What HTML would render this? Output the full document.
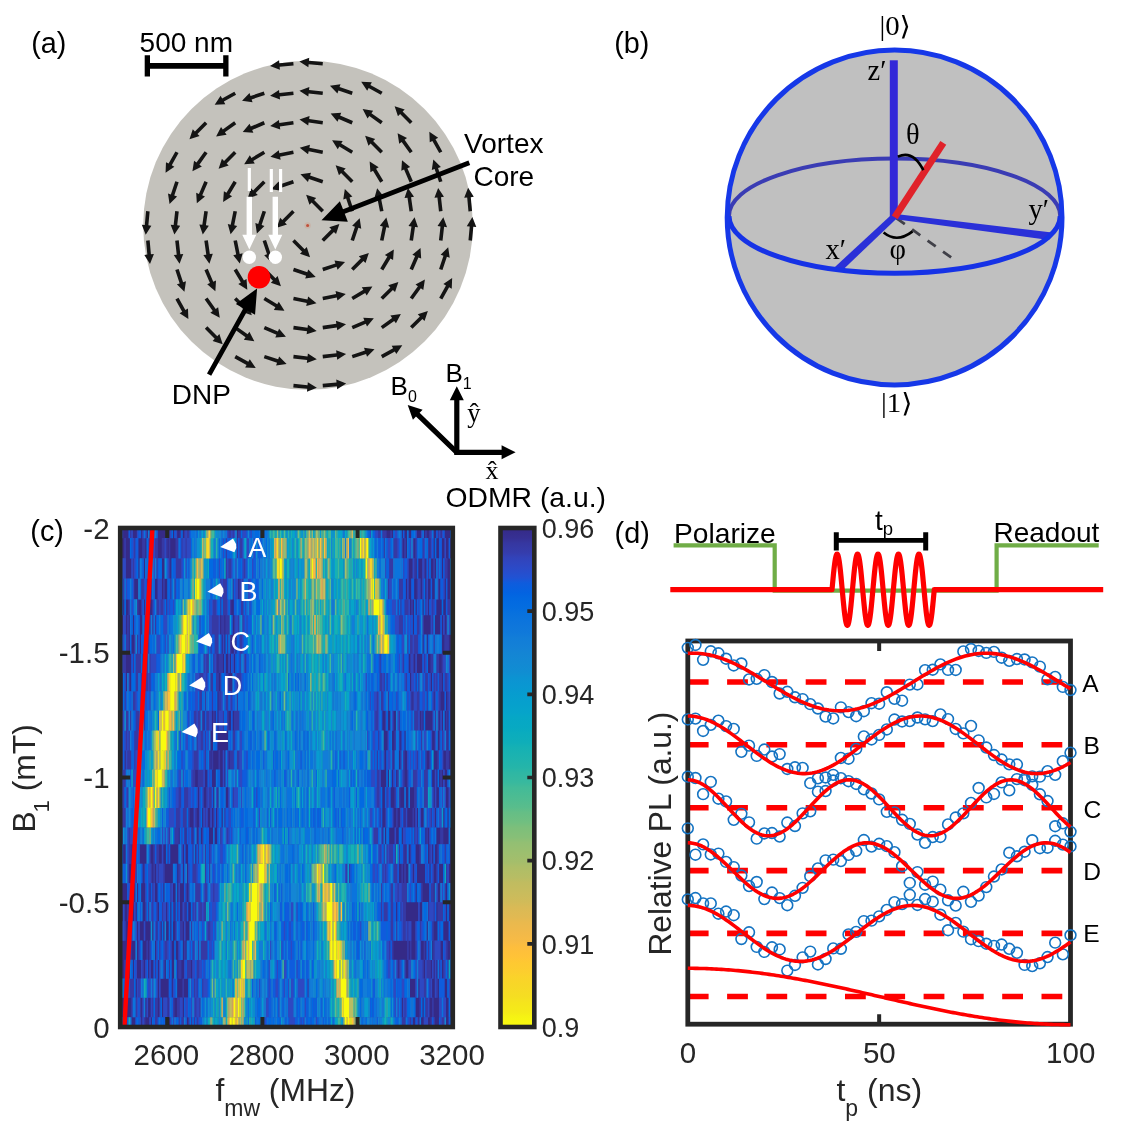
<!DOCTYPE html>
<html lang="en"><head><meta charset="utf-8"><title>Figure</title>
<style>html,body{margin:0;padding:0;background:#fff}svg{display:block}</style></head><body>
<svg width="1126" height="1125" viewBox="0 0 1126 1125">
<rect width="1126" height="1125" fill="#fff"/>
<g id="panel-a">
<ellipse cx="308.0" cy="225.3" rx="164.8" ry="164.5" fill="#c4c2bc"/>
<path fill="#141414" d="M293.28,61.96L279.34,63.22L279.06,60.24L270.04,65.88L279.93,69.8L279.66,66.81L293.6,65.54ZM322.91,61.96L308.97,60.69L309.24,57.7L299.35,61.62L308.37,67.26L308.64,64.28L322.59,65.54ZM234.33,91.68L222.1,98.48L220.64,95.85L214.67,104.66L225.3,104.24L223.84,101.62L236.08,94.82ZM263.76,91.54L250.47,95.97L249.53,93.12L242.03,100.68L252.56,102.23L251.61,99.38L264.89,94.96ZM293.24,91.46L279.33,93.01L279,90.03L270.09,95.85L280.06,99.57L279.73,96.59L293.64,95.04ZM322.95,91.46L309.03,89.91L309.37,86.93L299.39,90.65L308.31,96.47L308.64,93.49L322.55,95.04ZM352.82,91.54L339.54,87.12L340.49,84.27L329.96,85.82L337.45,93.38L338.4,90.53L351.68,94.96ZM382.62,91.68L370.39,84.88L371.84,82.26L361.21,81.84L367.18,90.65L368.64,88.02L380.88,94.82ZM204.82,121.48L194.92,131.38L192.8,129.26L189.48,139.37L199.59,136.04L197.47,133.92L207.37,124.02ZM234.16,121.29L222.77,129.42L221.03,126.98L216.09,136.41L226.61,134.79L224.86,132.35L236.25,124.21ZM263.62,121.1L250.75,126.61L249.57,123.85L242.73,132.01L253.35,132.68L252.17,129.92L265.03,124.4ZM293.19,120.97L279.33,122.95L278.9,119.98L270.18,126.07L280.26,129.48L279.84,126.51L293.7,124.53ZM323,120.97L309.15,118.99L309.57,116.02L299.49,119.43L308.21,125.52L308.64,122.55L322.5,124.53ZM352.96,121.1L340.09,115.58L341.27,112.82L330.65,113.49L337.49,121.65L338.67,118.89L351.54,124.4ZM382.8,121.29L371.4,113.15L373.15,110.71L362.63,109.09L367.57,118.52L369.31,116.08L380.7,124.21ZM412.52,121.48L402.62,111.58L404.74,109.46L394.63,106.13L397.96,116.24L400.08,114.12L409.98,124.02ZM175.4,151.38L168.6,163.61L165.98,162.16L165.56,172.79L174.37,166.82L171.75,165.36L178.55,153.12ZM204.63,151.2L196.49,162.6L194.05,160.85L192.43,171.37L201.86,166.43L199.42,164.69L207.56,153.3ZM233.94,150.98L224.04,160.88L221.92,158.76L218.59,168.87L228.7,165.54L226.58,163.42L236.48,153.52ZM263.4,150.71L251.39,157.91L249.85,155.34L244.17,164.34L254.79,163.57L253.25,161L265.25,153.79ZM293.09,150.48L279.36,153.23L278.77,150.29L270.4,156.86L280.65,159.7L280.07,156.76L293.79,154.02ZM323.1,150.48L309.37,147.74L309.96,144.8L299.71,147.64L308.08,154.21L308.67,151.27L322.4,154.02ZM353.18,150.71L341.17,143.5L342.71,140.93L332.1,140.16L337.78,149.16L339.32,146.59L351.32,153.79ZM383.02,150.98L373.12,141.08L375.24,138.96L365.13,135.63L368.46,145.74L370.58,143.62L380.48,153.52ZM412.71,151.2L404.58,139.81L407.02,138.07L397.59,133.13L399.21,143.65L401.65,141.9L409.79,153.3ZM442.32,151.38L435.52,139.14L438.15,137.68L429.34,131.71L429.76,142.34L432.38,140.89L439.18,153.12ZM175.27,181.18L170.84,194.46L167.99,193.51L169.54,204.04L177.1,196.55L174.26,195.6L178.68,182.32ZM204.44,181.04L198.92,193.91L196.17,192.73L196.84,203.35L204.99,196.51L202.23,195.33L207.75,182.46ZM233.67,180.82L226.46,192.83L223.89,191.29L223.12,201.9L232.12,196.22L229.55,194.68L236.75,182.68ZM263.05,180.48L253.15,190.38L251.03,188.26L247.71,198.37L257.82,195.04L255.7,192.92L265.6,183.02ZM292.87,180.04L279.59,184.47L278.64,181.62L271.15,189.18L281.68,190.73L280.73,187.88L294.01,183.46ZM323.32,180.04L310.04,175.62L310.99,172.77L300.46,174.32L307.95,181.88L308.9,179.03L322.18,183.46ZM353.52,180.48L343.62,170.58L345.74,168.46L335.63,165.13L338.96,175.24L341.08,173.12L350.98,183.02ZM383.29,180.82L376.09,168.82L378.66,167.28L369.66,161.6L370.43,172.21L373,170.67L380.21,182.68ZM412.9,181.04L407.39,168.17L410.15,166.99L401.99,160.15L401.32,170.77L404.08,169.59L409.6,182.46ZM442.46,181.18L438.03,167.9L440.88,166.95L433.32,159.46L431.77,169.99L434.62,169.04L439.04,182.32ZM146.07,211.09L144.8,225.03L141.81,224.76L145.73,234.65L151.37,225.63L148.38,225.36L149.65,211.41ZM175.19,211.05L173.64,224.97L170.66,224.63L174.38,234.61L180.2,225.69L177.22,225.36L178.76,211.45ZM204.31,211L202.33,224.85L199.36,224.43L202.77,234.51L208.86,225.79L205.89,225.36L207.87,211.5ZM233.44,210.9L230.7,224.63L227.76,224.04L230.6,234.29L237.17,225.92L234.23,225.33L236.97,211.6ZM262.62,210.68L258.19,223.96L255.34,223.01L256.89,233.54L264.45,226.05L261.61,225.1L266.03,211.82ZM292.17,209.98L282.27,219.88L280.15,217.76L276.82,227.87L286.94,224.54L284.82,222.42L294.71,212.52ZM324.02,209.98L314.12,200.08L316.24,197.96L306.13,194.63L309.46,204.74L311.58,202.62L321.48,212.52ZM353.96,210.68L349.53,197.4L352.38,196.45L344.82,188.96L343.27,199.49L346.12,198.54L350.54,211.82ZM383.52,210.9L380.77,197.17L383.71,196.58L377.14,188.21L374.3,198.46L377.24,197.87L379.98,211.6ZM413.03,211L411.05,197.14L414.02,196.71L407.93,187.99L404.52,198.07L407.49,197.65L409.47,211.5ZM442.54,211.05L440.99,197.14L443.97,196.81L438.15,187.89L434.43,197.87L437.41,197.53L438.96,211.45ZM472.04,211.09L470.78,197.14L473.76,196.87L468.12,187.85L464.2,197.74L467.19,197.47L468.46,211.41ZM146.07,240.68L147.33,254.62L144.35,254.89L149.99,263.92L153.91,254.02L150.92,254.29L149.65,240.35ZM175.19,240.71L176.73,254.63L173.75,254.96L179.57,263.87L183.29,253.9L180.31,254.23L178.76,240.32ZM204.31,240.77L206.29,254.63L203.32,255.05L209.42,263.78L212.82,253.69L209.85,254.12L207.87,240.26ZM233.44,240.87L236.19,254.6L233.25,255.18L239.82,263.56L242.66,253.3L239.72,253.89L236.97,240.16ZM262.62,241.08L267.04,254.36L264.2,255.31L271.76,262.81L273.31,252.28L270.46,253.23L266.03,239.94ZM292.17,241.79L302.07,251.69L299.95,253.81L310.06,257.13L306.74,247.02L304.61,249.14L294.71,239.24ZM324.02,241.79L333.92,231.89L336.04,234.01L339.37,223.9L329.26,227.22L331.38,229.34L321.48,239.24ZM353.96,241.08L358.38,227.8L361.23,228.75L359.68,218.22L352.12,225.71L354.97,226.66L350.54,239.94ZM383.52,240.87L386.26,227.14L389.2,227.73L386.36,217.47L379.79,225.84L382.73,226.43L379.98,240.16ZM413.03,240.77L415.01,226.91L417.98,227.33L414.57,217.25L408.48,225.98L411.45,226.4L409.47,240.26ZM442.54,240.71L444.09,226.8L447.07,227.13L443.35,217.16L437.53,226.07L440.51,226.4L438.96,240.32ZM472.04,240.68L473.31,226.73L476.3,227.01L472.38,217.11L466.74,226.14L469.72,226.41L468.46,240.35ZM175.27,270.11L179.7,283.39L176.85,284.34L184.41,291.84L185.96,281.31L183.11,282.25L178.68,268.97ZM204.44,270.25L209.95,283.12L207.2,284.3L215.35,291.14L216.02,280.52L213.26,281.7L207.75,268.83ZM233.67,270.47L240.87,282.47L238.3,284.02L247.3,289.69L246.53,279.08L243.96,280.62L236.75,268.62ZM263.05,270.81L272.95,280.71L270.83,282.84L280.94,286.16L277.62,276.05L275.5,278.17L265.6,268.27ZM292.87,271.25L306.15,275.68L305.21,278.52L315.74,276.97L308.24,269.42L307.29,272.26L294.01,267.83ZM323.32,271.25L336.6,266.82L337.55,269.67L345.04,262.11L334.51,260.56L335.46,263.41L322.18,267.83ZM353.52,270.81L363.42,260.92L365.54,263.04L368.87,252.92L358.76,256.25L360.88,258.37L350.98,268.27ZM383.29,270.47L390.5,258.46L393.07,260.01L393.84,249.39L384.84,255.07L387.41,256.61L380.21,268.62ZM412.9,270.25L418.42,257.38L421.18,258.56L420.51,247.94L412.35,254.78L415.11,255.96L409.6,268.83ZM442.46,270.11L446.88,256.83L449.73,257.78L448.18,247.25L440.62,254.74L443.47,255.69L439.04,268.97ZM175.4,299.44L182.2,311.68L179.58,313.14L188.39,319.11L187.97,308.48L185.35,309.93L178.55,297.7ZM204.63,299.62L212.76,311.01L210.32,312.75L219.75,317.69L218.14,307.17L215.69,308.92L207.56,297.52ZM233.94,299.84L243.84,309.74L241.71,311.86L251.83,315.19L248.5,305.08L246.38,307.2L236.48,297.3ZM263.4,300.11L275.4,307.32L273.86,309.89L284.48,310.66L278.8,301.66L277.26,304.23L265.25,297.03ZM293.09,300.34L306.82,303.08L306.23,306.02L316.49,303.18L308.11,296.61L307.52,299.55L293.79,296.8ZM323.1,300.34L336.83,297.59L337.42,300.53L345.79,293.96L335.54,291.12L336.13,294.06L322.4,296.8ZM353.18,300.11L365.18,292.91L366.72,295.48L372.4,286.48L361.79,287.25L363.33,289.82L351.32,297.03ZM383.02,299.84L392.92,289.94L395.04,292.06L398.37,281.95L388.26,285.28L390.38,287.4L380.48,297.3ZM412.71,299.62L420.85,288.22L423.29,289.97L424.91,279.45L415.48,284.39L417.92,286.13L409.79,297.52ZM442.32,299.44L449.12,287.21L451.74,288.66L452.16,278.03L443.35,284L445.98,285.46L439.18,297.7ZM204.82,328.87L214.72,338.77L212.6,340.89L222.71,344.22L219.39,334.1L217.26,336.22L207.37,326.33ZM234.16,329.06L245.55,337.2L243.81,339.64L254.33,341.26L249.39,331.83L247.65,334.27L236.25,326.13ZM263.62,329.25L276.48,334.77L275.3,337.52L285.93,336.86L279.08,328.7L277.9,331.46L265.03,325.94ZM293.19,329.38L307.05,331.36L306.62,334.33L316.71,330.92L307.98,324.83L307.56,327.8L293.7,325.82ZM323,329.38L336.86,327.4L337.29,330.37L346.01,324.27L335.93,320.87L336.35,323.84L322.5,325.82ZM352.96,329.25L365.83,323.74L367.01,326.5L373.85,318.34L363.23,317.67L364.41,320.43L351.54,325.94ZM382.8,329.06L394.19,320.93L395.93,323.37L400.87,313.94L390.35,315.55L392.1,318L380.7,326.13ZM412.52,328.87L422.42,318.97L424.54,321.09L427.87,310.98L417.76,314.3L419.88,316.43L409.98,326.33ZM234.33,358.2L246.57,365L245.12,367.62L255.75,368.04L249.78,359.23L248.32,361.85L236.08,355.05ZM263.76,358.33L277.04,362.76L276.09,365.61L286.62,364.06L279.12,356.5L278.18,359.35L264.89,354.92ZM293.24,358.41L307.16,359.96L306.83,362.94L316.8,359.22L307.89,353.4L307.55,356.38L293.64,354.84ZM322.95,358.41L336.86,356.87L337.19,359.85L346.11,354.03L336.13,350.31L336.47,353.29L322.55,354.84ZM352.82,358.33L366.1,353.91L367.05,356.75L374.54,349.19L364.01,347.65L364.96,350.49L351.68,354.92ZM382.62,358.2L394.86,351.4L396.32,354.02L402.29,345.21L391.66,345.63L393.11,348.25L380.88,355.05ZM293.28,387.45L307.22,388.71L306.95,391.7L316.85,387.78L307.82,382.14L307.55,385.13L293.6,383.86ZM322.91,387.45L336.86,386.18L337.13,389.17L346.15,383.53L336.26,379.61L336.53,382.59L322.59,383.86Z"/>
<circle cx="307.6" cy="225.4" r="3.2" fill="#c8b4a8"/><circle cx="307.6" cy="225.4" r="1.5" fill="#c0503a"/>
<path fill="#fff" d="M246.6,196.7H252V234.7H256.3L249.3,249.5L242.3,234.7H246.6Z"/>
<circle cx="249.3" cy="257.2" r="6.7" fill="#fff"/>
<path fill="#fff" d="M272.6,196.7H278V234.7H282.3L275.3,249.5L268.3,234.7H272.6Z"/>
<circle cx="275.3" cy="257.2" r="6.7" fill="#fff"/>
<text x="249.3" y="190.8" font-family="'Liberation Sans', Arial, Helvetica, sans-serif" font-size="33" fill="#fff" text-anchor="middle">I</text>
<text x="276" y="191.6" font-family="'Liberation Sans', Arial, Helvetica, sans-serif" font-size="33" fill="#fff" text-anchor="middle">II</text>
<circle cx="259" cy="277.3" r="11.3" fill="#ff0000"/>
<path fill="#000" d="M468.43,160.56L343,209.36L339.88,201.35L321.5,220.3L347.86,221.85L344.74,213.84L470.17,165.04Z"/>
<path fill="#000" d="M211.2,375.87L247.53,310.54L255.05,314.72L257.1,288.4L235.82,304.03L243.34,308.21L207,373.53Z"/>
<path fill="#000" d="M459.4,452.3L459.4,400.2L463.8,400.2L456.8,386.2L449.8,400.2L454.2,400.2L454.2,452.3Z"/>
<path fill="#000" d="M454.2,454.9L501.6,454.9L501.6,459.3L515.6,452.3L501.6,445.3L501.6,449.7L454.2,449.7Z"/>
<path fill="#000" d="M458.6,450.43L419.59,412.84L422.64,409.67L407.7,405L412.93,419.75L415.98,416.59L455,454.17Z"/>
<path fill="#000" d="M144.7,55.2h5.3v7.7h73.2v-7.7h5.3v21.3h-5.3v-7.7h-73.2v7.7h-5.3z"/>
<text x="31.2" y="52.5" font-family="'Liberation Sans', Arial, Helvetica, sans-serif" font-size="28.8" fill="#000" >(a)</text>
<text x="139.6" y="52.4" font-family="'Liberation Sans', Arial, Helvetica, sans-serif" font-size="28" fill="#000" >500 nm</text>
<text x="503.8" y="152.6" font-family="'Liberation Sans', Arial, Helvetica, sans-serif" font-size="28" fill="#000" text-anchor="middle">Vortex</text>
<text x="503.8" y="185.5" font-family="'Liberation Sans', Arial, Helvetica, sans-serif" font-size="28" fill="#000" text-anchor="middle">Core</text>
<text x="171.8" y="404.3" font-family="'Liberation Sans', Arial, Helvetica, sans-serif" font-size="28" fill="#000" >DNP</text>
<text x="390.6" y="394.8" font-family="'Liberation Sans', Arial, Helvetica, sans-serif" font-size="26" fill="#000">B<tspan font-size="16" dy="7">0</tspan></text>
<text x="445.4" y="382.4" font-family="'Liberation Sans', Arial, Helvetica, sans-serif" font-size="26" fill="#000">B<tspan font-size="16" dy="7">1</tspan></text>
<text x="467.2" y="421.8" font-family="'Liberation Serif', 'DejaVu Serif', 'Times New Roman', serif" font-size="26.5" fill="#000">&#375;</text>
<text x="485.6" y="478.8" font-family="'Liberation Serif', 'DejaVu Serif', 'Times New Roman', serif" font-size="26" fill="#000">x&#770;</text>
</g>
<g id="panel-b">
<circle cx="894.6" cy="217.5" r="167.4" fill="#c0c0c0"/>
<path d="M729,215.9A165.6,57.4 0 0 1 1060.2,215.9" fill="none" stroke="#3a3cb4" stroke-width="4"/>
<line x1="896.7" y1="218.4" x2="955.8" y2="260.8" stroke="#404048" stroke-width="2.8" stroke-dasharray="10,9"/>
<path fill="#2a30d8" d="M893.7,213.8L1052,232.4L1049,240L893.7,219.0Z"/>
<path fill="#2a30d8" d="M892.2,213.9L896.7,218.4L840.6,272L833.6,268.2Z"/>
<rect x="889.8" y="60.3" width="8" height="158.1" fill="#3328d8"/>
<path d="M729,215.9A165.6,57.4 0 0 0 1060.2,215.9" fill="none" stroke="#1632e6" stroke-width="5"/>
<line x1="894.7" y1="217.4" x2="943.3" y2="142.8" stroke="#e0222a" stroke-width="7"/>
<circle cx="894.6" cy="217.5" r="167.4" fill="none" stroke="#1638e8" stroke-width="5"/>
<path d="M897.8,156.6Q913,149.5 923.4,170.2" fill="none" stroke="#000" stroke-width="2.6"/>
<path d="M883.6,232.6Q897,243.5 912.6,231.4" fill="none" stroke="#000" stroke-width="2.6"/>
<text x="879.4" y="35" font-family="'Liberation Serif', 'DejaVu Serif', 'Times New Roman', serif" font-size="26.5" fill="#000" textLength="31.5" lengthAdjust="spacingAndGlyphs">|0&#10217;</text>
<text x="881" y="412" font-family="'Liberation Serif', 'DejaVu Serif', 'Times New Roman', serif" font-size="26.5" fill="#000" textLength="31.5" lengthAdjust="spacingAndGlyphs">|1&#10217;</text>
<text x="867.5" y="79.6" font-family="'Liberation Serif', 'DejaVu Serif', 'Times New Roman', serif" font-size="28.5" fill="#000" >z&#8242;</text>
<text x="825.5" y="259.3" font-family="'Liberation Serif', 'DejaVu Serif', 'Times New Roman', serif" font-size="28.5" fill="#000" >x&#8242;</text>
<text x="1028.5" y="219" font-family="'Liberation Serif', 'DejaVu Serif', 'Times New Roman', serif" font-size="28.5" fill="#000" >y&#8242;</text>
<text x="906" y="143.9" font-family="'Liberation Serif', 'DejaVu Serif', 'Times New Roman', serif" font-size="28.5" fill="#000" >&#952;</text>
<text x="889.5" y="258.5" font-family="'Liberation Serif', 'DejaVu Serif', 'Times New Roman', serif" font-size="28.5" fill="#000" >&#966;</text>
<text x="614.2" y="52.5" font-family="'Liberation Sans', Arial, Helvetica, sans-serif" font-size="28.8" fill="#000">(b)</text>
</g>
<g id="panel-c">
<rect x="120.2" y="528.0" width="332.6" height="499" fill="#353eaf"/>
<path fill="#352a87" d="M122.97,528H128.67V538.15H122.97ZM132.67,528H136.98V538.15H132.67ZM140.99,528H142.52V538.15H140.99ZM146.53,528H148.07V538.15H146.53ZM157.62,528H166.08V538.15H157.62ZM172.86,528H174.4V538.15H172.86ZM177.02,528H179.94V538.15H177.02ZM182.56,528H184.1V538.15H182.56ZM236.61,528H238.15V538.15H236.61ZM386.28,528H390.59V538.15H386.28ZM391.82,528H393.36V538.15H391.82ZM401.52,528H403.06V538.15H401.52ZM404.3,528H407.22V538.15H404.3ZM408.45,528H411.38V538.15H408.45ZM416.77,528H421.08V538.15H416.77ZM423.7,528H425.23V538.15H423.7ZM426.47,528H429.39V538.15H426.47ZM433.4,528H436.32V538.15H433.4ZM440.33,528H441.86V538.15H440.33ZM444.49,528H450.18V538.15H444.49ZM120.2,538H124.51V558.45H120.2ZM125.74,538H130.05V558.45H125.74ZM138.22,538H142.52V558.45H138.22ZM145.15,538H146.68V558.45H145.15ZM149.3,538H150.84V558.45H149.3ZM157.62,538H161.93V558.45H157.62ZM167.32,538H168.85V558.45H167.32ZM170.09,538H175.78V558.45H170.09ZM402.91,538H404.45V558.45H402.91ZM405.68,538H407.22V558.45H405.68ZM414,538H415.53V558.45H414ZM429.24,538H430.78V558.45H429.24ZM433.4,538H434.93V558.45H433.4ZM436.17,538H439.09V558.45H436.17ZM441.71,538H444.63V558.45H441.71ZM445.87,538H448.79V558.45H445.87ZM451.41,538H452.95V558.45H451.41ZM125.74,558.3H131.44V578.75H125.74ZM138.22,558.3H139.75V578.75H138.22ZM143.76,558.3H145.3V578.75H143.76ZM161.78,558.3H164.7V578.75H161.78ZM170.09,558.3H171.63V578.75H170.09ZM408.45,558.3H412.76V578.75H408.45ZM415.38,558.3H416.92V578.75H415.38ZM418.15,558.3H422.46V578.75H418.15ZM425.08,558.3H426.62V578.75H425.08ZM430.63,558.3H433.55V578.75H430.63ZM434.78,558.3H436.32V578.75H434.78ZM441.71,558.3H443.25V578.75H441.71ZM447.26,558.3H450.18V578.75H447.26ZM134.06,578.6H138.37V599.45H134.06ZM146.53,578.6H148.07V599.45H146.53ZM154.85,578.6H157.77V599.45H154.85ZM161.78,578.6H163.31V599.45H161.78ZM164.55,578.6H167.47V599.45H164.55ZM238,578.6H239.53V599.45H238ZM405.68,578.6H407.22V599.45H405.68ZM408.45,578.6H411.38V599.45H408.45ZM414,578.6H416.92V599.45H414ZM420.93,578.6H422.46V599.45H420.93ZM425.08,578.6H426.62V599.45H425.08ZM427.86,578.6H430.78V599.45H427.86ZM432.01,578.6H434.93V599.45H432.01ZM438.94,578.6H440.48V599.45H438.94ZM444.49,578.6H446.02V599.45H444.49ZM447.26,578.6H450.18V599.45H447.26ZM122.97,599.3H124.51V615.15H122.97ZM125.74,599.3H128.67V615.15H125.74ZM138.22,599.3H141.14V615.15H138.22ZM143.76,599.3H145.3V615.15H143.76ZM146.53,599.3H152.22V615.15H146.53ZM231.07,599.3H233.99V615.15H231.07ZM409.84,599.3H411.38V615.15H409.84ZM412.61,599.3H414.15V615.15H412.61ZM415.38,599.3H416.92V615.15H415.38ZM422.31,599.3H423.85V615.15H422.31ZM427.86,599.3H429.39V615.15H427.86ZM436.17,599.3H441.86V615.15H436.17ZM443.1,599.3H446.02V615.15H443.1ZM120.2,615H123.12V634.65H120.2ZM125.74,615H127.28V634.65H125.74ZM128.52,615H130.05V634.65H128.52ZM132.67,615H134.21V634.65H132.67ZM139.6,615H142.52V634.65H139.6ZM145.15,615H148.07V634.65H145.15ZM219.98,615H221.52V634.65H219.98ZM224.14,615H225.67V634.65H224.14ZM232.45,615H233.99V634.65H232.45ZM412.61,615H414.15V634.65H412.61ZM423.7,615H430.78V634.65H423.7ZM434.78,615H440.48V634.65H434.78ZM441.71,615H443.25V634.65H441.71ZM444.49,615H446.02V634.65H444.49ZM120.2,634.5H121.74V653.85H120.2ZM128.52,634.5H130.05V653.85H128.52ZM131.29,634.5H134.21V653.85H131.29ZM139.6,634.5H141.14V653.85H139.6ZM221.37,634.5H222.9V653.85H221.37ZM224.14,634.5H225.67V653.85H224.14ZM231.07,634.5H233.99V653.85H231.07ZM235.22,634.5H236.76V653.85H235.22ZM422.31,634.5H423.85V653.85H422.31ZM426.47,634.5H428V653.85H426.47ZM441.71,634.5H444.63V653.85H441.71ZM448.64,634.5H451.56V653.85H448.64ZM120.2,653.7H121.74V673.05H120.2ZM125.74,653.7H131.44V673.05H125.74ZM142.37,653.7H143.91V673.05H142.37ZM217.21,653.7H218.74V673.05H217.21ZM222.75,653.7H224.29V673.05H222.75ZM225.52,653.7H228.45V673.05H225.52ZM229.68,653.7H231.22V673.05H229.68ZM233.84,653.7H235.37V673.05H233.84ZM408.45,653.7H409.99V673.05H408.45ZM414,653.7H415.53V673.05H414ZM416.77,653.7H422.46V673.05H416.77ZM427.86,653.7H430.78V673.05H427.86ZM438.94,653.7H441.86V673.05H438.94ZM450.03,653.7H452.95V673.05H450.03ZM121.59,672.9H123.12V691.45H121.59ZM125.74,672.9H127.28V691.45H125.74ZM129.9,672.9H131.44V691.45H129.9ZM218.59,672.9H220.13V691.45H218.59ZM228.3,672.9H232.6V691.45H228.3ZM409.84,672.9H411.38V691.45H409.84ZM430.63,672.9H432.16V691.45H430.63ZM441.71,672.9H443.25V691.45H441.71ZM121.59,691.3H123.12V710.65H121.59ZM217.21,691.3H218.74V710.65H217.21ZM411.23,691.3H412.76V710.65H411.23ZM433.4,691.3H434.93V710.65H433.4ZM440.33,691.3H444.63V710.65H440.33ZM445.87,691.3H447.41V710.65H445.87ZM450.03,691.3H452.95V710.65H450.03ZM120.2,710.5H121.74V730.65H120.2ZM203.35,710.5H204.89V730.65H203.35ZM211.67,710.5H213.2V730.65H211.67ZM214.44,710.5H215.97V730.65H214.44ZM217.21,710.5H218.74V730.65H217.21ZM228.3,710.5H231.22V730.65H228.3ZM232.45,710.5H233.99V730.65H232.45ZM382.12,710.5H385.04V730.65H382.12ZM387.67,710.5H390.59V730.65H387.67ZM393.21,710.5H396.13V730.65H393.21ZM419.54,710.5H421.08V730.65H419.54ZM422.31,710.5H423.85V730.65H422.31ZM425.08,710.5H432.16V730.65H425.08ZM438.94,710.5H440.48V730.65H438.94ZM441.71,710.5H443.25V730.65H441.71ZM444.49,710.5H446.02V730.65H444.49ZM447.26,710.5H448.79V730.65H447.26ZM450.03,710.5H452.95V730.65H450.03ZM120.2,730.5H121.74V750.45H120.2ZM210.28,730.5H213.2V750.45H210.28ZM217.21,730.5H228.45V750.45H217.21ZM383.51,730.5H387.82V750.45H383.51ZM391.82,730.5H394.75V750.45H391.82ZM400.14,730.5H401.67V750.45H400.14ZM404.3,730.5H405.83V750.45H404.3ZM432.01,730.5H434.93V750.45H432.01ZM437.56,730.5H439.09V750.45H437.56ZM447.26,730.5H448.79V750.45H447.26ZM451.41,730.5H452.95V750.45H451.41ZM124.36,750.3H125.89V769.65H124.36ZM210.28,750.3H211.82V769.65H210.28ZM213.05,750.3H218.74V769.65H213.05ZM219.98,750.3H222.9V769.65H219.98ZM224.14,750.3H225.67V769.65H224.14ZM228.3,750.3H229.83V769.65H228.3ZM384.89,750.3H386.43V769.65H384.89ZM393.21,750.3H394.75V769.65H393.21ZM398.75,750.3H400.29V769.65H398.75ZM404.3,750.3H407.22V769.65H404.3ZM426.47,750.3H429.39V769.65H426.47ZM433.4,750.3H437.71V769.65H433.4ZM443.1,750.3H446.02V769.65H443.1ZM448.64,750.3H450.18V769.65H448.64ZM195.04,769.5H197.96V787.15H195.04ZM204.74,769.5H207.66V787.15H204.74ZM211.67,769.5H215.97V787.15H211.67ZM219.98,769.5H222.9V787.15H219.98ZM224.14,769.5H225.67V787.15H224.14ZM380.74,769.5H386.43V787.15H380.74ZM387.67,769.5H389.2V787.15H387.67ZM391.82,769.5H393.36V787.15H391.82ZM395.98,769.5H397.52V787.15H395.98ZM404.3,769.5H407.22V787.15H404.3ZM432.01,769.5H434.93V787.15H432.01ZM436.17,769.5H437.71V787.15H436.17ZM438.94,769.5H440.48V787.15H438.94ZM441.71,769.5H443.25V787.15H441.71ZM444.49,769.5H447.41V787.15H444.49ZM197.81,787H199.34V807.95H197.81ZM203.35,787H206.27V807.95H203.35ZM213.05,787H214.59V807.95H213.05ZM217.21,787H218.74V807.95H217.21ZM225.52,787H228.45V807.95H225.52ZM382.12,787H385.04V807.95H382.12ZM390.44,787H394.75V807.95H390.44ZM400.14,787H404.45V807.95H400.14ZM405.68,787H408.6V807.95H405.68ZM409.84,787H414.15V807.95H409.84ZM433.4,787H434.93V807.95H433.4ZM436.17,787H439.09V807.95H436.17ZM445.87,787H448.79V807.95H445.87ZM451.41,787H452.95V807.95H451.41ZM189.49,807.8H193.8V827.55H189.49ZM196.42,807.8H199.34V827.55H196.42ZM201.96,807.8H203.5V827.55H201.96ZM207.51,807.8H210.43V827.55H207.51ZM211.67,807.8H213.2V827.55H211.67ZM215.82,807.8H217.36V827.55H215.82ZM221.37,807.8H222.9V827.55H221.37ZM382.12,807.8H385.04V827.55H382.12ZM393.21,807.8H396.13V827.55H393.21ZM397.37,807.8H400.29V827.55H397.37ZM404.3,807.8H405.83V827.55H404.3ZM407.07,807.8H412.76V827.55H407.07ZM414,807.8H415.53V827.55H414ZM416.77,807.8H418.3V827.55H416.77ZM420.93,807.8H423.85V827.55H420.93ZM434.78,807.8H436.32V827.55H434.78ZM443.1,807.8H444.63V827.55H443.1ZM447.26,807.8H448.79V827.55H447.26ZM178.41,827.4H179.94V844.35H178.41ZM185.33,827.4H186.87V844.35H185.33ZM192.26,827.4H193.8V844.35H192.26ZM196.42,827.4H197.96V844.35H196.42ZM200.58,827.4H202.11V844.35H200.58ZM208.89,827.4H213.2V844.35H208.89ZM214.44,827.4H217.36V844.35H214.44ZM382.12,827.4H383.66V844.35H382.12ZM384.89,827.4H386.43V844.35H384.89ZM389.05,827.4H394.75V844.35H389.05ZM395.98,827.4H398.9V844.35H395.98ZM401.52,827.4H403.06V844.35H401.52ZM425.08,827.4H426.62V844.35H425.08ZM427.86,827.4H429.39V844.35H427.86ZM436.17,827.4H440.48V844.35H436.17ZM443.1,827.4H448.79V844.35H443.1ZM450.03,827.4H451.56V844.35H450.03ZM122.97,844.2H125.89V863.85H122.97ZM131.29,844.2H132.82V863.85H131.29ZM134.06,844.2H135.59V863.85H134.06ZM139.6,844.2H146.68V863.85H139.6ZM150.69,844.2H153.61V863.85H150.69ZM159,844.2H161.93V863.85H159ZM163.16,844.2H166.08V863.85H163.16ZM170.09,844.2H178.56V863.85H170.09ZM182.56,844.2H184.1V863.85H182.56ZM185.33,844.2H188.26V863.85H185.33ZM195.04,844.2H196.57V863.85H195.04ZM404.3,844.2H405.83V863.85H404.3ZM408.45,844.2H409.99V863.85H408.45ZM415.38,844.2H419.69V863.85H415.38ZM427.86,844.2H429.39V863.85H427.86ZM432.01,844.2H433.55V863.85H432.01ZM434.78,844.2H437.71V863.85H434.78ZM450.03,844.2H452.95V863.85H450.03ZM128.52,863.7H134.21V883.15H128.52ZM142.37,863.7H143.91V883.15H142.37ZM152.07,863.7H153.61V883.15H152.07ZM154.85,863.7H156.38V883.15H154.85ZM164.55,863.7H173.01V883.15H164.55ZM177.02,863.7H178.56V883.15H177.02ZM182.56,863.7H184.1V883.15H182.56ZM186.72,863.7H188.26V883.15H186.72ZM398.75,863.7H401.67V883.15H398.75ZM402.91,863.7H404.45V883.15H402.91ZM405.68,863.7H408.6V883.15H405.68ZM412.61,863.7H414.15V883.15H412.61ZM416.77,863.7H425.23V883.15H416.77ZM429.24,863.7H430.78V883.15H429.24ZM433.4,863.7H436.32V883.15H433.4ZM438.94,863.7H443.25V883.15H438.94ZM448.64,863.7H452.95V883.15H448.64ZM120.2,883H127.28V902.15H120.2ZM131.29,883H132.82V902.15H131.29ZM134.06,883H135.59V902.15H134.06ZM136.83,883H138.37V902.15H136.83ZM140.99,883H145.3V902.15H140.99ZM149.3,883H150.84V902.15H149.3ZM154.85,883H157.77V902.15H154.85ZM163.16,883H164.7V902.15H163.16ZM172.86,883H175.78V902.15H172.86ZM177.02,883H178.56V902.15H177.02ZM179.79,883H184.1V902.15H179.79ZM186.72,883H188.26V902.15H186.72ZM415.38,883H416.92V902.15H415.38ZM422.31,883H429.39V902.15H422.31ZM433.4,883H434.93V902.15H433.4ZM437.56,883H440.48V902.15H437.56ZM445.87,883H447.41V902.15H445.87ZM120.2,902H123.12V921.35H120.2ZM124.36,902H127.28V921.35H124.36ZM128.52,902H131.44V921.35H128.52ZM132.67,902H134.21V921.35H132.67ZM135.44,902H136.98V921.35H135.44ZM142.37,902H145.3V921.35H142.37ZM157.62,902H159.15V921.35H157.62ZM165.93,902H167.47V921.35H165.93ZM170.09,902H171.63V921.35H170.09ZM174.25,902H175.78V921.35H174.25ZM179.79,902H182.71V921.35H179.79ZM185.33,902H186.87V921.35H185.33ZM188.11,902H191.03V921.35H188.11ZM395.98,902H397.52V921.35H395.98ZM405.68,902H418.3V921.35H405.68ZM419.54,902H422.46V921.35H419.54ZM436.17,902H437.71V921.35H436.17ZM445.87,902H447.41V921.35H445.87ZM448.64,902H452.95V921.35H448.64ZM125.74,921.2H131.44V940.65H125.74ZM136.83,921.2H138.37V940.65H136.83ZM139.6,921.2H143.91V940.65H139.6ZM145.15,921.2H150.84V940.65H145.15ZM152.07,921.2H153.61V940.65H152.07ZM156.23,921.2H157.77V940.65H156.23ZM160.39,921.2H161.93V940.65H160.39ZM163.16,921.2H164.7V940.65H163.16ZM165.93,921.2H168.85V940.65H165.93ZM170.09,921.2H171.63V940.65H170.09ZM172.86,921.2H175.78V940.65H172.86ZM182.56,921.2H184.1V940.65H182.56ZM185.33,921.2H189.64V940.65H185.33ZM411.23,921.2H415.53V940.65H411.23ZM426.47,921.2H428V940.65H426.47ZM433.4,921.2H437.71V940.65H433.4ZM443.1,921.2H448.79V940.65H443.1ZM450.03,921.2H451.56V940.65H450.03ZM121.59,940.5H128.67V959.95H121.59ZM131.29,940.5H135.59V959.95H131.29ZM136.83,940.5H138.37V959.95H136.83ZM142.37,940.5H146.68V959.95H142.37ZM147.92,940.5H149.45V959.95H147.92ZM154.85,940.5H156.38V959.95H154.85ZM171.48,940.5H174.4V959.95H171.48ZM175.63,940.5H178.56V959.95H175.63ZM182.56,940.5H184.1V959.95H182.56ZM185.33,940.5H186.87V959.95H185.33ZM393.21,940.5H407.22V959.95H393.21ZM408.45,940.5H409.99V959.95H408.45ZM411.23,940.5H415.53V959.95H411.23ZM420.93,940.5H423.85V959.95H420.93ZM425.08,940.5H426.62V959.95H425.08ZM432.01,940.5H433.55V959.95H432.01ZM440.33,940.5H443.25V959.95H440.33ZM447.26,940.5H450.18V959.95H447.26ZM121.59,959.8H124.51V978.75H121.59ZM125.74,959.8H127.28V978.75H125.74ZM128.52,959.8H130.05V978.75H128.52ZM132.67,959.8H134.21V978.75H132.67ZM136.83,959.8H141.14V978.75H136.83ZM143.76,959.8H145.3V978.75H143.76ZM147.92,959.8H149.45V978.75H147.92ZM150.69,959.8H153.61V978.75H150.69ZM157.62,959.8H159.15V978.75H157.62ZM164.55,959.8H166.08V978.75H164.55ZM171.48,959.8H174.4V978.75H171.48ZM177.02,959.8H178.56V978.75H177.02ZM181.18,959.8H184.1V978.75H181.18ZM190.88,959.8H192.41V978.75H190.88ZM397.37,959.8H398.9V978.75H397.37ZM405.68,959.8H408.6V978.75H405.68ZM423.7,959.8H425.23V978.75H423.7ZM430.63,959.8H432.16V978.75H430.63ZM433.4,959.8H434.93V978.75H433.4ZM436.17,959.8H437.71V978.75H436.17ZM441.71,959.8H443.25V978.75H441.71ZM125.74,978.6H127.28V997.75H125.74ZM135.44,978.6H136.98V997.75H135.44ZM157.62,978.6H159.15V997.75H157.62ZM160.39,978.6H168.85V997.75H160.39ZM171.48,978.6H173.01V997.75H171.48ZM177.02,978.6H182.71V997.75H177.02ZM183.95,978.6H188.26V997.75H183.95ZM409.84,978.6H415.53V997.75H409.84ZM418.15,978.6H419.69V997.75H418.15ZM432.01,978.6H434.93V997.75H432.01ZM437.56,978.6H439.09V997.75H437.56ZM444.49,978.6H447.41V997.75H444.49ZM120.2,997.6H131.44V1017.35H120.2ZM140.99,997.6H142.52V1017.35H140.99ZM145.15,997.6H146.68V1017.35H145.15ZM147.92,997.6H150.84V1017.35H147.92ZM157.62,997.6H159.15V1017.35H157.62ZM161.78,997.6H163.31V1017.35H161.78ZM167.32,997.6H168.85V1017.35H167.32ZM174.25,997.6H177.17V1017.35H174.25ZM182.56,997.6H184.1V1017.35H182.56ZM401.52,997.6H403.06V1017.35H401.52ZM415.38,997.6H419.69V1017.35H415.38ZM422.31,997.6H423.85V1017.35H422.31ZM429.24,997.6H432.16V1017.35H429.24ZM433.4,997.6H439.09V1017.35H433.4ZM445.87,997.6H448.79V1017.35H445.87ZM451.41,997.6H452.95V1017.35H451.41ZM124.36,1017.2H127.28V1027.15H124.36ZM131.29,1017.2H135.59V1027.15H131.29ZM140.99,1017.2H142.52V1027.15H140.99ZM145.15,1017.2H149.45V1027.15H145.15ZM150.69,1017.2H152.22V1027.15H150.69ZM167.32,1017.2H170.24V1027.15H167.32ZM186.72,1017.2H188.26V1027.15H186.72ZM412.61,1017.2H415.53V1027.15H412.61ZM418.15,1017.2H419.69V1027.15H418.15ZM420.93,1017.2H423.85V1027.15H420.93ZM427.86,1017.2H430.78V1027.15H427.86ZM434.78,1017.2H439.09V1027.15H434.78ZM445.87,1017.2H448.79V1027.15H445.87ZM451.41,1017.2H452.95V1027.15H451.41Z"/>
<path fill="#3639a4" d="M129.9,528H131.44V538.15H129.9ZM149.3,528H150.84V538.15H149.3ZM167.32,528H170.24V538.15H167.32ZM179.79,528H181.33V538.15H179.79ZM183.95,528H185.48V538.15H183.95ZM186.72,528H189.64V538.15H186.72ZM228.3,528H231.22V538.15H228.3ZM232.45,528H233.99V538.15H232.45ZM238,528H240.92V538.15H238ZM377.97,528H380.89V538.15H377.97ZM382.12,528H386.43V538.15H382.12ZM390.44,528H391.97V538.15H390.44ZM425.08,528H426.62V538.15H425.08ZM429.24,528H430.78V538.15H429.24ZM437.56,528H439.09V538.15H437.56ZM124.36,538H125.89V558.45H124.36ZM134.06,538H135.59V558.45H134.06ZM142.37,538H145.3V558.45H142.37ZM154.85,538H157.77V558.45H154.85ZM161.78,538H164.7V558.45H161.78ZM165.93,538H167.47V558.45H165.93ZM168.7,538H170.24V558.45H168.7ZM175.63,538H178.56V558.45H175.63ZM181.18,538H182.71V558.45H181.18ZM185.33,538H186.87V558.45H185.33ZM225.52,538H227.06V558.45H225.52ZM236.61,538H238.15V558.45H236.61ZM239.38,538H242.3V558.45H239.38ZM383.51,538H385.04V558.45H383.51ZM393.21,538H397.52V558.45H393.21ZM401.52,538H403.06V558.45H401.52ZM404.3,538H405.83V558.45H404.3ZM412.61,538H414.15V558.45H412.61ZM415.38,538H416.92V558.45H415.38ZM422.31,538H423.85V558.45H422.31ZM427.86,538H429.39V558.45H427.86ZM450.03,538H451.56V558.45H450.03ZM132.67,558.3H134.21V578.75H132.67ZM156.23,558.3H157.77V578.75H156.23ZM168.7,558.3H170.24V578.75H168.7ZM175.63,558.3H181.33V578.75H175.63ZM225.52,558.3H227.06V578.75H225.52ZM228.3,558.3H231.22V578.75H228.3ZM243.54,558.3H245.08V578.75H243.54ZM389.05,558.3H393.36V578.75H389.05ZM414,558.3H415.53V578.75H414ZM423.7,558.3H425.23V578.75H423.7ZM427.86,558.3H429.39V578.75H427.86ZM433.4,558.3H434.93V578.75H433.4ZM444.49,558.3H447.41V578.75H444.49ZM122.97,578.6H124.51V599.45H122.97ZM140.99,578.6H143.91V599.45H140.99ZM150.69,578.6H152.22V599.45H150.69ZM163.16,578.6H164.7V599.45H163.16ZM170.09,578.6H171.63V599.45H170.09ZM174.25,578.6H175.78V599.45H174.25ZM219.98,578.6H221.52V599.45H219.98ZM222.75,578.6H227.06V599.45H222.75ZM232.45,578.6H233.99V599.45H232.45ZM239.38,578.6H240.92V599.45H239.38ZM242.15,578.6H243.69V599.45H242.15ZM387.67,578.6H389.2V599.45H387.67ZM398.75,578.6H403.06V599.45H398.75ZM416.77,578.6H418.3V599.45H416.77ZM419.54,578.6H421.08V599.45H419.54ZM437.56,578.6H439.09V599.45H437.56ZM128.52,599.3H130.05V615.15H128.52ZM136.83,599.3H138.37V615.15H136.83ZM140.99,599.3H142.52V615.15H140.99ZM152.07,599.3H153.61V615.15H152.07ZM156.23,599.3H159.15V615.15H156.23ZM160.39,599.3H163.31V615.15H160.39ZM165.93,599.3H167.47V615.15H165.93ZM213.05,599.3H215.97V615.15H213.05ZM219.98,599.3H221.52V615.15H219.98ZM222.75,599.3H227.06V615.15H222.75ZM229.68,599.3H231.22V615.15H229.68ZM240.77,599.3H243.69V615.15H240.77ZM397.37,599.3H398.9V615.15H397.37ZM400.14,599.3H401.67V615.15H400.14ZM404.3,599.3H408.6V615.15H404.3ZM411.23,599.3H412.76V615.15H411.23ZM425.08,599.3H426.62V615.15H425.08ZM432.01,599.3H433.55V615.15H432.01ZM447.26,599.3H450.18V615.15H447.26ZM127.13,615H128.67V634.65H127.13ZM147.92,615H150.84V634.65H147.92ZM152.07,615H153.61V634.65H152.07ZM154.85,615H156.38V634.65H154.85ZM211.67,615H218.74V634.65H211.67ZM221.37,615H224.29V634.65H221.37ZM225.52,615H229.83V634.65H225.52ZM233.84,615H235.37V634.65H233.84ZM238,615H239.53V634.65H238ZM242.15,615H243.69V634.65H242.15ZM398.75,615H403.06V634.65H398.75ZM416.77,615H419.69V634.65H416.77ZM422.31,615H423.85V634.65H422.31ZM432.01,615H433.55V634.65H432.01ZM445.87,615H447.41V634.65H445.87ZM125.74,634.5H128.67V653.85H125.74ZM134.06,634.5H135.59V653.85H134.06ZM136.83,634.5H138.37V653.85H136.83ZM147.92,634.5H149.45V653.85H147.92ZM210.28,634.5H211.82V653.85H210.28ZM214.44,634.5H218.74V653.85H214.44ZM226.91,634.5H228.45V653.85H226.91ZM229.68,634.5H231.22V653.85H229.68ZM239.38,634.5H242.3V653.85H239.38ZM407.07,634.5H408.6V653.85H407.07ZM409.84,634.5H412.76V653.85H409.84ZM414,634.5H418.3V653.85H414ZM433.4,634.5H434.93V653.85H433.4ZM444.49,634.5H448.79V653.85H444.49ZM122.97,653.7H125.89V673.05H122.97ZM132.67,653.7H134.21V673.05H132.67ZM135.44,653.7H141.14V673.05H135.44ZM146.53,653.7H148.07V673.05H146.53ZM149.3,653.7H150.84V673.05H149.3ZM203.35,653.7H204.89V673.05H203.35ZM206.12,653.7H209.04V673.05H206.12ZM213.05,653.7H214.59V673.05H213.05ZM215.82,653.7H217.36V673.05H215.82ZM218.59,653.7H222.9V673.05H218.59ZM239.38,653.7H240.92V673.05H239.38ZM244.93,653.7H246.46V673.05H244.93ZM379.35,653.7H380.89V673.05H379.35ZM402.91,653.7H404.45V673.05H402.91ZM409.84,653.7H411.38V673.05H409.84ZM412.61,653.7H414.15V673.05H412.61ZM423.7,653.7H425.23V673.05H423.7ZM430.63,653.7H433.55V673.05H430.63ZM436.17,653.7H439.09V673.05H436.17ZM441.71,653.7H443.25V673.05H441.71ZM120.2,672.9H121.74V691.45H120.2ZM128.52,672.9H130.05V691.45H128.52ZM135.44,672.9H138.37V691.45H135.44ZM140.99,672.9H148.07V691.45H140.99ZM149.3,672.9H150.84V691.45H149.3ZM199.19,672.9H203.5V691.45H199.19ZM206.12,672.9H207.66V691.45H206.12ZM210.28,672.9H213.2V691.45H210.28ZM215.82,672.9H218.74V691.45H215.82ZM219.98,672.9H221.52V691.45H219.98ZM225.52,672.9H228.45V691.45H225.52ZM236.61,672.9H240.92V691.45H236.61ZM379.35,672.9H382.27V691.45H379.35ZM383.51,672.9H385.04V691.45H383.51ZM386.28,672.9H387.82V691.45H386.28ZM405.68,672.9H407.22V691.45H405.68ZM415.38,672.9H416.92V691.45H415.38ZM418.15,672.9H419.69V691.45H418.15ZM425.08,672.9H428V691.45H425.08ZM433.4,672.9H434.93V691.45H433.4ZM436.17,672.9H437.71V691.45H436.17ZM438.94,672.9H441.86V691.45H438.94ZM444.49,672.9H447.41V691.45H444.49ZM450.03,672.9H451.56V691.45H450.03ZM124.36,691.3H125.89V710.65H124.36ZM132.67,691.3H135.59V710.65H132.67ZM199.19,691.3H202.11V710.65H199.19ZM204.74,691.3H206.27V710.65H204.74ZM211.67,691.3H213.2V710.65H211.67ZM218.59,691.3H221.52V710.65H218.59ZM225.52,691.3H228.45V710.65H225.52ZM231.07,691.3H232.6V710.65H231.07ZM236.61,691.3H238.15V710.65H236.61ZM376.58,691.3H378.12V710.65H376.58ZM380.74,691.3H383.66V710.65H380.74ZM387.67,691.3H389.2V710.65H387.67ZM412.61,691.3H414.15V710.65H412.61ZM416.77,691.3H419.69V710.65H416.77ZM426.47,691.3H428V710.65H426.47ZM438.94,691.3H440.48V710.65H438.94ZM447.26,691.3H448.79V710.65H447.26ZM121.59,710.5H123.12V730.65H121.59ZM125.74,710.5H128.67V730.65H125.74ZM129.9,710.5H131.44V730.65H129.9ZM135.44,710.5H139.75V730.65H135.44ZM143.76,710.5H145.3V730.65H143.76ZM193.65,710.5H196.57V730.65H193.65ZM197.81,710.5H200.73V730.65H197.81ZM201.96,710.5H203.5V730.65H201.96ZM206.12,710.5H209.04V730.65H206.12ZM213.05,710.5H214.59V730.65H213.05ZM222.75,710.5H224.29V730.65H222.75ZM226.91,710.5H228.45V730.65H226.91ZM233.84,710.5H239.53V730.65H233.84ZM375.19,710.5H378.12V730.65H375.19ZM384.89,710.5H386.43V730.65H384.89ZM398.75,710.5H400.29V730.65H398.75ZM414,710.5H418.3V730.65H414ZM420.93,710.5H422.46V730.65H420.93ZM432.01,710.5H433.55V730.65H432.01ZM434.78,710.5H436.32V730.65H434.78ZM437.56,710.5H439.09V730.65H437.56ZM445.87,710.5H447.41V730.65H445.87ZM121.59,730.5H123.12V750.45H121.59ZM125.74,730.5H127.28V750.45H125.74ZM128.52,730.5H130.05V750.45H128.52ZM134.06,730.5H138.37V750.45H134.06ZM196.42,730.5H197.96V750.45H196.42ZM200.58,730.5H203.5V750.45H200.58ZM204.74,730.5H206.27V750.45H204.74ZM232.45,730.5H235.37V750.45H232.45ZM377.97,730.5H379.5V750.45H377.97ZM394.6,730.5H396.13V750.45H394.6ZM398.75,730.5H400.29V750.45H398.75ZM420.93,730.5H422.46V750.45H420.93ZM438.94,730.5H440.48V750.45H438.94ZM441.71,730.5H443.25V750.45H441.71ZM445.87,730.5H447.41V750.45H445.87ZM121.59,750.3H123.12V769.65H121.59ZM127.13,750.3H131.44V769.65H127.13ZM134.06,750.3H135.59V769.65H134.06ZM193.65,750.3H197.96V769.65H193.65ZM204.74,750.3H206.27V769.65H204.74ZM208.89,750.3H210.43V769.65H208.89ZM211.67,750.3H213.2V769.65H211.67ZM218.59,750.3H220.13V769.65H218.59ZM229.68,750.3H233.99V769.65H229.68ZM236.61,750.3H239.53V769.65H236.61ZM376.58,750.3H378.12V769.65H376.58ZM383.51,750.3H385.04V769.65H383.51ZM391.82,750.3H393.36V769.65H391.82ZM400.14,750.3H401.67V769.65H400.14ZM402.91,750.3H404.45V769.65H402.91ZM416.77,750.3H418.3V769.65H416.77ZM425.08,750.3H426.62V769.65H425.08ZM429.24,750.3H430.78V769.65H429.24ZM437.56,750.3H439.09V769.65H437.56ZM445.87,750.3H448.79V769.65H445.87ZM450.03,750.3H451.56V769.65H450.03ZM122.97,769.5H125.89V787.15H122.97ZM192.26,769.5H195.19V787.15H192.26ZM197.81,769.5H203.5V787.15H197.81ZM376.58,769.5H379.5V787.15H376.58ZM397.37,769.5H398.9V787.15H397.37ZM402.91,769.5H404.45V787.15H402.91ZM407.07,769.5H408.6V787.15H407.07ZM412.61,769.5H416.92V787.15H412.61ZM423.7,769.5H428V787.15H423.7ZM440.33,769.5H441.86V787.15H440.33ZM122.97,787H124.51V807.95H122.97ZM127.13,787H128.67V807.95H127.13ZM178.41,787H181.33V807.95H178.41ZM183.95,787H188.26V807.95H183.95ZM206.12,787H207.66V807.95H206.12ZM208.89,787H211.82V807.95H208.89ZM232.45,787H233.99V807.95H232.45ZM376.58,787H379.5V807.95H376.58ZM386.28,787H387.82V807.95H386.28ZM394.6,787H396.13V807.95H394.6ZM398.75,787H400.29V807.95H398.75ZM414,787H416.92V807.95H414ZM423.7,787H428V807.95H423.7ZM121.59,807.8H125.89V827.55H121.59ZM175.63,807.8H179.94V827.55H175.63ZM182.56,807.8H186.87V827.55H182.56ZM188.11,807.8H189.64V827.55H188.11ZM195.04,807.8H196.57V827.55H195.04ZM204.74,807.8H206.27V827.55H204.74ZM213.05,807.8H214.59V827.55H213.05ZM224.14,807.8H225.67V827.55H224.14ZM379.35,807.8H380.89V827.55H379.35ZM384.89,807.8H386.43V827.55H384.89ZM395.98,807.8H397.52V827.55H395.98ZM402.91,807.8H404.45V827.55H402.91ZM412.61,807.8H414.15V827.55H412.61ZM430.63,807.8H432.16V827.55H430.63ZM121.59,827.4H123.12V844.35H121.59ZM128.52,827.4H130.05V844.35H128.52ZM168.7,827.4H170.24V844.35H168.7ZM174.25,827.4H178.56V844.35H174.25ZM183.95,827.4H185.48V844.35H183.95ZM190.88,827.4H192.41V844.35H190.88ZM197.81,827.4H199.34V844.35H197.81ZM201.96,827.4H203.5V844.35H201.96ZM219.98,827.4H221.52V844.35H219.98ZM226.91,827.4H228.45V844.35H226.91ZM373.81,827.4H378.12V844.35H373.81ZM414,827.4H415.53V844.35H414ZM416.77,827.4H418.3V844.35H416.77ZM426.47,827.4H428V844.35H426.47ZM440.33,827.4H443.25V844.35H440.33ZM120.2,844.2H121.74V863.85H120.2ZM128.52,844.2H131.44V863.85H128.52ZM132.67,844.2H134.21V863.85H132.67ZM149.3,844.2H150.84V863.85H149.3ZM153.46,844.2H155V863.85H153.46ZM156.23,844.2H159.15V863.85H156.23ZM167.32,844.2H168.85V863.85H167.32ZM192.26,844.2H193.8V863.85H192.26ZM197.81,844.2H199.34V863.85H197.81ZM204.74,844.2H206.27V863.85H204.74ZM208.89,844.2H210.43V863.85H208.89ZM379.35,844.2H380.89V863.85H379.35ZM383.51,844.2H385.04V863.85H383.51ZM386.28,844.2H387.82V863.85H386.28ZM389.05,844.2H393.36V863.85H389.05ZM394.6,844.2H396.13V863.85H394.6ZM398.75,844.2H400.29V863.85H398.75ZM402.91,844.2H404.45V863.85H402.91ZM405.68,844.2H407.22V863.85H405.68ZM409.84,844.2H411.38V863.85H409.84ZM419.54,844.2H421.08V863.85H419.54ZM429.24,844.2H430.78V863.85H429.24ZM437.56,844.2H439.09V863.85H437.56ZM444.49,844.2H446.02V863.85H444.49ZM135.44,863.7H136.98V883.15H135.44ZM143.76,863.7H145.3V883.15H143.76ZM150.69,863.7H152.22V883.15H150.69ZM153.46,863.7H155V883.15H153.46ZM157.62,863.7H159.15V883.15H157.62ZM163.16,863.7H164.7V883.15H163.16ZM178.41,863.7H179.94V883.15H178.41ZM192.26,863.7H196.57V883.15H192.26ZM204.74,863.7H206.27V883.15H204.74ZM208.89,863.7H210.43V883.15H208.89ZM346.09,863.7H347.63V883.15H346.09ZM348.86,863.7H350.4V883.15H348.86ZM382.12,863.7H383.66V883.15H382.12ZM384.89,863.7H386.43V883.15H384.89ZM393.21,863.7H397.52V883.15H393.21ZM401.52,863.7H403.06V883.15H401.52ZM404.3,863.7H405.83V883.15H404.3ZM436.17,863.7H437.71V883.15H436.17ZM445.87,863.7H447.41V883.15H445.87ZM132.67,883H134.21V902.15H132.67ZM152.07,883H153.61V902.15H152.07ZM170.09,883H171.63V902.15H170.09ZM185.33,883H186.87V902.15H185.33ZM188.11,883H189.64V902.15H188.11ZM195.04,883H200.73V902.15H195.04ZM204.74,883H207.66V902.15H204.74ZM213.05,883H214.59V902.15H213.05ZM380.74,883H382.27V902.15H380.74ZM390.44,883H393.36V902.15H390.44ZM397.37,883H398.9V902.15H397.37ZM401.52,883H407.22V902.15H401.52ZM420.93,883H422.46V902.15H420.93ZM430.63,883H433.55V902.15H430.63ZM444.49,883H446.02V902.15H444.49ZM127.13,902H128.67V921.35H127.13ZM131.29,902H132.82V921.35H131.29ZM145.15,902H146.68V921.35H145.15ZM147.92,902H149.45V921.35H147.92ZM152.07,902H153.61V921.35H152.07ZM156.23,902H157.77V921.35H156.23ZM161.78,902H163.31V921.35H161.78ZM172.86,902H174.4V921.35H172.86ZM177.02,902H178.56V921.35H177.02ZM183.95,902H185.48V921.35H183.95ZM192.26,902H193.8V921.35H192.26ZM195.04,902H196.57V921.35H195.04ZM199.19,902H202.11V921.35H199.19ZM203.35,902H206.27V921.35H203.35ZM380.74,902H382.27V921.35H380.74ZM383.51,902H387.82V921.35H383.51ZM390.44,902H393.36V921.35H390.44ZM400.14,902H401.67V921.35H400.14ZM402.91,902H405.83V921.35H402.91ZM427.86,902H429.39V921.35H427.86ZM433.4,902H434.93V921.35H433.4ZM437.56,902H443.25V921.35H437.56ZM124.36,921.2H125.89V940.65H124.36ZM179.79,921.2H182.71V940.65H179.79ZM190.88,921.2H192.41V940.65H190.88ZM207.51,921.2H210.43V940.65H207.51ZM390.44,921.2H393.36V940.65H390.44ZM395.98,921.2H397.52V940.65H395.98ZM402.91,921.2H405.83V940.65H402.91ZM407.07,921.2H408.6V940.65H407.07ZM419.54,921.2H421.08V940.65H419.54ZM432.01,921.2H433.55V940.65H432.01ZM128.52,940.5H131.44V959.95H128.52ZM138.22,940.5H139.75V959.95H138.22ZM146.53,940.5H148.07V959.95H146.53ZM149.3,940.5H150.84V959.95H149.3ZM159,940.5H160.54V959.95H159ZM164.55,940.5H167.47V959.95H164.55ZM183.95,940.5H185.48V959.95H183.95ZM192.26,940.5H193.8V959.95H192.26ZM197.81,940.5H199.34V959.95H197.81ZM200.58,940.5H207.66V959.95H200.58ZM389.05,940.5H390.59V959.95H389.05ZM391.82,940.5H393.36V959.95H391.82ZM407.07,940.5H408.6V959.95H407.07ZM409.84,940.5H411.38V959.95H409.84ZM415.38,940.5H416.92V959.95H415.38ZM423.7,940.5H425.23V959.95H423.7ZM427.86,940.5H429.39V959.95H427.86ZM433.4,940.5H434.93V959.95H433.4ZM445.87,940.5H447.41V959.95H445.87ZM124.36,959.8H125.89V978.75H124.36ZM127.13,959.8H128.67V978.75H127.13ZM142.37,959.8H143.91V978.75H142.37ZM154.85,959.8H156.38V978.75H154.85ZM163.16,959.8H164.7V978.75H163.16ZM168.7,959.8H170.24V978.75H168.7ZM178.41,959.8H181.33V978.75H178.41ZM186.72,959.8H191.03V978.75H186.72ZM196.42,959.8H199.34V978.75H196.42ZM398.75,959.8H400.29V978.75H398.75ZM404.3,959.8H405.83V978.75H404.3ZM422.31,959.8H423.85V978.75H422.31ZM426.47,959.8H430.78V978.75H426.47ZM438.94,959.8H440.48V978.75H438.94ZM443.1,959.8H444.63V978.75H443.1ZM447.26,959.8H448.79V978.75H447.26ZM120.2,978.6H121.74V997.75H120.2ZM129.9,978.6H134.21V997.75H129.9ZM138.22,978.6H139.75V997.75H138.22ZM182.56,978.6H184.1V997.75H182.56ZM193.65,978.6H195.19V997.75H193.65ZM196.42,978.6H197.96V997.75H196.42ZM201.96,978.6H203.5V997.75H201.96ZM307.29,978.6H308.82V997.75H307.29ZM423.7,978.6H426.62V997.75H423.7ZM429.24,978.6H430.78V997.75H429.24ZM436.17,978.6H437.71V997.75H436.17ZM450.03,978.6H451.56V997.75H450.03ZM131.29,997.6H132.82V1017.35H131.29ZM135.44,997.6H136.98V1017.35H135.44ZM139.6,997.6H141.14V1017.35H139.6ZM152.07,997.6H153.61V1017.35H152.07ZM154.85,997.6H157.77V1017.35H154.85ZM159,997.6H160.54V1017.35H159ZM172.86,997.6H174.4V1017.35H172.86ZM177.02,997.6H179.94V1017.35H177.02ZM195.04,997.6H196.57V1017.35H195.04ZM199.19,997.6H200.73V1017.35H199.19ZM404.3,997.6H405.83V1017.35H404.3ZM419.54,997.6H421.08V1017.35H419.54ZM425.08,997.6H428V1017.35H425.08ZM432.01,997.6H433.55V1017.35H432.01ZM450.03,997.6H451.56V1017.35H450.03ZM122.97,1017.2H124.51V1027.15H122.97ZM143.76,1017.2H145.3V1027.15H143.76ZM154.85,1017.2H157.77V1027.15H154.85ZM165.93,1017.2H167.47V1027.15H165.93ZM178.41,1017.2H179.94V1027.15H178.41ZM181.18,1017.2H184.1V1027.15H181.18ZM188.11,1017.2H189.64V1027.15H188.11ZM190.88,1017.2H192.41V1027.15H190.88ZM193.65,1017.2H195.19V1027.15H193.65ZM196.42,1017.2H197.96V1027.15H196.42ZM401.52,1017.2H405.83V1027.15H401.52ZM409.84,1017.2H411.38V1027.15H409.84ZM430.63,1017.2H432.16V1027.15H430.63ZM433.4,1017.2H434.93V1027.15H433.4ZM441.71,1017.2H444.63V1027.15H441.71Z"/>
<path fill="#2e48c2" d="M121.59,528H123.12V538.15H121.59ZM131.29,528H132.82V538.15H131.29ZM136.83,528H138.37V538.15H136.83ZM142.37,528H143.91V538.15H142.37ZM145.15,528H146.68V538.15H145.15ZM150.69,528H152.22V538.15H150.69ZM170.09,528H171.63V538.15H170.09ZM175.63,528H177.17V538.15H175.63ZM185.33,528H186.87V538.15H185.33ZM226.91,528H228.45V538.15H226.91ZM231.07,528H232.6V538.15H231.07ZM233.84,528H235.37V538.15H233.84ZM242.15,528H246.46V538.15H242.15ZM250.47,528H252V538.15H250.47ZM261.56,528H263.09V538.15H261.56ZM369.65,528H371.19V538.15H369.65ZM375.19,528H378.12V538.15H375.19ZM394.6,528H397.52V538.15H394.6ZM415.38,528H416.92V538.15H415.38ZM420.93,528H422.46V538.15H420.93ZM430.63,528H432.16V538.15H430.63ZM438.94,528H440.48V538.15H438.94ZM441.71,528H443.25V538.15H441.71ZM451.41,528H452.95V538.15H451.41ZM132.67,538H134.21V558.45H132.67ZM147.92,538H149.45V558.45H147.92ZM150.69,538H155V558.45H150.69ZM164.55,538H166.08V558.45H164.55ZM182.56,538H185.48V558.45H182.56ZM186.72,538H191.03V558.45H186.72ZM222.75,538H224.29V558.45H222.75ZM242.15,538H243.69V558.45H242.15ZM246.31,538H249.23V558.45H246.31ZM253.24,538H254.78V558.45H253.24ZM387.67,538H390.59V558.45H387.67ZM397.37,538H398.9V558.45H397.37ZM409.84,538H411.38V558.45H409.84ZM423.7,538H425.23V558.45H423.7ZM430.63,538H432.16V558.45H430.63ZM444.49,538H446.02V558.45H444.49ZM121.59,558.3H125.89V578.75H121.59ZM131.29,558.3H132.82V578.75H131.29ZM134.06,558.3H135.59V578.75H134.06ZM149.3,558.3H150.84V578.75H149.3ZM153.46,558.3H155V578.75H153.46ZM167.32,558.3H168.85V578.75H167.32ZM181.18,558.3H182.71V578.75H181.18ZM185.33,558.3H186.87V578.75H185.33ZM218.59,558.3H220.13V578.75H218.59ZM226.91,558.3H228.45V578.75H226.91ZM231.07,558.3H232.6V578.75H231.07ZM235.22,558.3H236.76V578.75H235.22ZM242.15,558.3H243.69V578.75H242.15ZM244.93,558.3H246.46V578.75H244.93ZM251.85,558.3H253.39V578.75H251.85ZM384.89,558.3H386.43V578.75H384.89ZM402.91,558.3H404.45V578.75H402.91ZM407.07,558.3H408.6V578.75H407.07ZM412.61,558.3H414.15V578.75H412.61ZM422.31,558.3H423.85V578.75H422.31ZM437.56,558.3H439.09V578.75H437.56ZM120.2,578.6H121.74V599.45H120.2ZM125.74,578.6H127.28V599.45H125.74ZM132.67,578.6H134.21V599.45H132.67ZM143.76,578.6H145.3V599.45H143.76ZM149.3,578.6H150.84V599.45H149.3ZM157.62,578.6H161.93V599.45H157.62ZM221.37,578.6H222.9V599.45H221.37ZM235.22,578.6H238.15V599.45H235.22ZM240.77,578.6H242.3V599.45H240.77ZM247.7,578.6H250.62V599.45H247.7ZM389.05,578.6H391.97V599.45H389.05ZM407.07,578.6H408.6V599.45H407.07ZM418.15,578.6H419.69V599.45H418.15ZM422.31,578.6H423.85V599.45H422.31ZM426.47,578.6H428V599.45H426.47ZM443.1,578.6H444.63V599.45H443.1ZM131.29,599.3H132.82V615.15H131.29ZM159,599.3H160.54V615.15H159ZM163.16,599.3H164.7V615.15H163.16ZM168.7,599.3H170.24V615.15H168.7ZM172.86,599.3H174.4V615.15H172.86ZM208.89,599.3H210.43V615.15H208.89ZM211.67,599.3H213.2V615.15H211.67ZM215.82,599.3H217.36V615.15H215.82ZM226.91,599.3H228.45V615.15H226.91ZM244.93,599.3H246.46V615.15H244.93ZM249.08,599.3H250.62V615.15H249.08ZM391.82,599.3H396.13V615.15H391.82ZM408.45,599.3H409.99V615.15H408.45ZM418.15,599.3H419.69V615.15H418.15ZM426.47,599.3H428V615.15H426.47ZM430.63,599.3H432.16V615.15H430.63ZM433.4,599.3H434.93V615.15H433.4ZM122.97,615H125.89V634.65H122.97ZM143.76,615H145.3V634.65H143.76ZM163.16,615H167.47V634.65H163.16ZM199.19,615H200.73V634.65H199.19ZM208.89,615H211.82V634.65H208.89ZM218.59,615H220.13V634.65H218.59ZM235.22,615H238.15V634.65H235.22ZM243.54,615H245.08V634.65H243.54ZM246.31,615H247.85V634.65H246.31ZM394.6,615H398.9V634.65H394.6ZM404.3,615H405.83V634.65H404.3ZM407.07,615H408.6V634.65H407.07ZM409.84,615H411.38V634.65H409.84ZM430.63,615H432.16V634.65H430.63ZM443.1,615H444.63V634.65H443.1ZM448.64,615H450.18V634.65H448.64ZM122.97,634.5H124.51V653.85H122.97ZM146.53,634.5H148.07V653.85H146.53ZM156.23,634.5H160.54V653.85H156.23ZM164.55,634.5H166.08V653.85H164.55ZM167.32,634.5H168.85V653.85H167.32ZM207.51,634.5H209.04V653.85H207.51ZM222.75,634.5H224.29V653.85H222.75ZM233.84,634.5H235.37V653.85H233.84ZM242.15,634.5H243.69V653.85H242.15ZM401.52,634.5H404.45V653.85H401.52ZM412.61,634.5H414.15V653.85H412.61ZM121.59,653.7H123.12V673.05H121.59ZM145.15,653.7H146.68V673.05H145.15ZM150.69,653.7H156.38V673.05H150.69ZM204.74,653.7H206.27V673.05H204.74ZM214.44,653.7H215.97V673.05H214.44ZM228.3,653.7H229.83V673.05H228.3ZM232.45,653.7H233.99V673.05H232.45ZM243.54,653.7H245.08V673.05H243.54ZM398.75,653.7H400.29V673.05H398.75ZM401.52,653.7H403.06V673.05H401.52ZM411.23,653.7H412.76V673.05H411.23ZM415.38,653.7H416.92V673.05H415.38ZM425.08,653.7H426.62V673.05H425.08ZM443.1,653.7H446.02V673.05H443.1ZM448.64,653.7H450.18V673.05H448.64ZM124.36,672.9H125.89V691.45H124.36ZM147.92,672.9H149.45V691.45H147.92ZM195.04,672.9H199.34V691.45H195.04ZM203.35,672.9H206.27V691.45H203.35ZM235.22,672.9H236.76V691.45H235.22ZM240.77,672.9H242.3V691.45H240.77ZM365.49,672.9H367.03V691.45H365.49ZM382.12,672.9H383.66V691.45H382.12ZM404.3,672.9H405.83V691.45H404.3ZM411.23,672.9H414.15V691.45H411.23ZM422.31,672.9H423.85V691.45H422.31ZM429.24,672.9H430.78V691.45H429.24ZM434.78,672.9H436.32V691.45H434.78ZM447.26,672.9H448.79V691.45H447.26ZM120.2,691.3H121.74V710.65H120.2ZM135.44,691.3H136.98V710.65H135.44ZM139.6,691.3H142.52V710.65H139.6ZM145.15,691.3H146.68V710.65H145.15ZM149.3,691.3H150.84V710.65H149.3ZM195.04,691.3H197.96V710.65H195.04ZM221.37,691.3H222.9V710.65H221.37ZM229.68,691.3H231.22V710.65H229.68ZM369.65,691.3H371.19V710.65H369.65ZM373.81,691.3H376.73V710.65H373.81ZM377.97,691.3H379.5V710.65H377.97ZM395.98,691.3H397.52V710.65H395.98ZM407.07,691.3H408.6V710.65H407.07ZM409.84,691.3H411.38V710.65H409.84ZM414,691.3H416.92V710.65H414ZM422.31,691.3H425.23V710.65H422.31ZM432.01,691.3H433.55V710.65H432.01ZM434.78,691.3H436.32V710.65H434.78ZM437.56,691.3H439.09V710.65H437.56ZM448.64,691.3H450.18V710.65H448.64ZM122.97,710.5H124.51V730.65H122.97ZM188.11,710.5H189.64V730.65H188.11ZM196.42,710.5H197.96V730.65H196.42ZM208.89,710.5H211.82V730.65H208.89ZM218.59,710.5H222.9V730.65H218.59ZM373.81,710.5H375.34V730.65H373.81ZM377.97,710.5H379.5V730.65H377.97ZM391.82,710.5H393.36V730.65H391.82ZM397.37,710.5H398.9V730.65H397.37ZM411.23,710.5H412.76V730.65H411.23ZM418.15,710.5H419.69V730.65H418.15ZM440.33,710.5H441.86V730.65H440.33ZM124.36,730.5H125.89V750.45H124.36ZM127.13,730.5H128.67V750.45H127.13ZM138.22,730.5H141.14V750.45H138.22ZM179.79,730.5H181.33V750.45H179.79ZM185.33,730.5H188.26V750.45H185.33ZM192.26,730.5H193.8V750.45H192.26ZM197.81,730.5H200.73V750.45H197.81ZM207.51,730.5H209.04V750.45H207.51ZM239.38,730.5H242.3V750.45H239.38ZM366.88,730.5H368.41V750.45H366.88ZM372.42,730.5H375.34V750.45H372.42ZM387.67,730.5H389.2V750.45H387.67ZM415.38,730.5H416.92V750.45H415.38ZM423.7,730.5H426.62V750.45H423.7ZM430.63,730.5H432.16V750.45H430.63ZM434.78,730.5H436.32V750.45H434.78ZM443.1,730.5H444.63V750.45H443.1ZM450.03,730.5H451.56V750.45H450.03ZM125.74,750.3H127.28V769.65H125.74ZM135.44,750.3H138.37V769.65H135.44ZM181.18,750.3H182.71V769.65H181.18ZM192.26,750.3H193.8V769.65H192.26ZM197.81,750.3H199.34V769.65H197.81ZM203.35,750.3H204.89V769.65H203.35ZM222.75,750.3H224.29V769.65H222.75ZM226.91,750.3H228.45V769.65H226.91ZM239.38,750.3H242.3V769.65H239.38ZM246.31,750.3H247.85V769.65H246.31ZM371.04,750.3H372.57V769.65H371.04ZM373.81,750.3H375.34V769.65H373.81ZM379.35,750.3H380.89V769.65H379.35ZM387.67,750.3H390.59V769.65H387.67ZM407.07,750.3H408.6V769.65H407.07ZM409.84,750.3H411.38V769.65H409.84ZM412.61,750.3H414.15V769.65H412.61ZM415.38,750.3H416.92V769.65H415.38ZM420.93,750.3H422.46V769.65H420.93ZM441.71,750.3H443.25V769.65H441.71ZM120.2,769.5H123.12V787.15H120.2ZM132.67,769.5H138.37V787.15H132.67ZM178.41,769.5H181.33V787.15H178.41ZM182.56,769.5H184.1V787.15H182.56ZM190.88,769.5H192.41V787.15H190.88ZM203.35,769.5H204.89V787.15H203.35ZM208.89,769.5H210.43V787.15H208.89ZM222.75,769.5H224.29V787.15H222.75ZM226.91,769.5H228.45V787.15H226.91ZM235.22,769.5H236.76V787.15H235.22ZM239.38,769.5H242.3V787.15H239.38ZM371.04,769.5H375.34V787.15H371.04ZM379.35,769.5H380.89V787.15H379.35ZM393.21,769.5H394.75V787.15H393.21ZM401.52,769.5H403.06V787.15H401.52ZM416.77,769.5H418.3V787.15H416.77ZM419.54,769.5H421.08V787.15H419.54ZM434.78,769.5H436.32V787.15H434.78ZM443.1,769.5H444.63V787.15H443.1ZM450.03,769.5H452.95V787.15H450.03ZM121.59,787H123.12V807.95H121.59ZM125.74,787H127.28V807.95H125.74ZM175.63,787H178.56V807.95H175.63ZM188.11,787H191.03V807.95H188.11ZM192.26,787H193.8V807.95H192.26ZM196.42,787H197.96V807.95H196.42ZM199.19,787H200.73V807.95H199.19ZM201.96,787H203.5V807.95H201.96ZM207.51,787H209.04V807.95H207.51ZM215.82,787H217.36V807.95H215.82ZM228.3,787H229.83V807.95H228.3ZM233.84,787H238.15V807.95H233.84ZM240.77,787H242.3V807.95H240.77ZM256.01,787H257.55V807.95H256.01ZM375.19,787H376.73V807.95H375.19ZM379.35,787H380.89V807.95H379.35ZM387.67,787H389.2V807.95H387.67ZM432.01,787H433.55V807.95H432.01ZM434.78,787H436.32V807.95H434.78ZM441.71,787H443.25V807.95H441.71ZM444.49,787H446.02V807.95H444.49ZM448.64,787H450.18V807.95H448.64ZM120.2,807.8H121.74V827.55H120.2ZM168.7,807.8H174.4V827.55H168.7ZM179.79,807.8H181.33V827.55H179.79ZM193.65,807.8H195.19V827.55H193.65ZM199.19,807.8H200.73V827.55H199.19ZM203.35,807.8H204.89V827.55H203.35ZM206.12,807.8H207.66V827.55H206.12ZM210.28,807.8H211.82V827.55H210.28ZM217.21,807.8H218.74V827.55H217.21ZM228.3,807.8H231.22V827.55H228.3ZM258.78,807.8H260.32V827.55H258.78ZM369.65,807.8H372.57V827.55H369.65ZM375.19,807.8H376.73V827.55H375.19ZM391.82,807.8H393.36V827.55H391.82ZM400.14,807.8H401.67V827.55H400.14ZM405.68,807.8H407.22V827.55H405.68ZM415.38,807.8H416.92V827.55H415.38ZM419.54,807.8H421.08V827.55H419.54ZM426.47,807.8H428V827.55H426.47ZM429.24,807.8H430.78V827.55H429.24ZM433.4,807.8H434.93V827.55H433.4ZM438.94,807.8H441.86V827.55H438.94ZM127.13,827.4H128.67V844.35H127.13ZM129.9,827.4H132.82V844.35H129.9ZM161.78,827.4H163.31V844.35H161.78ZM164.55,827.4H166.08V844.35H164.55ZM167.32,827.4H168.85V844.35H167.32ZM181.18,827.4H182.71V844.35H181.18ZM188.11,827.4H189.64V844.35H188.11ZM221.37,827.4H222.9V844.35H221.37ZM225.52,827.4H227.06V844.35H225.52ZM228.3,827.4H229.83V844.35H228.3ZM231.07,827.4H232.6V844.35H231.07ZM372.42,827.4H373.96V844.35H372.42ZM380.74,827.4H382.27V844.35H380.74ZM394.6,827.4H396.13V844.35H394.6ZM402.91,827.4H405.83V844.35H402.91ZM411.23,827.4H412.76V844.35H411.23ZM415.38,827.4H416.92V844.35H415.38ZM429.24,827.4H430.78V844.35H429.24ZM127.13,844.2H128.67V863.85H127.13ZM135.44,844.2H136.98V863.85H135.44ZM161.78,844.2H163.31V863.85H161.78ZM181.18,844.2H182.71V863.85H181.18ZM201.96,844.2H203.5V863.85H201.96ZM210.28,844.2H211.82V863.85H210.28ZM219.98,844.2H222.9V863.85H219.98ZM377.97,844.2H379.5V863.85H377.97ZM380.74,844.2H382.27V863.85H380.74ZM387.67,844.2H389.2V863.85H387.67ZM425.08,844.2H426.62V863.85H425.08ZM430.63,844.2H432.16V863.85H430.63ZM127.13,863.7H128.67V883.15H127.13ZM134.06,863.7H135.59V883.15H134.06ZM147.92,863.7H150.84V883.15H147.92ZM156.23,863.7H157.77V883.15H156.23ZM159,863.7H163.31V883.15H159ZM179.79,863.7H181.33V883.15H179.79ZM188.11,863.7H189.64V883.15H188.11ZM196.42,863.7H197.96V883.15H196.42ZM213.05,863.7H214.59V883.15H213.05ZM344.71,863.7H346.24V883.15H344.71ZM372.42,863.7H375.34V883.15H372.42ZM376.58,863.7H378.12V883.15H376.58ZM383.51,863.7H385.04V883.15H383.51ZM386.28,863.7H387.82V883.15H386.28ZM411.23,863.7H412.76V883.15H411.23ZM414,863.7H415.53V883.15H414ZM426.47,863.7H428V883.15H426.47ZM432.01,863.7H433.55V883.15H432.01ZM447.26,863.7H448.79V883.15H447.26ZM128.52,883H131.44V902.15H128.52ZM145.15,883H146.68V902.15H145.15ZM147.92,883H149.45V902.15H147.92ZM153.46,883H155V902.15H153.46ZM160.39,883H161.93V902.15H160.39ZM171.48,883H173.01V902.15H171.48ZM178.41,883H179.94V902.15H178.41ZM203.35,883H204.89V902.15H203.35ZM210.28,883H213.2V902.15H210.28ZM214.44,883H218.74V902.15H214.44ZM394.6,883H397.52V902.15H394.6ZM398.75,883H401.67V902.15H398.75ZM409.84,883H411.38V902.15H409.84ZM436.17,883H437.71V902.15H436.17ZM441.71,883H443.25V902.15H441.71ZM450.03,883H451.56V902.15H450.03ZM122.97,902H124.51V921.35H122.97ZM134.06,902H135.59V921.35H134.06ZM150.69,902H152.22V921.35H150.69ZM163.16,902H166.08V921.35H163.16ZM167.32,902H168.85V921.35H167.32ZM182.56,902H184.1V921.35H182.56ZM193.65,902H195.19V921.35H193.65ZM197.81,902H199.34V921.35H197.81ZM201.96,902H203.5V921.35H201.96ZM208.89,902H210.43V921.35H208.89ZM211.67,902H215.97V921.35H211.67ZM290.66,902H293.58V921.35H290.66ZM296.2,902H297.74V921.35H296.2ZM401.52,902H403.06V921.35H401.52ZM418.15,902H419.69V921.35H418.15ZM429.24,902H433.55V921.35H429.24ZM444.49,902H446.02V921.35H444.49ZM121.59,921.2H124.51V940.65H121.59ZM131.29,921.2H132.82V940.65H131.29ZM135.44,921.2H136.98V940.65H135.44ZM138.22,921.2H139.75V940.65H138.22ZM143.76,921.2H145.3V940.65H143.76ZM154.85,921.2H156.38V940.65H154.85ZM159,921.2H160.54V940.65H159ZM175.63,921.2H177.17V940.65H175.63ZM183.95,921.2H185.48V940.65H183.95ZM197.81,921.2H199.34V940.65H197.81ZM201.96,921.2H203.5V940.65H201.96ZM206.12,921.2H207.66V940.65H206.12ZM210.28,921.2H213.2V940.65H210.28ZM214.44,921.2H215.97V940.65H214.44ZM283.73,921.2H285.26V940.65H283.73ZM289.27,921.2H290.81V940.65H289.27ZM359.95,921.2H361.49V940.65H359.95ZM401.52,921.2H403.06V940.65H401.52ZM405.68,921.2H407.22V940.65H405.68ZM408.45,921.2H411.38V940.65H408.45ZM415.38,921.2H416.92V940.65H415.38ZM420.93,921.2H422.46V940.65H420.93ZM438.94,921.2H440.48V940.65H438.94ZM451.41,921.2H452.95V940.65H451.41ZM120.2,940.5H121.74V959.95H120.2ZM156.23,940.5H157.77V959.95H156.23ZM163.16,940.5H164.7V959.95H163.16ZM167.32,940.5H168.85V959.95H167.32ZM170.09,940.5H171.63V959.95H170.09ZM178.41,940.5H179.94V959.95H178.41ZM189.49,940.5H191.03V959.95H189.49ZM193.65,940.5H195.19V959.95H193.65ZM208.89,940.5H211.82V959.95H208.89ZM213.05,940.5H214.59V959.95H213.05ZM269.87,940.5H271.41V959.95H269.87ZM280.96,940.5H282.49V959.95H280.96ZM290.66,940.5H292.19V959.95H290.66ZM386.28,940.5H389.2V959.95H386.28ZM419.54,940.5H421.08V959.95H419.54ZM434.78,940.5H440.48V959.95H434.78ZM444.49,940.5H446.02V959.95H444.49ZM135.44,959.8H136.98V978.75H135.44ZM140.99,959.8H142.52V978.75H140.99ZM145.15,959.8H146.68V978.75H145.15ZM149.3,959.8H150.84V978.75H149.3ZM159,959.8H160.54V978.75H159ZM183.95,959.8H185.48V978.75H183.95ZM192.26,959.8H195.19V978.75H192.26ZM199.19,959.8H202.11V978.75H199.19ZM203.35,959.8H204.89V978.75H203.35ZM268.48,959.8H270.02V978.75H268.48ZM276.8,959.8H278.33V978.75H276.8ZM283.73,959.8H286.65V978.75H283.73ZM296.2,959.8H297.74V978.75H296.2ZM387.67,959.8H390.59V978.75H387.67ZM393.21,959.8H394.75V978.75H393.21ZM395.98,959.8H397.52V978.75H395.98ZM400.14,959.8H401.67V978.75H400.14ZM408.45,959.8H411.38V978.75H408.45ZM415.38,959.8H416.92V978.75H415.38ZM418.15,959.8H422.46V978.75H418.15ZM425.08,959.8H426.62V978.75H425.08ZM432.01,959.8H433.55V978.75H432.01ZM434.78,959.8H436.32V978.75H434.78ZM444.49,959.8H446.02V978.75H444.49ZM128.52,978.6H130.05V997.75H128.52ZM136.83,978.6H138.37V997.75H136.83ZM139.6,978.6H141.14V997.75H139.6ZM147.92,978.6H150.84V997.75H147.92ZM152.07,978.6H153.61V997.75H152.07ZM156.23,978.6H157.77V997.75H156.23ZM159,978.6H160.54V997.75H159ZM172.86,978.6H174.4V997.75H172.86ZM190.88,978.6H192.41V997.75H190.88ZM195.04,978.6H196.57V997.75H195.04ZM203.35,978.6H207.66V997.75H203.35ZM258.78,978.6H260.32V997.75H258.78ZM268.48,978.6H270.02V997.75H268.48ZM275.41,978.6H278.33V997.75H275.41ZM283.73,978.6H285.26V997.75H283.73ZM287.89,978.6H289.42V997.75H287.89ZM290.66,978.6H293.58V997.75H290.66ZM297.59,978.6H304.67V997.75H297.59ZM393.21,978.6H396.13V997.75H393.21ZM401.52,978.6H404.45V997.75H401.52ZM415.38,978.6H416.92V997.75H415.38ZM419.54,978.6H423.85V997.75H419.54ZM430.63,978.6H432.16V997.75H430.63ZM434.78,978.6H436.32V997.75H434.78ZM448.64,978.6H450.18V997.75H448.64ZM136.83,997.6H138.37V1017.35H136.83ZM142.37,997.6H143.91V1017.35H142.37ZM146.53,997.6H148.07V1017.35H146.53ZM150.69,997.6H152.22V1017.35H150.69ZM163.16,997.6H167.47V1017.35H163.16ZM168.7,997.6H170.24V1017.35H168.7ZM179.79,997.6H182.71V1017.35H179.79ZM185.33,997.6H188.26V1017.35H185.33ZM190.88,997.6H192.41V1017.35H190.88ZM193.65,997.6H195.19V1017.35H193.65ZM196.42,997.6H199.34V1017.35H196.42ZM265.71,997.6H268.63V1017.35H265.71ZM278.19,997.6H279.72V1017.35H278.19ZM287.89,997.6H293.58V1017.35H287.89ZM304.52,997.6H306.05V1017.35H304.52ZM394.6,997.6H396.13V1017.35H394.6ZM397.37,997.6H398.9V1017.35H397.37ZM402.91,997.6H404.45V1017.35H402.91ZM405.68,997.6H407.22V1017.35H405.68ZM427.86,997.6H429.39V1017.35H427.86ZM438.94,997.6H441.86V1017.35H438.94ZM443.1,997.6H446.02V1017.35H443.1ZM120.2,1017.2H121.74V1027.15H120.2ZM139.6,1017.2H141.14V1027.15H139.6ZM142.37,1017.2H143.91V1027.15H142.37ZM149.3,1017.2H150.84V1027.15H149.3ZM170.09,1017.2H171.63V1027.15H170.09ZM172.86,1017.2H174.4V1027.15H172.86ZM197.81,1017.2H199.34V1027.15H197.81ZM264.33,1017.2H265.86V1027.15H264.33ZM289.27,1017.2H294.96V1027.15H289.27ZM300.36,1017.2H301.89V1027.15H300.36ZM303.13,1017.2H304.67V1027.15H303.13ZM315.6,1017.2H317.14V1027.15H315.6ZM408.45,1017.2H409.99V1027.15H408.45ZM416.77,1017.2H418.3V1027.15H416.77ZM423.7,1017.2H428V1027.15H423.7ZM440.33,1017.2H441.86V1027.15H440.33Z"/>
<path fill="#0f5cdd" d="M128.52,528H130.05V538.15H128.52ZM138.22,528H141.14V538.15H138.22ZM156.23,528H157.77V538.15H156.23ZM174.25,528H175.78V538.15H174.25ZM189.49,528H191.03V538.15H189.49ZM246.31,528H247.85V538.15H246.31ZM249.08,528H250.62V538.15H249.08ZM262.94,528H264.48V538.15H262.94ZM373.81,528H375.34V538.15H373.81ZM402.91,528H404.45V538.15H402.91ZM436.17,528H437.71V538.15H436.17ZM443.1,528H444.63V538.15H443.1ZM450.03,528H451.56V538.15H450.03ZM131.29,538H132.82V558.45H131.29ZM135.44,538H138.37V558.45H135.44ZM179.79,538H181.33V558.45H179.79ZM226.91,538H229.83V558.45H226.91ZM238,538H239.53V558.45H238ZM254.63,538H256.16V558.45H254.63ZM257.4,538H261.7V558.45H257.4ZM377.97,538H380.89V558.45H377.97ZM386.28,538H387.82V558.45H386.28ZM398.75,538H400.29V558.45H398.75ZM408.45,538H409.99V558.45H408.45ZM416.77,538H418.3V558.45H416.77ZM432.01,538H433.55V558.45H432.01ZM438.94,538H441.86V558.45H438.94ZM448.64,538H450.18V558.45H448.64ZM120.2,558.3H121.74V578.75H120.2ZM135.44,558.3H136.98V578.75H135.44ZM142.37,558.3H143.91V578.75H142.37ZM157.62,558.3H159.15V578.75H157.62ZM172.86,558.3H175.78V578.75H172.86ZM182.56,558.3H184.1V578.75H182.56ZM188.11,558.3H189.64V578.75H188.11ZM213.05,558.3H215.97V578.75H213.05ZM238,558.3H240.92V578.75H238ZM246.31,558.3H247.85V578.75H246.31ZM253.24,558.3H256.16V578.75H253.24ZM258.78,558.3H260.32V578.75H258.78ZM387.67,558.3H389.2V578.75H387.67ZM404.3,558.3H407.22V578.75H404.3ZM416.77,558.3H418.3V578.75H416.77ZM426.47,558.3H428V578.75H426.47ZM440.33,558.3H441.86V578.75H440.33ZM443.1,558.3H444.63V578.75H443.1ZM121.59,578.6H123.12V599.45H121.59ZM127.13,578.6H130.05V599.45H127.13ZM145.15,578.6H146.68V599.45H145.15ZM153.46,578.6H155V599.45H153.46ZM168.7,578.6H170.24V599.45H168.7ZM175.63,578.6H177.17V599.45H175.63ZM178.41,578.6H179.94V599.45H178.41ZM210.28,578.6H211.82V599.45H210.28ZM226.91,578.6H228.45V599.45H226.91ZM233.84,578.6H235.37V599.45H233.84ZM250.47,578.6H252V599.45H250.47ZM256.01,578.6H258.93V599.45H256.01ZM402.91,578.6H405.83V599.45H402.91ZM411.23,578.6H414.15V599.45H411.23ZM430.63,578.6H432.16V599.45H430.63ZM440.33,578.6H443.25V599.45H440.33ZM445.87,578.6H447.41V599.45H445.87ZM121.59,599.3H123.12V615.15H121.59ZM132.67,599.3H134.21V615.15H132.67ZM142.37,599.3H143.91V615.15H142.37ZM145.15,599.3H146.68V615.15H145.15ZM153.46,599.3H155V615.15H153.46ZM167.32,599.3H168.85V615.15H167.32ZM170.09,599.3H173.01V615.15H170.09ZM210.28,599.3H211.82V615.15H210.28ZM233.84,599.3H236.76V615.15H233.84ZM239.38,599.3H240.92V615.15H239.38ZM250.47,599.3H252V615.15H250.47ZM386.28,599.3H389.2V615.15H386.28ZM390.44,599.3H391.97V615.15H390.44ZM401.52,599.3H404.45V615.15H401.52ZM416.77,599.3H418.3V615.15H416.77ZM429.24,599.3H430.78V615.15H429.24ZM434.78,599.3H436.32V615.15H434.78ZM445.87,599.3H447.41V615.15H445.87ZM450.03,599.3H451.56V615.15H450.03ZM134.06,615H135.59V634.65H134.06ZM138.22,615H139.75V634.65H138.22ZM231.07,615H232.6V634.65H231.07ZM244.93,615H246.46V634.65H244.93ZM247.7,615H252V634.65H247.7ZM391.82,615H393.36V634.65H391.82ZM402.91,615H404.45V634.65H402.91ZM408.45,615H409.99V634.65H408.45ZM411.23,615H412.76V634.65H411.23ZM414,615H416.92V634.65H414ZM419.54,615H421.08V634.65H419.54ZM440.33,615H441.86V634.65H440.33ZM451.41,615H452.95V634.65H451.41ZM121.59,634.5H123.12V653.85H121.59ZM138.22,634.5H139.75V653.85H138.22ZM140.99,634.5H143.91V653.85H140.99ZM199.19,634.5H203.5V653.85H199.19ZM211.67,634.5H214.59V653.85H211.67ZM219.98,634.5H221.52V653.85H219.98ZM236.61,634.5H239.53V653.85H236.61ZM251.85,634.5H253.39V653.85H251.85ZM397.37,634.5H398.9V653.85H397.37ZM418.15,634.5H419.69V653.85H418.15ZM423.7,634.5H425.23V653.85H423.7ZM427.86,634.5H429.39V653.85H427.86ZM451.41,634.5H452.95V653.85H451.41ZM131.29,653.7H132.82V673.05H131.29ZM143.76,653.7H145.3V673.05H143.76ZM156.23,653.7H160.54V673.05H156.23ZM193.65,653.7H195.19V673.05H193.65ZM197.81,653.7H199.34V673.05H197.81ZM224.14,653.7H225.67V673.05H224.14ZM231.07,653.7H232.6V673.05H231.07ZM235.22,653.7H236.76V673.05H235.22ZM238,653.7H239.53V673.05H238ZM246.31,653.7H249.23V673.05H246.31ZM258.78,653.7H260.32V673.05H258.78ZM373.81,653.7H375.34V673.05H373.81ZM377.97,653.7H379.5V673.05H377.97ZM380.74,653.7H382.27V673.05H380.74ZM397.37,653.7H398.9V673.05H397.37ZM405.68,653.7H408.6V673.05H405.68ZM422.31,653.7H423.85V673.05H422.31ZM139.6,672.9H141.14V691.45H139.6ZM150.69,672.9H152.22V691.45H150.69ZM153.46,672.9H155V691.45H153.46ZM207.51,672.9H209.04V691.45H207.51ZM224.14,672.9H225.67V691.45H224.14ZM233.84,672.9H235.37V691.45H233.84ZM242.15,672.9H243.69V691.45H242.15ZM244.93,672.9H246.46V691.45H244.93ZM371.04,672.9H372.57V691.45H371.04ZM376.58,672.9H378.12V691.45H376.58ZM387.67,672.9H390.59V691.45H387.67ZM397.37,672.9H398.9V691.45H397.37ZM407.07,672.9H409.99V691.45H407.07ZM414,672.9H415.53V691.45H414ZM423.7,672.9H425.23V691.45H423.7ZM427.86,672.9H429.39V691.45H427.86ZM432.01,672.9H433.55V691.45H432.01ZM437.56,672.9H439.09V691.45H437.56ZM443.1,672.9H444.63V691.45H443.1ZM448.64,672.9H450.18V691.45H448.64ZM451.41,672.9H452.95V691.45H451.41ZM125.74,691.3H127.28V710.65H125.74ZM129.9,691.3H131.44V710.65H129.9ZM136.83,691.3H138.37V710.65H136.83ZM143.76,691.3H145.3V710.65H143.76ZM146.53,691.3H149.45V710.65H146.53ZM188.11,691.3H191.03V710.65H188.11ZM192.26,691.3H195.19V710.65H192.26ZM208.89,691.3H211.82V710.65H208.89ZM213.05,691.3H215.97V710.65H213.05ZM224.14,691.3H225.67V710.65H224.14ZM232.45,691.3H235.37V710.65H232.45ZM247.7,691.3H249.23V710.65H247.7ZM372.42,691.3H373.96V710.65H372.42ZM383.51,691.3H385.04V710.65H383.51ZM391.82,691.3H393.36V710.65H391.82ZM397.37,691.3H398.9V710.65H397.37ZM408.45,691.3H409.99V710.65H408.45ZM419.54,691.3H422.46V710.65H419.54ZM444.49,691.3H446.02V710.65H444.49ZM134.06,710.5H135.59V730.65H134.06ZM140.99,710.5H142.52V730.65H140.99ZM186.72,710.5H188.26V730.65H186.72ZM190.88,710.5H193.8V730.65H190.88ZM204.74,710.5H206.27V730.65H204.74ZM215.82,710.5H217.36V730.65H215.82ZM225.52,710.5H227.06V730.65H225.52ZM231.07,710.5H232.6V730.65H231.07ZM253.24,710.5H254.78V730.65H253.24ZM366.88,710.5H368.41V730.65H366.88ZM371.04,710.5H372.57V730.65H371.04ZM380.74,710.5H382.27V730.65H380.74ZM407.07,710.5H408.6V730.65H407.07ZM448.64,710.5H450.18V730.65H448.64ZM122.97,730.5H124.51V750.45H122.97ZM132.67,730.5H134.21V750.45H132.67ZM203.35,730.5H204.89V750.45H203.35ZM206.12,730.5H207.66V750.45H206.12ZM215.82,730.5H217.36V750.45H215.82ZM229.68,730.5H231.22V750.45H229.68ZM235.22,730.5H236.76V750.45H235.22ZM250.47,730.5H252V750.45H250.47ZM375.19,730.5H378.12V750.45H375.19ZM379.35,730.5H380.89V750.45H379.35ZM401.52,730.5H404.45V750.45H401.52ZM419.54,730.5H421.08V750.45H419.54ZM122.97,750.3H124.51V769.65H122.97ZM132.67,750.3H134.21V769.65H132.67ZM138.22,750.3H141.14V769.65H138.22ZM182.56,750.3H185.48V769.65H182.56ZM188.11,750.3H192.41V769.65H188.11ZM200.58,750.3H202.11V769.65H200.58ZM233.84,750.3H235.37V769.65H233.84ZM243.54,750.3H246.46V769.65H243.54ZM262.94,750.3H264.48V769.65H262.94ZM272.64,750.3H274.18V769.65H272.64ZM300.36,750.3H301.89V769.65H300.36ZM335,750.3H336.54V769.65H335ZM339.16,750.3H340.7V769.65H339.16ZM343.32,750.3H344.86V769.65H343.32ZM365.49,750.3H367.03V769.65H365.49ZM380.74,750.3H382.27V769.65H380.74ZM386.28,750.3H387.82V769.65H386.28ZM408.45,750.3H409.99V769.65H408.45ZM414,750.3H415.53V769.65H414ZM418.15,750.3H419.69V769.65H418.15ZM422.31,750.3H423.85V769.65H422.31ZM440.33,750.3H441.86V769.65H440.33ZM451.41,750.3H452.95V769.65H451.41ZM129.9,769.5H131.44V787.15H129.9ZM177.02,769.5H178.56V787.15H177.02ZM207.51,769.5H209.04V787.15H207.51ZM210.28,769.5H211.82V787.15H210.28ZM218.59,769.5H220.13V787.15H218.59ZM238,769.5H239.53V787.15H238ZM242.15,769.5H246.46V787.15H242.15ZM274.03,769.5H275.56V787.15H274.03ZM283.73,769.5H286.65V787.15H283.73ZM297.59,769.5H299.12V787.15H297.59ZM350.25,769.5H351.78V787.15H350.25ZM357.18,769.5H358.71V787.15H357.18ZM366.88,769.5H368.41V787.15H366.88ZM369.65,769.5H371.19V787.15H369.65ZM375.19,769.5H376.73V787.15H375.19ZM390.44,769.5H391.97V787.15H390.44ZM394.6,769.5H396.13V787.15H394.6ZM408.45,769.5H411.38V787.15H408.45ZM418.15,769.5H419.69V787.15H418.15ZM430.63,769.5H432.16V787.15H430.63ZM447.26,769.5H448.79V787.15H447.26ZM120.2,787H121.74V807.95H120.2ZM132.67,787H134.21V807.95H132.67ZM168.7,787H170.24V807.95H168.7ZM172.86,787H175.78V807.95H172.86ZM181.18,787H184.1V807.95H181.18ZM190.88,787H192.41V807.95H190.88ZM193.65,787H195.19V807.95H193.65ZM211.67,787H213.2V807.95H211.67ZM221.37,787H222.9V807.95H221.37ZM253.24,787H254.78V807.95H253.24ZM333.62,787H335.15V807.95H333.62ZM348.86,787H350.4V807.95H348.86ZM355.79,787H357.33V807.95H355.79ZM373.81,787H375.34V807.95H373.81ZM384.89,787H386.43V807.95H384.89ZM389.05,787H390.59V807.95H389.05ZM395.98,787H397.52V807.95H395.98ZM419.54,787H422.46V807.95H419.54ZM438.94,787H440.48V807.95H438.94ZM450.03,787H451.56V807.95H450.03ZM131.29,807.8H132.82V827.55H131.29ZM161.78,807.8H163.31V827.55H161.78ZM165.93,807.8H168.85V827.55H165.93ZM174.25,807.8H175.78V827.55H174.25ZM181.18,807.8H182.71V827.55H181.18ZM214.44,807.8H215.97V827.55H214.44ZM225.52,807.8H228.45V827.55H225.52ZM240.77,807.8H243.69V827.55H240.77ZM253.24,807.8H254.78V827.55H253.24ZM267.1,807.8H268.63V827.55H267.1ZM269.87,807.8H271.41V827.55H269.87ZM312.83,807.8H314.37V827.55H312.83ZM316.99,807.8H318.52V827.55H316.99ZM319.76,807.8H321.3V827.55H319.76ZM335,807.8H336.54V827.55H335ZM337.78,807.8H339.31V827.55H337.78ZM340.55,807.8H342.08V827.55H340.55ZM377.97,807.8H379.5V827.55H377.97ZM380.74,807.8H382.27V827.55H380.74ZM386.28,807.8H387.82V827.55H386.28ZM390.44,807.8H391.97V827.55H390.44ZM401.52,807.8H403.06V827.55H401.52ZM427.86,807.8H429.39V827.55H427.86ZM432.01,807.8H433.55V827.55H432.01ZM436.17,807.8H437.71V827.55H436.17ZM444.49,807.8H446.02V827.55H444.49ZM451.41,807.8H452.95V827.55H451.41ZM186.72,827.4H188.26V844.35H186.72ZM189.49,827.4H191.03V844.35H189.49ZM193.65,827.4H195.19V844.35H193.65ZM206.12,827.4H209.04V844.35H206.12ZM217.21,827.4H218.74V844.35H217.21ZM229.68,827.4H231.22V844.35H229.68ZM239.38,827.4H240.92V844.35H239.38ZM246.31,827.4H247.85V844.35H246.31ZM287.89,827.4H289.42V844.35H287.89ZM341.93,827.4H343.47V844.35H341.93ZM354.41,827.4H355.94V844.35H354.41ZM362.72,827.4H364.26V844.35H362.72ZM377.97,827.4H379.5V844.35H377.97ZM405.68,827.4H409.99V844.35H405.68ZM418.15,827.4H419.69V844.35H418.15ZM420.93,827.4H422.46V844.35H420.93ZM423.7,827.4H425.23V844.35H423.7ZM433.4,827.4H434.93V844.35H433.4ZM121.59,844.2H123.12V863.85H121.59ZM138.22,844.2H139.75V863.85H138.22ZM154.85,844.2H156.38V863.85H154.85ZM168.7,844.2H170.24V863.85H168.7ZM183.95,844.2H185.48V863.85H183.95ZM188.11,844.2H192.41V863.85H188.11ZM196.42,844.2H197.96V863.85H196.42ZM200.58,844.2H202.11V863.85H200.58ZM207.51,844.2H209.04V863.85H207.51ZM213.05,844.2H214.59V863.85H213.05ZM218.59,844.2H220.13V863.85H218.59ZM222.75,844.2H225.67V863.85H222.75ZM242.15,844.2H243.69V863.85H242.15ZM372.42,844.2H375.34V863.85H372.42ZM393.21,844.2H394.75V863.85H393.21ZM401.52,844.2H403.06V863.85H401.52ZM411.23,844.2H415.53V863.85H411.23ZM433.4,844.2H434.93V863.85H433.4ZM441.71,844.2H444.63V863.85H441.71ZM445.87,844.2H447.41V863.85H445.87ZM448.64,844.2H450.18V863.85H448.64ZM120.2,863.7H121.74V883.15H120.2ZM122.97,863.7H125.89V883.15H122.97ZM140.99,863.7H142.52V883.15H140.99ZM145.15,863.7H146.68V883.15H145.15ZM175.63,863.7H177.17V883.15H175.63ZM183.95,863.7H185.48V883.15H183.95ZM189.49,863.7H192.41V883.15H189.49ZM197.81,863.7H200.73V883.15H197.81ZM206.12,863.7H207.66V883.15H206.12ZM211.67,863.7H213.2V883.15H211.67ZM214.44,863.7H215.97V883.15H214.44ZM217.21,863.7H220.13V883.15H217.21ZM221.37,863.7H222.9V883.15H221.37ZM350.25,863.7H351.78V883.15H350.25ZM375.19,863.7H376.73V883.15H375.19ZM377.97,863.7H379.5V883.15H377.97ZM387.67,863.7H389.2V883.15H387.67ZM397.37,863.7H398.9V883.15H397.37ZM409.84,863.7H411.38V883.15H409.84ZM415.38,863.7H416.92V883.15H415.38ZM425.08,863.7H426.62V883.15H425.08ZM427.86,863.7H429.39V883.15H427.86ZM430.63,863.7H432.16V883.15H430.63ZM437.56,863.7H439.09V883.15H437.56ZM127.13,883H128.67V902.15H127.13ZM150.69,883H152.22V902.15H150.69ZM157.62,883H159.15V902.15H157.62ZM161.78,883H163.31V902.15H161.78ZM165.93,883H167.47V902.15H165.93ZM168.7,883H170.24V902.15H168.7ZM183.95,883H185.48V902.15H183.95ZM274.03,883H275.56V902.15H274.03ZM280.96,883H282.49V902.15H280.96ZM382.12,883H383.66V902.15H382.12ZM389.05,883H390.59V902.15H389.05ZM408.45,883H409.99V902.15H408.45ZM414,883H415.53V902.15H414ZM419.54,883H421.08V902.15H419.54ZM429.24,883H430.78V902.15H429.24ZM139.6,902H141.14V921.35H139.6ZM153.46,902H156.38V921.35H153.46ZM159,902H161.93V921.35H159ZM178.41,902H179.94V921.35H178.41ZM186.72,902H188.26V921.35H186.72ZM210.28,902H211.82V921.35H210.28ZM215.82,902H217.36V921.35H215.82ZM279.57,902H282.49V921.35H279.57ZM285.11,902H289.42V921.35H285.11ZM300.36,902H301.89V921.35H300.36ZM312.83,902H314.37V921.35H312.83ZM351.63,902H353.17V921.35H351.63ZM358.56,902H360.1V921.35H358.56ZM377.97,902H380.89V921.35H377.97ZM382.12,902H383.66V921.35H382.12ZM387.67,902H389.2V921.35H387.67ZM393.21,902H396.13V921.35H393.21ZM397.37,902H398.9V921.35H397.37ZM434.78,902H436.32V921.35H434.78ZM157.62,921.2H159.15V940.65H157.62ZM178.41,921.2H179.94V940.65H178.41ZM193.65,921.2H195.19V940.65H193.65ZM203.35,921.2H204.89V940.65H203.35ZM274.03,921.2H275.56V940.65H274.03ZM280.96,921.2H283.88V940.65H280.96ZM285.11,921.2H286.65V940.65H285.11ZM287.89,921.2H289.42V940.65H287.89ZM290.66,921.2H293.58V940.65H290.66ZM296.2,921.2H297.74V940.65H296.2ZM301.74,921.2H304.67V940.65H301.74ZM305.9,921.2H307.44V940.65H305.9ZM312.83,921.2H314.37V940.65H312.83ZM353.02,921.2H355.94V940.65H353.02ZM358.56,921.2H360.1V940.65H358.56ZM380.74,921.2H386.43V940.65H380.74ZM387.67,921.2H390.59V940.65H387.67ZM393.21,921.2H394.75V940.65H393.21ZM398.75,921.2H401.67V940.65H398.75ZM416.77,921.2H418.3V940.65H416.77ZM422.31,921.2H423.85V940.65H422.31ZM430.63,921.2H432.16V940.65H430.63ZM448.64,921.2H450.18V940.65H448.64ZM139.6,940.5H141.14V959.95H139.6ZM150.69,940.5H152.22V959.95H150.69ZM160.39,940.5H161.93V959.95H160.39ZM168.7,940.5H170.24V959.95H168.7ZM179.79,940.5H181.33V959.95H179.79ZM211.67,940.5H213.2V959.95H211.67ZM282.34,940.5H283.88V959.95H282.34ZM285.11,940.5H286.65V959.95H285.11ZM287.89,940.5H290.81V959.95H287.89ZM292.04,940.5H293.58V959.95H292.04ZM297.59,940.5H299.12V959.95H297.59ZM300.36,940.5H301.89V959.95H300.36ZM357.18,940.5H358.71V959.95H357.18ZM364.11,940.5H365.64V959.95H364.11ZM382.12,940.5H383.66V959.95H382.12ZM390.44,940.5H391.97V959.95H390.44ZM416.77,940.5H418.3V959.95H416.77ZM426.47,940.5H428V959.95H426.47ZM429.24,940.5H430.78V959.95H429.24ZM443.1,940.5H444.63V959.95H443.1ZM450.03,940.5H451.56V959.95H450.03ZM134.06,959.8H135.59V978.75H134.06ZM146.53,959.8H148.07V978.75H146.53ZM153.46,959.8H155V978.75H153.46ZM156.23,959.8H157.77V978.75H156.23ZM175.63,959.8H177.17V978.75H175.63ZM185.33,959.8H186.87V978.75H185.33ZM195.04,959.8H196.57V978.75H195.04ZM201.96,959.8H203.5V978.75H201.96ZM204.74,959.8H206.27V978.75H204.74ZM208.89,959.8H210.43V978.75H208.89ZM275.41,959.8H276.95V978.75H275.41ZM279.57,959.8H281.11V978.75H279.57ZM289.27,959.8H294.96V978.75H289.27ZM297.59,959.8H300.51V978.75H297.59ZM301.74,959.8H303.28V978.75H301.74ZM305.9,959.8H308.82V978.75H305.9ZM311.45,959.8H312.98V978.75H311.45ZM386.28,959.8H387.82V978.75H386.28ZM440.33,959.8H441.86V978.75H440.33ZM450.03,959.8H452.95V978.75H450.03ZM122.97,978.6H124.51V997.75H122.97ZM146.53,978.6H148.07V997.75H146.53ZM168.7,978.6H171.63V997.75H168.7ZM174.25,978.6H175.78V997.75H174.25ZM192.26,978.6H193.8V997.75H192.26ZM197.81,978.6H199.34V997.75H197.81ZM207.51,978.6H209.04V997.75H207.51ZM251.85,978.6H253.39V997.75H251.85ZM267.1,978.6H268.63V997.75H267.1ZM269.87,978.6H271.41V997.75H269.87ZM272.64,978.6H275.56V997.75H272.64ZM278.19,978.6H279.72V997.75H278.19ZM282.34,978.6H283.88V997.75H282.34ZM293.43,978.6H294.96V997.75H293.43ZM372.42,978.6H375.34V997.75H372.42ZM397.37,978.6H400.29V997.75H397.37ZM427.86,978.6H429.39V997.75H427.86ZM438.94,978.6H444.63V997.75H438.94ZM138.22,997.6H139.75V1017.35H138.22ZM171.48,997.6H173.01V1017.35H171.48ZM183.95,997.6H185.48V1017.35H183.95ZM189.49,997.6H191.03V1017.35H189.49ZM268.48,997.6H271.41V1017.35H268.48ZM282.34,997.6H283.88V1017.35H282.34ZM296.2,997.6H297.74V1017.35H296.2ZM298.97,997.6H300.51V1017.35H298.97ZM305.9,997.6H307.44V1017.35H305.9ZM312.83,997.6H314.37V1017.35H312.83ZM315.6,997.6H317.14V1017.35H315.6ZM321.15,997.6H322.68V1017.35H321.15ZM369.65,997.6H371.19V1017.35H369.65ZM372.42,997.6H373.96V1017.35H372.42ZM393.21,997.6H394.75V1017.35H393.21ZM400.14,997.6H401.67V1017.35H400.14ZM121.59,1017.2H123.12V1027.15H121.59ZM127.13,1017.2H128.67V1027.15H127.13ZM135.44,1017.2H136.98V1027.15H135.44ZM138.22,1017.2H139.75V1027.15H138.22ZM153.46,1017.2H155V1027.15H153.46ZM157.62,1017.2H159.15V1027.15H157.62ZM160.39,1017.2H161.93V1027.15H160.39ZM163.16,1017.2H166.08V1027.15H163.16ZM175.63,1017.2H177.17V1027.15H175.63ZM179.79,1017.2H181.33V1027.15H179.79ZM185.33,1017.2H186.87V1027.15H185.33ZM195.04,1017.2H196.57V1027.15H195.04ZM199.19,1017.2H202.11V1027.15H199.19ZM254.63,1017.2H256.16V1027.15H254.63ZM261.56,1017.2H263.09V1027.15H261.56ZM265.71,1017.2H267.25V1027.15H265.71ZM279.57,1017.2H281.11V1027.15H279.57ZM285.11,1017.2H286.65V1027.15H285.11ZM287.89,1017.2H289.42V1027.15H287.89ZM294.81,1017.2H297.74V1027.15H294.81ZM298.97,1017.2H300.51V1027.15H298.97ZM301.74,1017.2H303.28V1027.15H301.74ZM305.9,1017.2H307.44V1027.15H305.9ZM310.06,1017.2H311.6V1027.15H310.06ZM316.99,1017.2H318.52V1027.15H316.99ZM322.53,1017.2H324.07V1027.15H322.53ZM376.58,1017.2H378.12V1027.15H376.58ZM395.98,1017.2H397.52V1027.15H395.98ZM407.07,1017.2H408.6V1027.15H407.07ZM411.23,1017.2H412.76V1027.15H411.23ZM415.38,1017.2H416.92V1027.15H415.38ZM432.01,1017.2H433.55V1027.15H432.01ZM438.94,1017.2H440.48V1027.15H438.94ZM448.64,1017.2H451.56V1027.15H448.64Z"/>
<path fill="#026ae1" d="M165.93,528H167.47V538.15H165.93ZM171.48,528H173.01V538.15H171.48ZM181.18,528H182.71V538.15H181.18ZM196.42,528H197.96V538.15H196.42ZM240.77,528H242.3V538.15H240.77ZM251.85,528H253.39V538.15H251.85ZM254.63,528H258.93V538.15H254.63ZM260.17,528H261.7V538.15H260.17ZM368.26,528H369.8V538.15H368.26ZM372.42,528H373.96V538.15H372.42ZM393.21,528H394.75V538.15H393.21ZM411.23,528H414.15V538.15H411.23ZM129.9,538H131.44V558.45H129.9ZM146.53,538H148.07V558.45H146.53ZM190.88,538H192.41V558.45H190.88ZM218.59,538H220.13V558.45H218.59ZM221.37,538H222.9V558.45H221.37ZM224.14,538H225.67V558.45H224.14ZM229.68,538H232.6V558.45H229.68ZM250.47,538H252V558.45H250.47ZM265.71,538H267.25V558.45H265.71ZM375.19,538H376.73V558.45H375.19ZM382.12,538H383.66V558.45H382.12ZM390.44,538H391.97V558.45H390.44ZM419.54,538H422.46V558.45H419.54ZM426.47,538H428V558.45H426.47ZM434.78,538H436.32V558.45H434.78ZM136.83,558.3H138.37V578.75H136.83ZM146.53,558.3H149.45V578.75H146.53ZM159,558.3H161.93V578.75H159ZM171.48,558.3H173.01V578.75H171.48ZM208.89,558.3H213.2V578.75H208.89ZM217.21,558.3H218.74V578.75H217.21ZM219.98,558.3H221.52V578.75H219.98ZM222.75,558.3H224.29V578.75H222.75ZM240.77,558.3H242.3V578.75H240.77ZM379.35,558.3H380.89V578.75H379.35ZM386.28,558.3H387.82V578.75H386.28ZM429.24,558.3H430.78V578.75H429.24ZM451.41,558.3H452.95V578.75H451.41ZM131.29,578.6H132.82V599.45H131.29ZM139.6,578.6H141.14V599.45H139.6ZM167.32,578.6H168.85V599.45H167.32ZM171.48,578.6H173.01V599.45H171.48ZM177.02,578.6H178.56V599.45H177.02ZM182.56,578.6H184.1V599.45H182.56ZM211.67,578.6H213.2V599.45H211.67ZM251.85,578.6H253.39V599.45H251.85ZM254.63,578.6H256.16V599.45H254.63ZM261.56,578.6H263.09V599.45H261.56ZM393.21,578.6H394.75V599.45H393.21ZM397.37,578.6H398.9V599.45H397.37ZM423.7,578.6H425.23V599.45H423.7ZM124.36,599.3H125.89V615.15H124.36ZM164.55,599.3H166.08V615.15H164.55ZM174.25,599.3H175.78V615.15H174.25ZM217.21,599.3H220.13V615.15H217.21ZM221.37,599.3H222.9V615.15H221.37ZM228.3,599.3H229.83V615.15H228.3ZM238,599.3H239.53V615.15H238ZM243.54,599.3H245.08V615.15H243.54ZM256.01,599.3H260.32V615.15H256.01ZM389.05,599.3H390.59V615.15H389.05ZM398.75,599.3H400.29V615.15H398.75ZM414,599.3H415.53V615.15H414ZM419.54,599.3H421.08V615.15H419.54ZM423.7,599.3H425.23V615.15H423.7ZM441.71,599.3H443.25V615.15H441.71ZM131.29,615H132.82V634.65H131.29ZM156.23,615H159.15V634.65H156.23ZM160.39,615H163.31V634.65H160.39ZM168.7,615H170.24V634.65H168.7ZM201.96,615H204.89V634.65H201.96ZM390.44,615H391.97V634.65H390.44ZM393.21,615H394.75V634.65H393.21ZM450.03,615H451.56V634.65H450.03ZM129.9,634.5H131.44V653.85H129.9ZM143.76,634.5H146.68V653.85H143.76ZM149.3,634.5H152.22V653.85H149.3ZM153.46,634.5H155V653.85H153.46ZM160.39,634.5H161.93V653.85H160.39ZM163.16,634.5H164.7V653.85H163.16ZM208.89,634.5H210.43V653.85H208.89ZM225.52,634.5H227.06V653.85H225.52ZM243.54,634.5H247.85V653.85H243.54ZM395.98,634.5H397.52V653.85H395.98ZM398.75,634.5H401.67V653.85H398.75ZM408.45,634.5H409.99V653.85H408.45ZM419.54,634.5H421.08V653.85H419.54ZM134.06,653.7H135.59V673.05H134.06ZM140.99,653.7H142.52V673.05H140.99ZM192.26,653.7H193.8V673.05H192.26ZM199.19,653.7H200.73V673.05H199.19ZM210.28,653.7H211.82V673.05H210.28ZM236.61,653.7H238.15V673.05H236.61ZM250.47,653.7H252V673.05H250.47ZM253.24,653.7H254.78V673.05H253.24ZM375.19,653.7H378.12V673.05H375.19ZM383.51,653.7H386.43V673.05H383.51ZM389.05,653.7H390.59V673.05H389.05ZM394.6,653.7H397.52V673.05H394.6ZM404.3,653.7H405.83V673.05H404.3ZM426.47,653.7H428V673.05H426.47ZM122.97,672.9H124.51V691.45H122.97ZM131.29,672.9H135.59V691.45H131.29ZM152.07,672.9H153.61V691.45H152.07ZM192.26,672.9H193.8V691.45H192.26ZM213.05,672.9H215.97V691.45H213.05ZM221.37,672.9H224.29V691.45H221.37ZM243.54,672.9H245.08V691.45H243.54ZM246.31,672.9H247.85V691.45H246.31ZM249.08,672.9H250.62V691.45H249.08ZM251.85,672.9H253.39V691.45H251.85ZM287.89,672.9H289.42V691.45H287.89ZM294.81,672.9H296.35V691.45H294.81ZM297.59,672.9H299.12V691.45H297.59ZM304.52,672.9H306.05V691.45H304.52ZM368.26,672.9H369.8V691.45H368.26ZM372.42,672.9H373.96V691.45H372.42ZM377.97,672.9H379.5V691.45H377.97ZM384.89,672.9H386.43V691.45H384.89ZM393.21,672.9H394.75V691.45H393.21ZM416.77,672.9H418.3V691.45H416.77ZM122.97,691.3H124.51V710.65H122.97ZM128.52,691.3H130.05V710.65H128.52ZM153.46,691.3H155V710.65H153.46ZM183.95,691.3H185.48V710.65H183.95ZM190.88,691.3H192.41V710.65H190.88ZM197.81,691.3H199.34V710.65H197.81ZM201.96,691.3H203.5V710.65H201.96ZM215.82,691.3H217.36V710.65H215.82ZM228.3,691.3H229.83V710.65H228.3ZM243.54,691.3H245.08V710.65H243.54ZM249.08,691.3H250.62V710.65H249.08ZM279.57,691.3H281.11V710.65H279.57ZM354.41,691.3H355.94V710.65H354.41ZM365.49,691.3H367.03V710.65H365.49ZM368.26,691.3H369.8V710.65H368.26ZM371.04,691.3H372.57V710.65H371.04ZM384.89,691.3H386.43V710.65H384.89ZM389.05,691.3H391.97V710.65H389.05ZM394.6,691.3H396.13V710.65H394.6ZM405.68,691.3H407.22V710.65H405.68ZM425.08,691.3H426.62V710.65H425.08ZM427.86,691.3H429.39V710.65H427.86ZM430.63,691.3H432.16V710.65H430.63ZM436.17,691.3H437.71V710.65H436.17ZM132.67,710.5H134.21V730.65H132.67ZM145.15,710.5H148.07V730.65H145.15ZM157.62,710.5H159.15V730.65H157.62ZM224.14,710.5H225.67V730.65H224.14ZM239.38,710.5H240.92V730.65H239.38ZM242.15,710.5H245.08V730.65H242.15ZM251.85,710.5H253.39V730.65H251.85ZM272.64,710.5H274.18V730.65H272.64ZM351.63,710.5H353.17V730.65H351.63ZM365.49,710.5H367.03V730.65H365.49ZM386.28,710.5H387.82V730.65H386.28ZM400.14,710.5H401.67V730.65H400.14ZM402.91,710.5H405.83V730.65H402.91ZM409.84,710.5H411.38V730.65H409.84ZM423.7,710.5H425.23V730.65H423.7ZM131.29,730.5H132.82V750.45H131.29ZM145.15,730.5H146.68V750.45H145.15ZM178.41,730.5H179.94V750.45H178.41ZM182.56,730.5H184.1V750.45H182.56ZM188.11,730.5H189.64V750.45H188.11ZM190.88,730.5H192.41V750.45H190.88ZM214.44,730.5H215.97V750.45H214.44ZM242.15,730.5H243.69V750.45H242.15ZM247.7,730.5H250.62V750.45H247.7ZM254.63,730.5H256.16V750.45H254.63ZM260.17,730.5H261.7V750.45H260.17ZM267.1,730.5H268.63V750.45H267.1ZM274.03,730.5H275.56V750.45H274.03ZM285.11,730.5H286.65V750.45H285.11ZM294.81,730.5H296.35V750.45H294.81ZM298.97,730.5H300.51V750.45H298.97ZM303.13,730.5H304.67V750.45H303.13ZM307.29,730.5H308.82V750.45H307.29ZM368.26,730.5H369.8V750.45H368.26ZM371.04,730.5H372.57V750.45H371.04ZM389.05,730.5H390.59V750.45H389.05ZM407.07,730.5H408.6V750.45H407.07ZM418.15,730.5H419.69V750.45H418.15ZM427.86,730.5H430.78V750.45H427.86ZM440.33,730.5H441.86V750.45H440.33ZM448.64,730.5H450.18V750.45H448.64ZM131.29,750.3H132.82V769.65H131.29ZM142.37,750.3H145.3V769.65H142.37ZM177.02,750.3H181.33V769.65H177.02ZM201.96,750.3H203.5V769.65H201.96ZM206.12,750.3H207.66V769.65H206.12ZM247.7,750.3H250.62V769.65H247.7ZM251.85,750.3H253.39V769.65H251.85ZM256.01,750.3H260.32V769.65H256.01ZM275.41,750.3H278.33V769.65H275.41ZM279.57,750.3H281.11V769.65H279.57ZM287.89,750.3H289.42V769.65H287.89ZM304.52,750.3H306.05V769.65H304.52ZM307.29,750.3H308.82V769.65H307.29ZM359.95,750.3H362.87V769.65H359.95ZM372.42,750.3H373.96V769.65H372.42ZM375.19,750.3H376.73V769.65H375.19ZM377.97,750.3H379.5V769.65H377.97ZM411.23,750.3H412.76V769.65H411.23ZM423.7,750.3H425.23V769.65H423.7ZM430.63,750.3H432.16V769.65H430.63ZM438.94,750.3H440.48V769.65H438.94ZM138.22,769.5H141.14V787.15H138.22ZM142.37,769.5H143.91V787.15H142.37ZM185.33,769.5H188.26V787.15H185.33ZM217.21,769.5H218.74V787.15H217.21ZM246.31,769.5H247.85V787.15H246.31ZM257.4,769.5H258.93V787.15H257.4ZM307.29,769.5H308.82V787.15H307.29ZM315.6,769.5H317.14V787.15H315.6ZM332.23,769.5H336.54V787.15H332.23ZM337.78,769.5H339.31V787.15H337.78ZM353.02,769.5H354.56V787.15H353.02ZM364.11,769.5H365.64V787.15H364.11ZM368.26,769.5H369.8V787.15H368.26ZM386.28,769.5H387.82V787.15H386.28ZM400.14,769.5H401.67V787.15H400.14ZM422.31,769.5H423.85V787.15H422.31ZM437.56,769.5H439.09V787.15H437.56ZM124.36,787H125.89V807.95H124.36ZM171.48,787H173.01V807.95H171.48ZM195.04,787H196.57V807.95H195.04ZM200.58,787H202.11V807.95H200.58ZM219.98,787H221.52V807.95H219.98ZM222.75,787H224.29V807.95H222.75ZM231.07,787H232.6V807.95H231.07ZM244.93,787H246.46V807.95H244.93ZM254.63,787H256.16V807.95H254.63ZM257.4,787H260.32V807.95H257.4ZM279.57,787H281.11V807.95H279.57ZM294.81,787H296.35V807.95H294.81ZM300.36,787H301.89V807.95H300.36ZM307.29,787H308.82V807.95H307.29ZM328.08,787H329.61V807.95H328.08ZM359.95,787H364.26V807.95H359.95ZM380.74,787H382.27V807.95H380.74ZM416.77,787H418.3V807.95H416.77ZM132.67,807.8H134.21V827.55H132.67ZM186.72,807.8H188.26V827.55H186.72ZM200.58,807.8H202.11V827.55H200.58ZM218.59,807.8H221.52V827.55H218.59ZM231.07,807.8H232.6V827.55H231.07ZM233.84,807.8H235.37V827.55H233.84ZM239.38,807.8H240.92V827.55H239.38ZM244.93,807.8H247.85V827.55H244.93ZM275.41,807.8H276.95V827.55H275.41ZM278.19,807.8H282.49V827.55H278.19ZM286.5,807.8H288.04V827.55H286.5ZM290.66,807.8H292.19V827.55H290.66ZM294.81,807.8H296.35V827.55H294.81ZM297.59,807.8H299.12V827.55H297.59ZM301.74,807.8H303.28V827.55H301.74ZM307.29,807.8H308.82V827.55H307.29ZM310.06,807.8H311.6V827.55H310.06ZM314.22,807.8H315.75V827.55H314.22ZM318.37,807.8H319.91V827.55H318.37ZM333.62,807.8H335.15V827.55H333.62ZM341.93,807.8H344.86V827.55H341.93ZM359.95,807.8H361.49V827.55H359.95ZM372.42,807.8H373.96V827.55H372.42ZM389.05,807.8H390.59V827.55H389.05ZM445.87,807.8H447.41V827.55H445.87ZM448.64,807.8H450.18V827.55H448.64ZM120.2,827.4H121.74V844.35H120.2ZM138.22,827.4H139.75V844.35H138.22ZM142.37,827.4H143.91V844.35H142.37ZM157.62,827.4H160.54V844.35H157.62ZM172.86,827.4H174.4V844.35H172.86ZM179.79,827.4H181.33V844.35H179.79ZM182.56,827.4H184.1V844.35H182.56ZM199.19,827.4H200.73V844.35H199.19ZM203.35,827.4H206.27V844.35H203.35ZM244.93,827.4H246.46V844.35H244.93ZM247.7,827.4H249.23V844.35H247.7ZM253.24,827.4H254.78V844.35H253.24ZM256.01,827.4H257.55V844.35H256.01ZM283.73,827.4H285.26V844.35H283.73ZM314.22,827.4H315.75V844.35H314.22ZM328.08,827.4H329.61V844.35H328.08ZM357.18,827.4H358.71V844.35H357.18ZM359.95,827.4H361.49V844.35H359.95ZM364.11,827.4H368.41V844.35H364.11ZM387.67,827.4H389.2V844.35H387.67ZM398.75,827.4H401.67V844.35H398.75ZM409.84,827.4H411.38V844.35H409.84ZM412.61,827.4H414.15V844.35H412.61ZM422.31,827.4H423.85V844.35H422.31ZM430.63,827.4H432.16V844.35H430.63ZM136.83,844.2H138.37V863.85H136.83ZM165.93,844.2H167.47V863.85H165.93ZM206.12,844.2H207.66V863.85H206.12ZM217.21,844.2H218.74V863.85H217.21ZM244.93,844.2H246.46V863.85H244.93ZM292.04,844.2H293.58V863.85H292.04ZM368.26,844.2H371.19V863.85H368.26ZM375.19,844.2H376.73V863.85H375.19ZM382.12,844.2H383.66V863.85H382.12ZM400.14,844.2H401.67V863.85H400.14ZM423.7,844.2H425.23V863.85H423.7ZM426.47,844.2H428V863.85H426.47ZM438.94,844.2H440.48V863.85H438.94ZM146.53,863.7H148.07V883.15H146.53ZM222.75,863.7H224.29V883.15H222.75ZM226.91,863.7H228.45V883.15H226.91ZM244.93,863.7H246.46V883.15H244.93ZM285.11,863.7H288.04V883.15H285.11ZM289.27,863.7H290.81V883.15H289.27ZM301.74,863.7H303.28V883.15H301.74ZM335,863.7H336.54V883.15H335ZM351.63,863.7H354.56V883.15H351.63ZM369.65,863.7H372.57V883.15H369.65ZM389.05,863.7H390.59V883.15H389.05ZM443.1,863.7H444.63V883.15H443.1ZM138.22,883H139.75V902.15H138.22ZM146.53,883H148.07V902.15H146.53ZM159,883H160.54V902.15H159ZM167.32,883H168.85V902.15H167.32ZM192.26,883H193.8V902.15H192.26ZM200.58,883H202.11V902.15H200.58ZM278.19,883H279.72V902.15H278.19ZM289.27,883H290.81V902.15H289.27ZM372.42,883H373.96V902.15H372.42ZM377.97,883H379.5V902.15H377.97ZM384.89,883H386.43V902.15H384.89ZM411.23,883H412.76V902.15H411.23ZM416.77,883H418.3V902.15H416.77ZM447.26,883H448.79V902.15H447.26ZM451.41,883H452.95V902.15H451.41ZM136.83,902H138.37V921.35H136.83ZM146.53,902H148.07V921.35H146.53ZM168.7,902H170.24V921.35H168.7ZM171.48,902H173.01V921.35H171.48ZM175.63,902H177.17V921.35H175.63ZM190.88,902H192.41V921.35H190.88ZM236.61,902H238.15V921.35H236.61ZM269.87,902H271.41V921.35H269.87ZM283.73,902H285.26V921.35H283.73ZM297.59,902H300.51V921.35H297.59ZM301.74,902H303.28V921.35H301.74ZM305.9,902H307.44V921.35H305.9ZM353.02,902H354.56V921.35H353.02ZM355.79,902H357.33V921.35H355.79ZM376.58,902H378.12V921.35H376.58ZM389.05,902H390.59V921.35H389.05ZM398.75,902H400.29V921.35H398.75ZM423.7,902H426.62V921.35H423.7ZM443.1,902H444.63V921.35H443.1ZM447.26,902H448.79V921.35H447.26ZM120.2,921.2H121.74V940.65H120.2ZM161.78,921.2H163.31V940.65H161.78ZM168.7,921.2H170.24V940.65H168.7ZM171.48,921.2H173.01V940.65H171.48ZM196.42,921.2H197.96V940.65H196.42ZM200.58,921.2H202.11V940.65H200.58ZM213.05,921.2H214.59V940.65H213.05ZM275.41,921.2H276.95V940.65H275.41ZM286.5,921.2H288.04V940.65H286.5ZM300.36,921.2H301.89V940.65H300.36ZM307.29,921.2H310.21V940.65H307.29ZM347.48,921.2H349.01V940.65H347.48ZM350.25,921.2H351.78V940.65H350.25ZM357.18,921.2H358.71V940.65H357.18ZM386.28,921.2H387.82V940.65H386.28ZM418.15,921.2H419.69V940.65H418.15ZM423.7,921.2H425.23V940.65H423.7ZM437.56,921.2H439.09V940.65H437.56ZM440.33,921.2H443.25V940.65H440.33ZM157.62,940.5H159.15V959.95H157.62ZM161.78,940.5H163.31V959.95H161.78ZM174.25,940.5H175.78V959.95H174.25ZM190.88,940.5H192.41V959.95H190.88ZM207.51,940.5H209.04V959.95H207.51ZM275.41,940.5H276.95V959.95H275.41ZM293.43,940.5H294.96V959.95H293.43ZM305.9,940.5H307.44V959.95H305.9ZM312.83,940.5H314.37V959.95H312.83ZM355.79,940.5H357.33V959.95H355.79ZM358.56,940.5H360.1V959.95H358.56ZM451.41,940.5H452.95V959.95H451.41ZM131.29,959.8H132.82V978.75H131.29ZM167.32,959.8H168.85V978.75H167.32ZM170.09,959.8H171.63V978.75H170.09ZM262.94,959.8H264.48V978.75H262.94ZM267.1,959.8H268.63V978.75H267.1ZM278.19,959.8H279.72V978.75H278.19ZM286.5,959.8H288.04V978.75H286.5ZM303.13,959.8H304.67V978.75H303.13ZM312.83,959.8H314.37V978.75H312.83ZM362.72,959.8H364.26V978.75H362.72ZM366.88,959.8H368.41V978.75H366.88ZM391.82,959.8H393.36V978.75H391.82ZM401.52,959.8H403.06V978.75H401.52ZM414,959.8H415.53V978.75H414ZM445.87,959.8H447.41V978.75H445.87ZM124.36,978.6H125.89V997.75H124.36ZM127.13,978.6H128.67V997.75H127.13ZM134.06,978.6H135.59V997.75H134.06ZM188.11,978.6H189.64V997.75H188.11ZM200.58,978.6H202.11V997.75H200.58ZM208.89,978.6H210.43V997.75H208.89ZM256.01,978.6H257.55V997.75H256.01ZM286.5,978.6H288.04V997.75H286.5ZM305.9,978.6H307.44V997.75H305.9ZM315.6,978.6H317.14V997.75H315.6ZM359.95,978.6H362.87V997.75H359.95ZM390.44,978.6H391.97V997.75H390.44ZM395.98,978.6H397.52V997.75H395.98ZM400.14,978.6H401.67V997.75H400.14ZM404.3,978.6H407.22V997.75H404.3ZM447.26,978.6H448.79V997.75H447.26ZM153.46,997.6H155V1017.35H153.46ZM160.39,997.6H161.93V1017.35H160.39ZM188.11,997.6H189.64V1017.35H188.11ZM201.96,997.6H203.5V1017.35H201.96ZM206.12,997.6H207.66V1017.35H206.12ZM257.4,997.6H260.32V1017.35H257.4ZM274.03,997.6H275.56V1017.35H274.03ZM276.8,997.6H278.33V1017.35H276.8ZM297.59,997.6H299.12V1017.35H297.59ZM307.29,997.6H308.82V1017.35H307.29ZM311.45,997.6H312.98V1017.35H311.45ZM314.22,997.6H315.75V1017.35H314.22ZM323.92,997.6H325.45V1017.35H323.92ZM359.95,997.6H361.49V1017.35H359.95ZM371.04,997.6H372.57V1017.35H371.04ZM390.44,997.6H391.97V1017.35H390.44ZM407.07,997.6H409.99V1017.35H407.07ZM414,997.6H415.53V1017.35H414ZM420.93,997.6H422.46V1017.35H420.93ZM423.7,997.6H425.23V1017.35H423.7ZM448.64,997.6H450.18V1017.35H448.64ZM136.83,1017.2H138.37V1027.15H136.83ZM152.07,1017.2H153.61V1027.15H152.07ZM161.78,1017.2H163.31V1027.15H161.78ZM177.02,1017.2H178.56V1027.15H177.02ZM189.49,1017.2H191.03V1027.15H189.49ZM192.26,1017.2H193.8V1027.15H192.26ZM258.78,1017.2H260.32V1027.15H258.78ZM262.94,1017.2H264.48V1027.15H262.94ZM268.48,1017.2H271.41V1027.15H268.48ZM272.64,1017.2H274.18V1027.15H272.64ZM276.8,1017.2H279.72V1027.15H276.8ZM307.29,1017.2H310.21V1027.15H307.29ZM311.45,1017.2H314.37V1027.15H311.45ZM325.3,1017.2H326.84V1027.15H325.3ZM328.08,1017.2H329.61V1027.15H328.08ZM332.23,1017.2H333.77V1027.15H332.23ZM361.34,1017.2H362.87V1027.15H361.34ZM365.49,1017.2H367.03V1027.15H365.49ZM394.6,1017.2H396.13V1027.15H394.6ZM397.37,1017.2H398.9V1027.15H397.37Z"/>
<path fill="#0b74dd" d="M143.76,528H145.3V538.15H143.76ZM152.07,528H155V538.15H152.07ZM190.88,528H195.19V538.15H190.88ZM221.37,528H222.9V538.15H221.37ZM225.52,528H227.06V538.15H225.52ZM253.24,528H254.78V538.15H253.24ZM258.78,528H260.32V538.15H258.78ZM264.33,528H267.25V538.15H264.33ZM343.32,528H344.86V538.15H343.32ZM366.88,528H368.41V538.15H366.88ZM380.74,528H382.27V538.15H380.74ZM397.37,528H398.9V538.15H397.37ZM400.14,528H401.67V538.15H400.14ZM407.07,528H408.6V538.15H407.07ZM414,528H415.53V538.15H414ZM422.31,528H423.85V538.15H422.31ZM432.01,528H433.55V538.15H432.01ZM178.41,538H179.94V558.45H178.41ZM193.65,538H195.19V558.45H193.65ZM235.22,538H236.76V558.45H235.22ZM261.56,538H263.09V558.45H261.56ZM268.48,538H270.02V558.45H268.48ZM373.81,538H375.34V558.45H373.81ZM380.74,538H382.27V558.45H380.74ZM384.89,538H386.43V558.45H384.89ZM391.82,538H393.36V558.45H391.82ZM400.14,538H401.67V558.45H400.14ZM407.07,538H408.6V558.45H407.07ZM418.15,538H419.69V558.45H418.15ZM425.08,538H426.62V558.45H425.08ZM140.99,558.3H142.52V578.75H140.99ZM145.15,558.3H146.68V578.75H145.15ZM165.93,558.3H167.47V578.75H165.93ZM186.72,558.3H188.26V578.75H186.72ZM215.82,558.3H217.36V578.75H215.82ZM221.37,558.3H222.9V578.75H221.37ZM232.45,558.3H233.99V578.75H232.45ZM249.08,558.3H252V578.75H249.08ZM394.6,558.3H400.29V578.75H394.6ZM401.52,558.3H403.06V578.75H401.52ZM436.17,558.3H437.71V578.75H436.17ZM438.94,558.3H440.48V578.75H438.94ZM124.36,578.6H125.89V599.45H124.36ZM152.07,578.6H153.61V599.45H152.07ZM188.11,578.6H189.64V599.45H188.11ZM214.44,578.6H215.97V599.45H214.44ZM218.59,578.6H220.13V599.45H218.59ZM229.68,578.6H231.22V599.45H229.68ZM243.54,578.6H246.46V599.45H243.54ZM383.51,578.6H385.04V599.45H383.51ZM394.6,578.6H396.13V599.45H394.6ZM434.78,578.6H436.32V599.45H434.78ZM450.03,578.6H452.95V599.45H450.03ZM120.2,599.3H121.74V615.15H120.2ZM129.9,599.3H131.44V615.15H129.9ZM207.51,599.3H209.04V615.15H207.51ZM246.31,599.3H247.85V615.15H246.31ZM262.94,599.3H264.48V615.15H262.94ZM395.98,599.3H397.52V615.15H395.98ZM420.93,599.3H422.46V615.15H420.93ZM129.9,615H131.44V634.65H129.9ZM135.44,615H138.37V634.65H135.44ZM142.37,615H143.91V634.65H142.37ZM153.46,615H155V634.65H153.46ZM170.09,615H173.01V634.65H170.09ZM200.58,615H202.11V634.65H200.58ZM206.12,615H207.66V634.65H206.12ZM254.63,615H256.16V634.65H254.63ZM261.56,615H264.48V634.65H261.56ZM366.88,615H368.41V634.65H366.88ZM405.68,615H407.22V634.65H405.68ZM433.4,615H434.93V634.65H433.4ZM124.36,634.5H125.89V653.85H124.36ZM152.07,634.5H153.61V653.85H152.07ZM161.78,634.5H163.31V653.85H161.78ZM165.93,634.5H167.47V653.85H165.93ZM172.86,634.5H174.4V653.85H172.86ZM197.81,634.5H199.34V653.85H197.81ZM203.35,634.5H204.89V653.85H203.35ZM228.3,634.5H229.83V653.85H228.3ZM250.47,634.5H252V653.85H250.47ZM256.01,634.5H258.93V653.85H256.01ZM260.17,634.5H261.7V653.85H260.17ZM357.18,634.5H358.71V653.85H357.18ZM372.42,634.5H373.96V653.85H372.42ZM432.01,634.5H433.55V653.85H432.01ZM434.78,634.5H436.32V653.85H434.78ZM438.94,634.5H441.86V653.85H438.94ZM211.67,653.7H213.2V673.05H211.67ZM240.77,653.7H242.3V673.05H240.77ZM254.63,653.7H256.16V673.05H254.63ZM260.17,653.7H263.09V673.05H260.17ZM264.33,653.7H265.86V673.05H264.33ZM290.66,653.7H292.19V673.05H290.66ZM366.88,653.7H369.8V673.05H366.88ZM382.12,653.7H383.66V673.05H382.12ZM387.67,653.7H389.2V673.05H387.67ZM400.14,653.7H401.67V673.05H400.14ZM138.22,672.9H139.75V691.45H138.22ZM188.11,672.9H189.64V691.45H188.11ZM262.94,672.9H264.48V691.45H262.94ZM274.03,672.9H275.56V691.45H274.03ZM290.66,672.9H293.58V691.45H290.66ZM333.62,672.9H335.15V691.45H333.62ZM344.71,672.9H346.24V691.45H344.71ZM353.02,672.9H354.56V691.45H353.02ZM358.56,672.9H360.1V691.45H358.56ZM366.88,672.9H368.41V691.45H366.88ZM369.65,672.9H371.19V691.45H369.65ZM373.81,672.9H375.34V691.45H373.81ZM401.52,672.9H404.45V691.45H401.52ZM131.29,691.3H132.82V710.65H131.29ZM138.22,691.3H139.75V710.65H138.22ZM154.85,691.3H156.38V710.65H154.85ZM185.33,691.3H186.87V710.65H185.33ZM203.35,691.3H204.89V710.65H203.35ZM206.12,691.3H207.66V710.65H206.12ZM238,691.3H243.69V710.65H238ZM264.33,691.3H265.86V710.65H264.33ZM271.26,691.3H272.79V710.65H271.26ZM298.97,691.3H300.51V710.65H298.97ZM353.02,691.3H354.56V710.65H353.02ZM355.79,691.3H357.33V710.65H355.79ZM361.34,691.3H362.87V710.65H361.34ZM379.35,691.3H380.89V710.65H379.35ZM393.21,691.3H394.75V710.65H393.21ZM398.75,691.3H401.67V710.65H398.75ZM139.6,710.5H141.14V730.65H139.6ZM150.69,710.5H152.22V730.65H150.69ZM189.49,710.5H191.03V730.65H189.49ZM240.77,710.5H242.3V730.65H240.77ZM244.93,710.5H246.46V730.65H244.93ZM247.7,710.5H249.23V730.65H247.7ZM271.26,710.5H272.79V730.65H271.26ZM280.96,710.5H282.49V730.65H280.96ZM283.73,710.5H285.26V730.65H283.73ZM292.04,710.5H293.58V730.65H292.04ZM296.2,710.5H297.74V730.65H296.2ZM298.97,710.5H300.51V730.65H298.97ZM301.74,710.5H303.28V730.65H301.74ZM350.25,710.5H351.78V730.65H350.25ZM354.41,710.5H355.94V730.65H354.41ZM369.65,710.5H371.19V730.65H369.65ZM372.42,710.5H373.96V730.65H372.42ZM379.35,710.5H380.89V730.65H379.35ZM390.44,710.5H391.97V730.65H390.44ZM401.52,710.5H403.06V730.65H401.52ZM408.45,710.5H409.99V730.65H408.45ZM412.61,710.5H414.15V730.65H412.61ZM433.4,710.5H434.93V730.65H433.4ZM443.1,710.5H444.63V730.65H443.1ZM143.76,730.5H145.3V750.45H143.76ZM147.92,730.5H149.45V750.45H147.92ZM175.63,730.5H177.17V750.45H175.63ZM183.95,730.5H185.48V750.45H183.95ZM189.49,730.5H191.03V750.45H189.49ZM193.65,730.5H195.19V750.45H193.65ZM213.05,730.5H214.59V750.45H213.05ZM228.3,730.5H229.83V750.45H228.3ZM231.07,730.5H232.6V750.45H231.07ZM236.61,730.5H238.15V750.45H236.61ZM243.54,730.5H245.08V750.45H243.54ZM253.24,730.5H254.78V750.45H253.24ZM258.78,730.5H260.32V750.45H258.78ZM268.48,730.5H270.02V750.45H268.48ZM275.41,730.5H276.95V750.45H275.41ZM296.2,730.5H297.74V750.45H296.2ZM304.52,730.5H307.44V750.45H304.52ZM329.46,730.5H331V750.45H329.46ZM332.23,730.5H333.77V750.45H332.23ZM335,730.5H336.54V750.45H335ZM343.32,730.5H344.86V750.45H343.32ZM380.74,730.5H382.27V750.45H380.74ZM390.44,730.5H391.97V750.45H390.44ZM395.98,730.5H398.9V750.45H395.98ZM405.68,730.5H407.22V750.45H405.68ZM408.45,730.5H411.38V750.45H408.45ZM436.17,730.5H437.71V750.45H436.17ZM120.2,750.3H121.74V769.65H120.2ZM140.99,750.3H142.52V769.65H140.99ZM199.19,750.3H200.73V769.65H199.19ZM207.51,750.3H209.04V769.65H207.51ZM225.52,750.3H227.06V769.65H225.52ZM235.22,750.3H236.76V769.65H235.22ZM253.24,750.3H254.78V769.65H253.24ZM265.71,750.3H267.25V769.65H265.71ZM274.03,750.3H275.56V769.65H274.03ZM286.5,750.3H288.04V769.65H286.5ZM294.81,750.3H296.35V769.65H294.81ZM297.59,750.3H300.51V769.65H297.59ZM301.74,750.3H303.28V769.65H301.74ZM310.06,750.3H312.98V769.65H310.06ZM332.23,750.3H333.77V769.65H332.23ZM336.39,750.3H337.93V769.65H336.39ZM340.55,750.3H343.47V769.65H340.55ZM344.71,750.3H347.63V769.65H344.71ZM348.86,750.3H350.4V769.65H348.86ZM351.63,750.3H353.17V769.65H351.63ZM355.79,750.3H357.33V769.65H355.79ZM358.56,750.3H360.1V769.65H358.56ZM362.72,750.3H364.26V769.65H362.72ZM382.12,750.3H383.66V769.65H382.12ZM390.44,750.3H391.97V769.65H390.44ZM394.6,750.3H398.9V769.65H394.6ZM401.52,750.3H403.06V769.65H401.52ZM419.54,750.3H421.08V769.65H419.54ZM125.74,769.5H127.28V787.15H125.74ZM171.48,769.5H173.01V787.15H171.48ZM183.95,769.5H185.48V787.15H183.95ZM189.49,769.5H191.03V787.15H189.49ZM215.82,769.5H217.36V787.15H215.82ZM225.52,769.5H227.06V787.15H225.52ZM232.45,769.5H233.99V787.15H232.45ZM253.24,769.5H254.78V787.15H253.24ZM256.01,769.5H257.55V787.15H256.01ZM265.71,769.5H267.25V787.15H265.71ZM271.26,769.5H274.18V787.15H271.26ZM275.41,769.5H278.33V787.15H275.41ZM279.57,769.5H281.11V787.15H279.57ZM289.27,769.5H290.81V787.15H289.27ZM292.04,769.5H293.58V787.15H292.04ZM296.2,769.5H297.74V787.15H296.2ZM301.74,769.5H303.28V787.15H301.74ZM326.69,769.5H332.38V787.15H326.69ZM347.48,769.5H349.01V787.15H347.48ZM351.63,769.5H353.17V787.15H351.63ZM354.41,769.5H355.94V787.15H354.41ZM361.34,769.5H362.87V787.15H361.34ZM365.49,769.5H367.03V787.15H365.49ZM427.86,769.5H429.39V787.15H427.86ZM131.29,787H132.82V807.95H131.29ZM224.14,787H225.67V807.95H224.14ZM238,787H239.53V807.95H238ZM243.54,787H245.08V807.95H243.54ZM247.7,787H249.23V807.95H247.7ZM261.56,787H263.09V807.95H261.56ZM267.1,787H268.63V807.95H267.1ZM271.26,787H272.79V807.95H271.26ZM276.8,787H278.33V807.95H276.8ZM286.5,787H292.19V807.95H286.5ZM303.13,787H304.67V807.95H303.13ZM305.9,787H307.44V807.95H305.9ZM314.22,787H315.75V807.95H314.22ZM321.15,787H325.45V807.95H321.15ZM326.69,787H328.23V807.95H326.69ZM329.46,787H331V807.95H329.46ZM332.23,787H333.77V807.95H332.23ZM339.16,787H342.08V807.95H339.16ZM343.32,787H344.86V807.95H343.32ZM346.09,787H349.01V807.95H346.09ZM358.56,787H360.1V807.95H358.56ZM366.88,787H371.19V807.95H366.88ZM404.3,787H405.83V807.95H404.3ZM408.45,787H409.99V807.95H408.45ZM440.33,787H441.86V807.95H440.33ZM127.13,807.8H128.67V827.55H127.13ZM129.9,807.8H131.44V827.55H129.9ZM134.06,807.8H135.59V827.55H134.06ZM222.75,807.8H224.29V827.55H222.75ZM232.45,807.8H233.99V827.55H232.45ZM236.61,807.8H238.15V827.55H236.61ZM243.54,807.8H245.08V827.55H243.54ZM247.7,807.8H253.39V827.55H247.7ZM254.63,807.8H256.16V827.55H254.63ZM257.4,807.8H258.93V827.55H257.4ZM274.03,807.8H275.56V827.55H274.03ZM283.73,807.8H285.26V827.55H283.73ZM287.89,807.8H290.81V827.55H287.89ZM296.2,807.8H297.74V827.55H296.2ZM300.36,807.8H301.89V827.55H300.36ZM303.13,807.8H304.67V827.55H303.13ZM305.9,807.8H307.44V827.55H305.9ZM311.45,807.8H312.98V827.55H311.45ZM315.6,807.8H317.14V827.55H315.6ZM323.92,807.8H325.45V827.55H323.92ZM332.23,807.8H333.77V827.55H332.23ZM336.39,807.8H337.93V827.55H336.39ZM344.71,807.8H346.24V827.55H344.71ZM348.86,807.8H350.4V827.55H348.86ZM354.41,807.8H355.94V827.55H354.41ZM357.18,807.8H358.71V827.55H357.18ZM365.49,807.8H367.03V827.55H365.49ZM368.26,807.8H369.8V827.55H368.26ZM376.58,807.8H378.12V827.55H376.58ZM418.15,807.8H419.69V827.55H418.15ZM423.7,807.8H425.23V827.55H423.7ZM437.56,807.8H439.09V827.55H437.56ZM450.03,807.8H451.56V827.55H450.03ZM124.36,827.4H125.89V844.35H124.36ZM132.67,827.4H135.59V844.35H132.67ZM136.83,827.4H138.37V844.35H136.83ZM154.85,827.4H157.77V844.35H154.85ZM213.05,827.4H214.59V844.35H213.05ZM218.59,827.4H220.13V844.35H218.59ZM222.75,827.4H224.29V844.35H222.75ZM232.45,827.4H233.99V844.35H232.45ZM240.77,827.4H245.08V844.35H240.77ZM251.85,827.4H253.39V844.35H251.85ZM267.1,827.4H270.02V844.35H267.1ZM271.26,827.4H272.79V844.35H271.26ZM278.19,827.4H282.49V844.35H278.19ZM298.97,827.4H300.51V844.35H298.97ZM304.52,827.4H310.21V844.35H304.52ZM315.6,827.4H319.91V844.35H315.6ZM322.53,827.4H324.07V844.35H322.53ZM336.39,827.4H342.08V844.35H336.39ZM343.32,827.4H346.24V844.35H343.32ZM368.26,827.4H369.8V844.35H368.26ZM383.51,827.4H385.04V844.35H383.51ZM386.28,827.4H387.82V844.35H386.28ZM432.01,827.4H433.55V844.35H432.01ZM434.78,827.4H436.32V844.35H434.78ZM448.64,827.4H450.18V844.35H448.64ZM451.41,827.4H452.95V844.35H451.41ZM125.74,844.2H127.28V863.85H125.74ZM147.92,844.2H149.45V863.85H147.92ZM178.41,844.2H179.94V863.85H178.41ZM193.65,844.2H195.19V863.85H193.65ZM199.19,844.2H200.73V863.85H199.19ZM211.67,844.2H213.2V863.85H211.67ZM239.38,844.2H242.3V863.85H239.38ZM249.08,844.2H250.62V863.85H249.08ZM280.96,844.2H283.88V863.85H280.96ZM287.89,844.2H292.19V863.85H287.89ZM293.43,844.2H294.96V863.85H293.43ZM297.59,844.2H299.12V863.85H297.59ZM303.13,844.2H304.67V863.85H303.13ZM397.37,844.2H398.9V863.85H397.37ZM407.07,844.2H408.6V863.85H407.07ZM447.26,844.2H448.79V863.85H447.26ZM121.59,863.7H123.12V883.15H121.59ZM138.22,863.7H141.14V883.15H138.22ZM172.86,863.7H175.78V883.15H172.86ZM181.18,863.7H182.71V883.15H181.18ZM207.51,863.7H209.04V883.15H207.51ZM239.38,863.7H240.92V883.15H239.38ZM276.8,863.7H278.33V883.15H276.8ZM279.57,863.7H281.11V883.15H279.57ZM287.89,863.7H289.42V883.15H287.89ZM297.59,863.7H300.51V883.15H297.59ZM303.13,863.7H304.67V883.15H303.13ZM333.62,863.7H335.15V883.15H333.62ZM355.79,863.7H357.33V883.15H355.79ZM380.74,863.7H382.27V883.15H380.74ZM391.82,863.7H393.36V883.15H391.82ZM135.44,883H136.98V902.15H135.44ZM139.6,883H141.14V902.15H139.6ZM164.55,883H166.08V902.15H164.55ZM175.63,883H177.17V902.15H175.63ZM189.49,883H192.41V902.15H189.49ZM207.51,883H209.04V902.15H207.51ZM218.59,883H220.13V902.15H218.59ZM275.41,883H276.95V902.15H275.41ZM285.11,883H288.04V902.15H285.11ZM298.97,883H300.51V902.15H298.97ZM351.63,883H357.33V902.15H351.63ZM371.04,883H372.57V902.15H371.04ZM375.19,883H376.73V902.15H375.19ZM386.28,883H389.2V902.15H386.28ZM393.21,883H394.75V902.15H393.21ZM412.61,883H414.15V902.15H412.61ZM418.15,883H419.69V902.15H418.15ZM443.1,883H444.63V902.15H443.1ZM140.99,902H142.52V921.35H140.99ZM217.21,902H218.74V921.35H217.21ZM231.07,902H232.6V921.35H231.07ZM307.29,902H308.82V921.35H307.29ZM354.41,902H355.94V921.35H354.41ZM361.34,902H362.87V921.35H361.34ZM373.81,902H375.34V921.35H373.81ZM422.31,902H423.85V921.35H422.31ZM426.47,902H428V921.35H426.47ZM134.06,921.2H135.59V940.65H134.06ZM153.46,921.2H155V940.65H153.46ZM177.02,921.2H178.56V940.65H177.02ZM189.49,921.2H191.03V940.65H189.49ZM195.04,921.2H196.57V940.65H195.04ZM229.68,921.2H231.22V940.65H229.68ZM233.84,921.2H235.37V940.65H233.84ZM264.33,921.2H265.86V940.65H264.33ZM269.87,921.2H271.41V940.65H269.87ZM297.59,921.2H300.51V940.65H297.59ZM314.22,921.2H317.14V940.65H314.22ZM351.63,921.2H353.17V940.65H351.63ZM355.79,921.2H357.33V940.65H355.79ZM361.34,921.2H364.26V940.65H361.34ZM366.88,921.2H368.41V940.65H366.88ZM394.6,921.2H396.13V940.65H394.6ZM397.37,921.2H398.9V940.65H397.37ZM425.08,921.2H426.62V940.65H425.08ZM429.24,921.2H430.78V940.65H429.24ZM140.99,940.5H142.52V959.95H140.99ZM153.46,940.5H155V959.95H153.46ZM181.18,940.5H182.71V959.95H181.18ZM186.72,940.5H189.64V959.95H186.72ZM196.42,940.5H197.96V959.95H196.42ZM225.52,940.5H227.06V959.95H225.52ZM267.1,940.5H268.63V959.95H267.1ZM274.03,940.5H275.56V959.95H274.03ZM283.73,940.5H285.26V959.95H283.73ZM294.81,940.5H296.35V959.95H294.81ZM301.74,940.5H303.28V959.95H301.74ZM307.29,940.5H310.21V959.95H307.29ZM353.02,940.5H354.56V959.95H353.02ZM361.34,940.5H362.87V959.95H361.34ZM369.65,940.5H371.19V959.95H369.65ZM383.51,940.5H385.04V959.95H383.51ZM120.2,959.8H121.74V978.75H120.2ZM129.9,959.8H131.44V978.75H129.9ZM161.78,959.8H163.31V978.75H161.78ZM165.93,959.8H167.47V978.75H165.93ZM207.51,959.8H209.04V978.75H207.51ZM229.68,959.8H231.22V978.75H229.68ZM261.56,959.8H263.09V978.75H261.56ZM264.33,959.8H265.86V978.75H264.33ZM354.41,959.8H355.94V978.75H354.41ZM364.11,959.8H365.64V978.75H364.11ZM383.51,959.8H386.43V978.75H383.51ZM390.44,959.8H391.97V978.75H390.44ZM412.61,959.8H414.15V978.75H412.61ZM437.56,959.8H439.09V978.75H437.56ZM142.37,978.6H143.91V997.75H142.37ZM154.85,978.6H156.38V997.75H154.85ZM175.63,978.6H177.17V997.75H175.63ZM232.45,978.6H233.99V997.75H232.45ZM260.17,978.6H261.7V997.75H260.17ZM285.11,978.6H286.65V997.75H285.11ZM296.2,978.6H297.74V997.75H296.2ZM308.67,978.6H310.21V997.75H308.67ZM316.99,978.6H318.52V997.75H316.99ZM322.53,978.6H324.07V997.75H322.53ZM358.56,978.6H360.1V997.75H358.56ZM366.88,978.6H371.19V997.75H366.88ZM383.51,978.6H385.04V997.75H383.51ZM387.67,978.6H390.59V997.75H387.67ZM391.82,978.6H393.36V997.75H391.82ZM408.45,978.6H409.99V997.75H408.45ZM132.67,997.6H135.59V1017.35H132.67ZM170.09,997.6H171.63V1017.35H170.09ZM203.35,997.6H204.89V1017.35H203.35ZM247.7,997.6H249.23V1017.35H247.7ZM254.63,997.6H257.55V1017.35H254.63ZM260.17,997.6H261.7V1017.35H260.17ZM271.26,997.6H272.79V1017.35H271.26ZM280.96,997.6H282.49V1017.35H280.96ZM283.73,997.6H285.26V1017.35H283.73ZM286.5,997.6H288.04V1017.35H286.5ZM301.74,997.6H304.67V1017.35H301.74ZM310.06,997.6H311.6V1017.35H310.06ZM319.76,997.6H321.3V1017.35H319.76ZM325.3,997.6H326.84V1017.35H325.3ZM328.08,997.6H329.61V1017.35H328.08ZM373.81,997.6H376.73V1017.35H373.81ZM398.75,997.6H400.29V1017.35H398.75ZM409.84,997.6H411.38V1017.35H409.84ZM412.61,997.6H414.15V1017.35H412.61ZM441.71,997.6H443.25V1017.35H441.71ZM159,1017.2H160.54V1027.15H159ZM171.48,1017.2H173.01V1027.15H171.48ZM247.7,1017.2H249.23V1027.15H247.7ZM256.01,1017.2H258.93V1027.15H256.01ZM267.1,1017.2H268.63V1027.15H267.1ZM271.26,1017.2H272.79V1027.15H271.26ZM274.03,1017.2H275.56V1027.15H274.03ZM283.73,1017.2H285.26V1027.15H283.73ZM286.5,1017.2H288.04V1027.15H286.5ZM297.59,1017.2H299.12V1027.15H297.59ZM318.37,1017.2H321.3V1027.15H318.37ZM323.92,1017.2H325.45V1027.15H323.92ZM329.46,1017.2H331V1027.15H329.46ZM362.72,1017.2H364.26V1027.15H362.72ZM369.65,1017.2H371.19V1027.15H369.65ZM372.42,1017.2H375.34V1027.15H372.42ZM400.14,1017.2H401.67V1027.15H400.14ZM405.68,1017.2H407.22V1027.15H405.68ZM419.54,1017.2H421.08V1027.15H419.54Z"/>
<path fill="#127dd8" d="M147.92,528H149.45V538.15H147.92ZM154.85,528H156.38V538.15H154.85ZM195.04,528H196.57V538.15H195.04ZM199.19,528H200.73V538.15H199.19ZM203.35,528H204.89V538.15H203.35ZM224.14,528H225.67V538.15H224.14ZM267.1,528H268.63V538.15H267.1ZM398.75,528H400.29V538.15H398.75ZM195.04,538H196.57V558.45H195.04ZM214.44,538H215.97V558.45H214.44ZM219.98,538H221.52V558.45H219.98ZM249.08,538H250.62V558.45H249.08ZM251.85,538H253.39V558.45H251.85ZM264.33,538H265.86V558.45H264.33ZM344.71,538H346.24V558.45H344.71ZM376.58,538H378.12V558.45H376.58ZM139.6,558.3H141.14V578.75H139.6ZM150.69,558.3H153.61V578.75H150.69ZM154.85,558.3H156.38V578.75H154.85ZM189.49,558.3H191.03V578.75H189.49ZM233.84,558.3H235.37V578.75H233.84ZM257.4,558.3H258.93V578.75H257.4ZM261.56,558.3H263.09V578.75H261.56ZM264.33,558.3H265.86V578.75H264.33ZM268.48,558.3H270.02V578.75H268.48ZM297.59,558.3H299.12V578.75H297.59ZM376.58,558.3H379.5V578.75H376.58ZM393.21,558.3H394.75V578.75H393.21ZM400.14,558.3H401.67V578.75H400.14ZM450.03,558.3H451.56V578.75H450.03ZM129.9,578.6H131.44V599.45H129.9ZM147.92,578.6H149.45V599.45H147.92ZM206.12,578.6H210.43V599.45H206.12ZM213.05,578.6H214.59V599.45H213.05ZM246.31,578.6H247.85V599.45H246.31ZM253.24,578.6H254.78V599.45H253.24ZM265.71,578.6H267.25V599.45H265.71ZM380.74,578.6H383.66V599.45H380.74ZM386.28,578.6H387.82V599.45H386.28ZM391.82,578.6H393.36V599.45H391.82ZM436.17,578.6H437.71V599.45H436.17ZM134.06,599.3H135.59V615.15H134.06ZM154.85,599.3H156.38V615.15H154.85ZM181.18,599.3H182.71V615.15H181.18ZM206.12,599.3H207.66V615.15H206.12ZM236.61,599.3H238.15V615.15H236.61ZM247.7,599.3H249.23V615.15H247.7ZM251.85,599.3H253.39V615.15H251.85ZM265.71,599.3H267.25V615.15H265.71ZM332.23,599.3H333.77V615.15H332.23ZM355.79,599.3H357.33V615.15H355.79ZM451.41,599.3H452.95V615.15H451.41ZM150.69,615H152.22V634.65H150.69ZM159,615H160.54V634.65H159ZM167.32,615H168.85V634.65H167.32ZM207.51,615H209.04V634.65H207.51ZM267.1,615H268.63V634.65H267.1ZM289.27,615H290.81V634.65H289.27ZM351.63,615H354.56V634.65H351.63ZM387.67,615H390.59V634.65H387.67ZM171.48,634.5H173.01V653.85H171.48ZM206.12,634.5H207.66V653.85H206.12ZM218.59,634.5H220.13V653.85H218.59ZM253.24,634.5H254.78V653.85H253.24ZM258.78,634.5H260.32V653.85H258.78ZM267.1,634.5H268.63V653.85H267.1ZM290.66,634.5H293.58V653.85H290.66ZM366.88,634.5H369.8V653.85H366.88ZM420.93,634.5H422.46V653.85H420.93ZM425.08,634.5H426.62V653.85H425.08ZM429.24,634.5H432.16V653.85H429.24ZM436.17,634.5H439.09V653.85H436.17ZM147.92,653.7H149.45V673.05H147.92ZM160.39,653.7H161.93V673.05H160.39ZM163.16,653.7H164.7V673.05H163.16ZM165.93,653.7H167.47V673.05H165.93ZM190.88,653.7H192.41V673.05H190.88ZM200.58,653.7H203.5V673.05H200.58ZM249.08,653.7H250.62V673.05H249.08ZM262.94,653.7H264.48V673.05H262.94ZM268.48,653.7H270.02V673.05H268.48ZM292.04,653.7H293.58V673.05H292.04ZM296.2,653.7H297.74V673.05H296.2ZM298.97,653.7H300.51V673.05H298.97ZM305.9,653.7H307.44V673.05H305.9ZM322.53,653.7H324.07V673.05H322.53ZM341.93,653.7H343.47V673.05H341.93ZM353.02,653.7H354.56V673.05H353.02ZM357.18,653.7H358.71V673.05H357.18ZM361.34,653.7H362.87V673.05H361.34ZM369.65,653.7H371.19V673.05H369.65ZM372.42,653.7H373.96V673.05H372.42ZM390.44,653.7H393.36V673.05H390.44ZM433.4,653.7H436.32V673.05H433.4ZM447.26,653.7H448.79V673.05H447.26ZM127.13,672.9H128.67V691.45H127.13ZM154.85,672.9H157.77V691.45H154.85ZM160.39,672.9H161.93V691.45H160.39ZM186.72,672.9H188.26V691.45H186.72ZM189.49,672.9H192.41V691.45H189.49ZM193.65,672.9H195.19V691.45H193.65ZM208.89,672.9H210.43V691.45H208.89ZM232.45,672.9H233.99V691.45H232.45ZM247.7,672.9H249.23V691.45H247.7ZM256.01,672.9H257.55V691.45H256.01ZM258.78,672.9H260.32V691.45H258.78ZM271.26,672.9H272.79V691.45H271.26ZM296.2,672.9H297.74V691.45H296.2ZM300.36,672.9H301.89V691.45H300.36ZM332.23,672.9H333.77V691.45H332.23ZM354.41,672.9H355.94V691.45H354.41ZM362.72,672.9H365.64V691.45H362.72ZM375.19,672.9H376.73V691.45H375.19ZM398.75,672.9H401.67V691.45H398.75ZM419.54,672.9H421.08V691.45H419.54ZM127.13,691.3H128.67V710.65H127.13ZM142.37,691.3H143.91V710.65H142.37ZM207.51,691.3H209.04V710.65H207.51ZM222.75,691.3H224.29V710.65H222.75ZM235.22,691.3H236.76V710.65H235.22ZM244.93,691.3H246.46V710.65H244.93ZM250.47,691.3H252V710.65H250.47ZM253.24,691.3H254.78V710.65H253.24ZM260.17,691.3H261.7V710.65H260.17ZM276.8,691.3H279.72V710.65H276.8ZM301.74,691.3H304.67V710.65H301.74ZM332.23,691.3H333.77V710.65H332.23ZM335,691.3H337.93V710.65H335ZM350.25,691.3H353.17V710.65H350.25ZM364.11,691.3H365.64V710.65H364.11ZM366.88,691.3H368.41V710.65H366.88ZM128.52,710.5H130.05V730.65H128.52ZM131.29,710.5H132.82V730.65H131.29ZM149.3,710.5H150.84V730.65H149.3ZM200.58,710.5H202.11V730.65H200.58ZM246.31,710.5H247.85V730.65H246.31ZM257.4,710.5H261.7V730.65H257.4ZM265.71,710.5H267.25V730.65H265.71ZM269.87,710.5H271.41V730.65H269.87ZM290.66,710.5H292.19V730.65H290.66ZM294.81,710.5H296.35V730.65H294.81ZM300.36,710.5H301.89V730.65H300.36ZM303.13,710.5H306.05V730.65H303.13ZM308.67,710.5H311.6V730.65H308.67ZM359.95,710.5H361.49V730.65H359.95ZM368.26,710.5H369.8V730.65H368.26ZM395.98,710.5H397.52V730.65H395.98ZM405.68,710.5H407.22V730.65H405.68ZM129.9,730.5H131.44V750.45H129.9ZM146.53,730.5H148.07V750.45H146.53ZM149.3,730.5H150.84V750.45H149.3ZM174.25,730.5H175.78V750.45H174.25ZM195.04,730.5H196.57V750.45H195.04ZM208.89,730.5H210.43V750.45H208.89ZM238,730.5H239.53V750.45H238ZM244.93,730.5H246.46V750.45H244.93ZM251.85,730.5H253.39V750.45H251.85ZM257.4,730.5H258.93V750.45H257.4ZM292.04,730.5H294.96V750.45H292.04ZM310.06,730.5H311.6V750.45H310.06ZM315.6,730.5H317.14V750.45H315.6ZM336.39,730.5H340.7V750.45H336.39ZM348.86,730.5H350.4V750.45H348.86ZM353.02,730.5H354.56V750.45H353.02ZM359.95,730.5H361.49V750.45H359.95ZM369.65,730.5H371.19V750.45H369.65ZM411.23,730.5H412.76V750.45H411.23ZM416.77,730.5H418.3V750.45H416.77ZM422.31,730.5H423.85V750.45H422.31ZM444.49,730.5H446.02V750.45H444.49ZM174.25,750.3H175.78V769.65H174.25ZM186.72,750.3H188.26V769.65H186.72ZM250.47,750.3H252V769.65H250.47ZM254.63,750.3H256.16V769.65H254.63ZM261.56,750.3H263.09V769.65H261.56ZM264.33,750.3H265.86V769.65H264.33ZM278.19,750.3H279.72V769.65H278.19ZM285.11,750.3H286.65V769.65H285.11ZM296.2,750.3H297.74V769.65H296.2ZM303.13,750.3H304.67V769.65H303.13ZM314.22,750.3H315.75V769.65H314.22ZM322.53,750.3H328.23V769.65H322.53ZM333.62,750.3H335.15V769.65H333.62ZM350.25,750.3H351.78V769.65H350.25ZM364.11,750.3H365.64V769.65H364.11ZM369.65,750.3H371.19V769.65H369.65ZM128.52,769.5H130.05V787.15H128.52ZM140.99,769.5H142.52V787.15H140.99ZM143.76,769.5H145.3V787.15H143.76ZM170.09,769.5H171.63V787.15H170.09ZM175.63,769.5H177.17V787.15H175.63ZM188.11,769.5H189.64V787.15H188.11ZM231.07,769.5H232.6V787.15H231.07ZM247.7,769.5H249.23V787.15H247.7ZM251.85,769.5H253.39V787.15H251.85ZM258.78,769.5H260.32V787.15H258.78ZM267.1,769.5H270.02V787.15H267.1ZM286.5,769.5H288.04V787.15H286.5ZM293.43,769.5H294.96V787.15H293.43ZM304.52,769.5H306.05V787.15H304.52ZM312.83,769.5H314.37V787.15H312.83ZM322.53,769.5H324.07V787.15H322.53ZM358.56,769.5H361.49V787.15H358.56ZM362.72,769.5H364.26V787.15H362.72ZM411.23,769.5H412.76V787.15H411.23ZM420.93,769.5H422.46V787.15H420.93ZM448.64,769.5H450.18V787.15H448.64ZM129.9,787H131.44V807.95H129.9ZM134.06,787H135.59V807.95H134.06ZM167.32,787H168.85V807.95H167.32ZM170.09,787H171.63V807.95H170.09ZM239.38,787H240.92V807.95H239.38ZM246.31,787H247.85V807.95H246.31ZM249.08,787H250.62V807.95H249.08ZM260.17,787H261.7V807.95H260.17ZM268.48,787H270.02V807.95H268.48ZM272.64,787H274.18V807.95H272.64ZM280.96,787H282.49V807.95H280.96ZM310.06,787H311.6V807.95H310.06ZM315.6,787H317.14V807.95H315.6ZM319.76,787H321.3V807.95H319.76ZM335,787H339.31V807.95H335ZM341.93,787H343.47V807.95H341.93ZM344.71,787H346.24V807.95H344.71ZM364.11,787H365.64V807.95H364.11ZM371.04,787H373.96V807.95H371.04ZM397.37,787H398.9V807.95H397.37ZM418.15,787H419.69V807.95H418.15ZM422.31,787H423.85V807.95H422.31ZM443.1,787H444.63V807.95H443.1ZM125.74,807.8H127.28V827.55H125.74ZM238,807.8H239.53V827.55H238ZM261.56,807.8H264.48V827.55H261.56ZM265.71,807.8H267.25V827.55H265.71ZM293.43,807.8H294.96V827.55H293.43ZM304.52,807.8H306.05V827.55H304.52ZM329.46,807.8H331V827.55H329.46ZM347.48,807.8H349.01V827.55H347.48ZM350.25,807.8H353.17V827.55H350.25ZM358.56,807.8H360.1V827.55H358.56ZM361.34,807.8H362.87V827.55H361.34ZM373.81,807.8H375.34V827.55H373.81ZM387.67,807.8H389.2V827.55H387.67ZM125.74,827.4H127.28V844.35H125.74ZM135.44,827.4H136.98V844.35H135.44ZM139.6,827.4H141.14V844.35H139.6ZM163.16,827.4H164.7V844.35H163.16ZM165.93,827.4H167.47V844.35H165.93ZM195.04,827.4H196.57V844.35H195.04ZM233.84,827.4H236.76V844.35H233.84ZM249.08,827.4H250.62V844.35H249.08ZM254.63,827.4H256.16V844.35H254.63ZM257.4,827.4H260.32V844.35H257.4ZM272.64,827.4H276.95V844.35H272.64ZM290.66,827.4H292.19V844.35H290.66ZM294.81,827.4H296.35V844.35H294.81ZM311.45,827.4H314.37V844.35H311.45ZM319.76,827.4H322.68V844.35H319.76ZM323.92,827.4H325.45V844.35H323.92ZM326.69,827.4H328.23V844.35H326.69ZM335,827.4H336.54V844.35H335ZM347.48,827.4H349.01V844.35H347.48ZM350.25,827.4H353.17V844.35H350.25ZM379.35,827.4H380.89V844.35H379.35ZM179.79,844.2H181.33V863.85H179.79ZM203.35,844.2H204.89V863.85H203.35ZM214.44,844.2H215.97V863.85H214.44ZM225.52,844.2H227.06V863.85H225.52ZM246.31,844.2H247.85V863.85H246.31ZM279.57,844.2H281.11V863.85H279.57ZM283.73,844.2H285.26V863.85H283.73ZM294.81,844.2H297.74V863.85H294.81ZM311.45,844.2H312.98V863.85H311.45ZM376.58,844.2H378.12V863.85H376.58ZM384.89,844.2H386.43V863.85H384.89ZM420.93,844.2H423.85V863.85H420.93ZM440.33,844.2H441.86V863.85H440.33ZM136.83,863.7H138.37V883.15H136.83ZM215.82,863.7H217.36V883.15H215.82ZM219.98,863.7H221.52V883.15H219.98ZM235.22,863.7H236.76V883.15H235.22ZM238,863.7H239.53V883.15H238ZM283.73,863.7H285.26V883.15H283.73ZM293.43,863.7H294.96V883.15H293.43ZM341.93,863.7H343.47V883.15H341.93ZM193.65,883H195.19V902.15H193.65ZM208.89,883H210.43V902.15H208.89ZM279.57,883H281.11V902.15H279.57ZM283.73,883H285.26V902.15H283.73ZM287.89,883H289.42V902.15H287.89ZM304.52,883H306.05V902.15H304.52ZM347.48,883H349.01V902.15H347.48ZM350.25,883H351.78V902.15H350.25ZM376.58,883H378.12V902.15H376.58ZM383.51,883H385.04V902.15H383.51ZM407.07,883H408.6V902.15H407.07ZM434.78,883H436.32V902.15H434.78ZM440.33,883H441.86V902.15H440.33ZM149.3,902H150.84V921.35H149.3ZM196.42,902H197.96V921.35H196.42ZM271.26,902H272.79V921.35H271.26ZM289.27,902H290.81V921.35H289.27ZM294.81,902H296.35V921.35H294.81ZM310.06,902H311.6V921.35H310.06ZM343.32,902H344.86V921.35H343.32ZM346.09,902H347.63V921.35H346.09ZM348.86,902H350.4V921.35H348.86ZM132.67,921.2H134.21V940.65H132.67ZM192.26,921.2H193.8V940.65H192.26ZM199.19,921.2H200.73V940.65H199.19ZM215.82,921.2H217.36V940.65H215.82ZM225.52,921.2H227.06V940.65H225.52ZM238,921.2H239.53V940.65H238ZM265.71,921.2H267.25V940.65H265.71ZM276.8,921.2H278.33V940.65H276.8ZM294.81,921.2H296.35V940.65H294.81ZM311.45,921.2H312.98V940.65H311.45ZM365.49,921.2H367.03V940.65H365.49ZM427.86,921.2H429.39V940.65H427.86ZM135.44,940.5H136.98V959.95H135.44ZM152.07,940.5H153.61V959.95H152.07ZM199.19,940.5H200.73V959.95H199.19ZM258.78,940.5H263.09V959.95H258.78ZM265.71,940.5H267.25V959.95H265.71ZM271.26,940.5H272.79V959.95H271.26ZM286.5,940.5H288.04V959.95H286.5ZM298.97,940.5H300.51V959.95H298.97ZM310.06,940.5H312.98V959.95H310.06ZM321.15,940.5H322.68V959.95H321.15ZM350.25,940.5H351.78V959.95H350.25ZM366.88,940.5H368.41V959.95H366.88ZM384.89,940.5H386.43V959.95H384.89ZM418.15,940.5H419.69V959.95H418.15ZM430.63,940.5H432.16V959.95H430.63ZM160.39,959.8H161.93V978.75H160.39ZM206.12,959.8H207.66V978.75H206.12ZM228.3,959.8H229.83V978.75H228.3ZM265.71,959.8H267.25V978.75H265.71ZM274.03,959.8H275.56V978.75H274.03ZM280.96,959.8H282.49V978.75H280.96ZM287.89,959.8H289.42V978.75H287.89ZM294.81,959.8H296.35V978.75H294.81ZM304.52,959.8H306.05V978.75H304.52ZM308.67,959.8H310.21V978.75H308.67ZM316.99,959.8H319.91V978.75H316.99ZM355.79,959.8H357.33V978.75H355.79ZM365.49,959.8H367.03V978.75H365.49ZM368.26,959.8H369.8V978.75H368.26ZM394.6,959.8H396.13V978.75H394.6ZM402.91,959.8H404.45V978.75H402.91ZM416.77,959.8H418.3V978.75H416.77ZM140.99,978.6H142.52V997.75H140.99ZM150.69,978.6H152.22V997.75H150.69ZM199.19,978.6H200.73V997.75H199.19ZM213.05,978.6H214.59V997.75H213.05ZM254.63,978.6H256.16V997.75H254.63ZM257.4,978.6H258.93V997.75H257.4ZM264.33,978.6H265.86V997.75H264.33ZM271.26,978.6H272.79V997.75H271.26ZM280.96,978.6H282.49V997.75H280.96ZM304.52,978.6H306.05V997.75H304.52ZM310.06,978.6H312.98V997.75H310.06ZM323.92,978.6H325.45V997.75H323.92ZM362.72,978.6H367.03V997.75H362.72ZM380.74,978.6H382.27V997.75H380.74ZM384.89,978.6H387.82V997.75H384.89ZM407.07,978.6H408.6V997.75H407.07ZM416.77,978.6H418.3V997.75H416.77ZM426.47,978.6H428V997.75H426.47ZM451.41,978.6H452.95V997.75H451.41ZM143.76,997.6H145.3V1017.35H143.76ZM200.58,997.6H202.11V1017.35H200.58ZM264.33,997.6H265.86V1017.35H264.33ZM272.64,997.6H274.18V1017.35H272.64ZM285.11,997.6H286.65V1017.35H285.11ZM293.43,997.6H296.35V1017.35H293.43ZM308.67,997.6H310.21V1017.35H308.67ZM326.69,997.6H328.23V1017.35H326.69ZM358.56,997.6H360.1V1017.35H358.56ZM362.72,997.6H364.26V1017.35H362.72ZM376.58,997.6H379.5V1017.35H376.58ZM382.12,997.6H383.66V1017.35H382.12ZM395.98,997.6H397.52V1017.35H395.98ZM411.23,997.6H412.76V1017.35H411.23ZM129.9,1017.2H131.44V1027.15H129.9ZM174.25,1017.2H175.78V1027.15H174.25ZM183.95,1017.2H185.48V1027.15H183.95ZM201.96,1017.2H203.5V1027.15H201.96ZM206.12,1017.2H207.66V1027.15H206.12ZM275.41,1017.2H276.95V1027.15H275.41ZM304.52,1017.2H306.05V1027.15H304.52ZM314.22,1017.2H315.75V1027.15H314.22ZM321.15,1017.2H322.68V1027.15H321.15ZM326.69,1017.2H328.23V1027.15H326.69ZM333.62,1017.2H335.15V1027.15H333.62ZM359.95,1017.2H361.49V1027.15H359.95ZM364.11,1017.2H365.64V1027.15H364.11ZM371.04,1017.2H372.57V1027.15H371.04ZM375.19,1017.2H376.73V1027.15H375.19ZM379.35,1017.2H382.27V1027.15H379.35ZM393.21,1017.2H394.75V1027.15H393.21ZM398.75,1017.2H400.29V1027.15H398.75Z"/>
<path fill="#1486d4" d="M215.82,528H217.36V538.15H215.82ZM218.59,528H221.52V538.15H218.59ZM222.75,528H224.29V538.15H222.75ZM235.22,528H236.76V538.15H235.22ZM247.7,528H249.23V538.15H247.7ZM294.81,528H296.35V538.15H294.81ZM304.52,528H306.05V538.15H304.52ZM365.49,528H367.03V538.15H365.49ZM262.94,538H264.48V558.45H262.94ZM292.04,538H293.58V558.45H292.04ZM330.85,538H332.38V558.45H330.85ZM348.86,538H350.4V558.45H348.86ZM411.23,538H412.76V558.45H411.23ZM236.61,558.3H238.15V578.75H236.61ZM256.01,558.3H257.55V578.75H256.01ZM260.17,558.3H261.7V578.75H260.17ZM262.94,558.3H264.48V578.75H262.94ZM267.1,558.3H268.63V578.75H267.1ZM269.87,558.3H271.41V578.75H269.87ZM290.66,558.3H293.58V578.75H290.66ZM353.02,558.3H354.56V578.75H353.02ZM355.79,558.3H357.33V578.75H355.79ZM380.74,558.3H385.04V578.75H380.74ZM138.22,578.6H139.75V599.45H138.22ZM172.86,578.6H174.4V599.45H172.86ZM179.79,578.6H182.71V599.45H179.79ZM183.95,578.6H188.26V599.45H183.95ZM217.21,578.6H218.74V599.45H217.21ZM228.3,578.6H229.83V599.45H228.3ZM258.78,578.6H260.32V599.45H258.78ZM262.94,578.6H264.48V599.45H262.94ZM271.26,578.6H272.79V599.45H271.26ZM289.27,578.6H290.81V599.45H289.27ZM292.04,578.6H294.96V599.45H292.04ZM330.85,578.6H332.38V599.45H330.85ZM395.98,578.6H397.52V599.45H395.98ZM203.35,599.3H204.89V615.15H203.35ZM268.48,599.3H270.02V615.15H268.48ZM278.19,599.3H279.72V615.15H278.19ZM287.89,599.3H289.42V615.15H287.89ZM298.97,599.3H300.51V615.15H298.97ZM330.85,599.3H332.38V615.15H330.85ZM333.62,599.3H335.15V615.15H333.62ZM239.38,615H240.92V634.65H239.38ZM253.24,615H254.78V634.65H253.24ZM257.4,615H258.93V634.65H257.4ZM265.71,615H267.25V634.65H265.71ZM271.26,615H272.79V634.65H271.26ZM290.66,615H292.19V634.65H290.66ZM298.97,615H300.51V634.65H298.97ZM420.93,615H422.46V634.65H420.93ZM447.26,615H448.79V634.65H447.26ZM135.44,634.5H136.98V653.85H135.44ZM154.85,634.5H156.38V653.85H154.85ZM264.33,634.5H265.86V653.85H264.33ZM293.43,634.5H294.96V653.85H293.43ZM298.97,634.5H301.89V653.85H298.97ZM361.34,634.5H362.87V653.85H361.34ZM364.11,634.5H365.64V653.85H364.11ZM394.6,634.5H396.13V653.85H394.6ZM161.78,653.7H163.31V673.05H161.78ZM189.49,653.7H191.03V673.05H189.49ZM195.04,653.7H197.96V673.05H195.04ZM242.15,653.7H243.69V673.05H242.15ZM256.01,653.7H258.93V673.05H256.01ZM269.87,653.7H271.41V673.05H269.87ZM272.64,653.7H274.18V673.05H272.64ZM285.11,653.7H286.65V673.05H285.11ZM289.27,653.7H290.81V673.05H289.27ZM293.43,653.7H294.96V673.05H293.43ZM297.59,653.7H299.12V673.05H297.59ZM303.13,653.7H304.67V673.05H303.13ZM325.3,653.7H326.84V673.05H325.3ZM330.85,653.7H333.77V673.05H330.85ZM347.48,653.7H350.4V673.05H347.48ZM354.41,653.7H357.33V673.05H354.41ZM365.49,653.7H367.03V673.05H365.49ZM445.87,653.7H447.41V673.05H445.87ZM159,672.9H160.54V691.45H159ZM254.63,672.9H256.16V691.45H254.63ZM268.48,672.9H270.02V691.45H268.48ZM272.64,672.9H274.18V691.45H272.64ZM275.41,672.9H276.95V691.45H275.41ZM298.97,672.9H300.51V691.45H298.97ZM301.74,672.9H304.67V691.45H301.74ZM305.9,672.9H307.44V691.45H305.9ZM329.46,672.9H332.38V691.45H329.46ZM343.32,672.9H344.86V691.45H343.32ZM350.25,672.9H351.78V691.45H350.25ZM391.82,672.9H393.36V691.45H391.82ZM395.98,672.9H397.52V691.45H395.98ZM420.93,672.9H422.46V691.45H420.93ZM150.69,691.3H153.61V710.65H150.69ZM156.23,691.3H157.77V710.65H156.23ZM160.39,691.3H161.93V710.65H160.39ZM251.85,691.3H253.39V710.65H251.85ZM258.78,691.3H260.32V710.65H258.78ZM261.56,691.3H263.09V710.65H261.56ZM267.1,691.3H268.63V710.65H267.1ZM272.64,691.3H275.56V710.65H272.64ZM290.66,691.3H292.19V710.65H290.66ZM294.81,691.3H296.35V710.65H294.81ZM305.9,691.3H307.44V710.65H305.9ZM311.45,691.3H312.98V710.65H311.45ZM314.22,691.3H315.75V710.65H314.22ZM326.69,691.3H328.23V710.65H326.69ZM333.62,691.3H335.15V710.65H333.62ZM337.78,691.3H340.7V710.65H337.78ZM348.86,691.3H350.4V710.65H348.86ZM362.72,691.3H364.26V710.65H362.72ZM386.28,691.3H387.82V710.65H386.28ZM401.52,691.3H403.06V710.65H401.52ZM429.24,691.3H430.78V710.65H429.24ZM147.92,710.5H149.45V730.65H147.92ZM179.79,710.5H181.33V730.65H179.79ZM182.56,710.5H186.87V730.65H182.56ZM250.47,710.5H252V730.65H250.47ZM256.01,710.5H257.55V730.65H256.01ZM264.33,710.5H265.86V730.65H264.33ZM267.1,710.5H268.63V730.65H267.1ZM275.41,710.5H276.95V730.65H275.41ZM278.19,710.5H279.72V730.65H278.19ZM282.34,710.5H283.88V730.65H282.34ZM297.59,710.5H299.12V730.65H297.59ZM312.83,710.5H314.37V730.65H312.83ZM316.99,710.5H318.52V730.65H316.99ZM322.53,710.5H324.07V730.65H322.53ZM330.85,710.5H332.38V730.65H330.85ZM336.39,710.5H340.7V730.65H336.39ZM347.48,710.5H350.4V730.65H347.48ZM353.02,710.5H354.56V730.65H353.02ZM358.56,710.5H360.1V730.65H358.56ZM361.34,710.5H362.87V730.65H361.34ZM436.17,710.5H437.71V730.65H436.17ZM246.31,730.5H247.85V750.45H246.31ZM256.01,730.5H257.55V750.45H256.01ZM261.56,730.5H264.48V750.45H261.56ZM272.64,730.5H274.18V750.45H272.64ZM276.8,730.5H278.33V750.45H276.8ZM279.57,730.5H281.11V750.45H279.57ZM297.59,730.5H299.12V750.45H297.59ZM300.36,730.5H303.28V750.45H300.36ZM325.3,730.5H328.23V750.45H325.3ZM341.93,730.5H343.47V750.45H341.93ZM347.48,730.5H349.01V750.45H347.48ZM351.63,730.5H353.17V750.45H351.63ZM354.41,730.5H360.1V750.45H354.41ZM362.72,730.5H365.64V750.45H362.72ZM426.47,730.5H428V750.45H426.47ZM242.15,750.3H243.69V769.65H242.15ZM282.34,750.3H285.26V769.65H282.34ZM305.9,750.3H307.44V769.65H305.9ZM312.83,750.3H314.37V769.65H312.83ZM328.08,750.3H329.61V769.65H328.08ZM357.18,750.3H358.71V769.65H357.18ZM127.13,769.5H128.67V787.15H127.13ZM174.25,769.5H175.78V787.15H174.25ZM233.84,769.5H235.37V787.15H233.84ZM250.47,769.5H252V787.15H250.47ZM260.17,769.5H263.09V787.15H260.17ZM264.33,769.5H265.86V787.15H264.33ZM278.19,769.5H279.72V787.15H278.19ZM280.96,769.5H282.49V787.15H280.96ZM287.89,769.5H289.42V787.15H287.89ZM298.97,769.5H301.89V787.15H298.97ZM303.13,769.5H304.67V787.15H303.13ZM305.9,769.5H307.44V787.15H305.9ZM308.67,769.5H310.21V787.15H308.67ZM314.22,769.5H315.75V787.15H314.22ZM346.09,769.5H347.63V787.15H346.09ZM398.75,769.5H400.29V787.15H398.75ZM138.22,787H139.75V807.95H138.22ZM140.99,787H142.52V807.95H140.99ZM218.59,787H220.13V807.95H218.59ZM229.68,787H231.22V807.95H229.68ZM242.15,787H243.69V807.95H242.15ZM250.47,787H252V807.95H250.47ZM265.71,787H267.25V807.95H265.71ZM283.73,787H286.65V807.95H283.73ZM304.52,787H306.05V807.95H304.52ZM354.41,787H355.94V807.95H354.41ZM430.63,787H432.16V807.95H430.63ZM128.52,807.8H130.05V827.55H128.52ZM164.55,807.8H166.08V827.55H164.55ZM235.22,807.8H236.76V827.55H235.22ZM276.8,807.8H278.33V827.55H276.8ZM282.34,807.8H283.88V827.55H282.34ZM285.11,807.8H286.65V827.55H285.11ZM292.04,807.8H293.58V827.55H292.04ZM364.11,807.8H365.64V827.55H364.11ZM425.08,807.8H426.62V827.55H425.08ZM140.99,827.4H142.52V844.35H140.99ZM152.07,827.4H153.61V844.35H152.07ZM160.39,827.4H161.93V844.35H160.39ZM170.09,827.4H171.63V844.35H170.09ZM224.14,827.4H225.67V844.35H224.14ZM236.61,827.4H238.15V844.35H236.61ZM250.47,827.4H252V844.35H250.47ZM276.8,827.4H278.33V844.35H276.8ZM289.27,827.4H290.81V844.35H289.27ZM297.59,827.4H299.12V844.35H297.59ZM325.3,827.4H326.84V844.35H325.3ZM329.46,827.4H331V844.35H329.46ZM333.62,827.4H335.15V844.35H333.62ZM346.09,827.4H347.63V844.35H346.09ZM146.53,844.2H148.07V863.85H146.53ZM215.82,844.2H217.36V863.85H215.82ZM228.3,844.2H229.83V863.85H228.3ZM243.54,844.2H245.08V863.85H243.54ZM247.7,844.2H249.23V863.85H247.7ZM286.5,844.2H288.04V863.85H286.5ZM307.29,844.2H308.82V863.85H307.29ZM316.99,844.2H318.52V863.85H316.99ZM346.09,844.2H347.63V863.85H346.09ZM185.33,863.7H186.87V883.15H185.33ZM210.28,863.7H211.82V883.15H210.28ZM225.52,863.7H227.06V883.15H225.52ZM228.3,863.7H229.83V883.15H228.3ZM236.61,863.7H238.15V883.15H236.61ZM242.15,863.7H243.69V883.15H242.15ZM246.31,863.7H249.23V883.15H246.31ZM280.96,863.7H282.49V883.15H280.96ZM292.04,863.7H293.58V883.15H292.04ZM310.06,863.7H311.6V883.15H310.06ZM332.23,863.7H333.77V883.15H332.23ZM343.32,863.7H344.86V883.15H343.32ZM366.88,863.7H368.41V883.15H366.88ZM379.35,863.7H380.89V883.15H379.35ZM390.44,863.7H391.97V883.15H390.44ZM408.45,863.7H409.99V883.15H408.45ZM201.96,883H203.5V902.15H201.96ZM269.87,883H272.79V902.15H269.87ZM282.34,883H283.88V902.15H282.34ZM290.66,883H296.35V902.15H290.66ZM297.59,883H299.12V902.15H297.59ZM300.36,883H301.89V902.15H300.36ZM348.86,883H350.4V902.15H348.86ZM358.56,883H360.1V902.15H358.56ZM373.81,883H375.34V902.15H373.81ZM379.35,883H380.89V902.15H379.35ZM138.22,902H139.75V921.35H138.22ZM225.52,902H227.06V921.35H225.52ZM229.68,902H231.22V921.35H229.68ZM240.77,902H242.3V921.35H240.77ZM267.1,902H268.63V921.35H267.1ZM276.8,902H278.33V921.35H276.8ZM311.45,902H312.98V921.35H311.45ZM314.22,902H315.75V921.35H314.22ZM359.95,902H361.49V921.35H359.95ZM362.72,902H364.26V921.35H362.72ZM375.19,902H376.73V921.35H375.19ZM164.55,921.2H166.08V940.65H164.55ZM218.59,921.2H220.13V940.65H218.59ZM231.07,921.2H232.6V940.65H231.07ZM304.52,921.2H306.05V940.65H304.52ZM310.06,921.2H311.6V940.65H310.06ZM316.99,921.2H318.52V940.65H316.99ZM348.86,921.2H350.4V940.65H348.86ZM364.11,921.2H365.64V940.65H364.11ZM379.35,921.2H380.89V940.65H379.35ZM195.04,940.5H196.57V959.95H195.04ZM229.68,940.5H232.6V959.95H229.68ZM236.61,940.5H238.15V959.95H236.61ZM272.64,940.5H274.18V959.95H272.64ZM276.8,940.5H279.72V959.95H276.8ZM296.2,940.5H297.74V959.95H296.2ZM314.22,940.5H315.75V959.95H314.22ZM347.48,940.5H350.4V959.95H347.48ZM354.41,940.5H355.94V959.95H354.41ZM362.72,940.5H364.26V959.95H362.72ZM365.49,940.5H367.03V959.95H365.49ZM379.35,940.5H380.89V959.95H379.35ZM215.82,959.8H217.36V978.75H215.82ZM231.07,959.8H232.6V978.75H231.07ZM260.17,959.8H261.7V978.75H260.17ZM269.87,959.8H271.41V978.75H269.87ZM319.76,959.8H321.3V978.75H319.76ZM322.53,959.8H324.07V978.75H322.53ZM325.3,959.8H326.84V978.75H325.3ZM350.25,959.8H351.78V978.75H350.25ZM353.02,959.8H354.56V978.75H353.02ZM358.56,959.8H360.1V978.75H358.56ZM373.81,959.8H375.34V978.75H373.81ZM153.46,978.6H155V997.75H153.46ZM189.49,978.6H191.03V997.75H189.49ZM253.24,978.6H254.78V997.75H253.24ZM261.56,978.6H264.48V997.75H261.56ZM265.71,978.6H267.25V997.75H265.71ZM279.57,978.6H281.11V997.75H279.57ZM312.83,978.6H314.37V997.75H312.83ZM318.37,978.6H319.91V997.75H318.37ZM325.3,978.6H328.23V997.75H325.3ZM329.46,978.6H331V997.75H329.46ZM376.58,978.6H378.12V997.75H376.58ZM192.26,997.6H193.8V1017.35H192.26ZM208.89,997.6H210.43V1017.35H208.89ZM214.44,997.6H215.97V1017.35H214.44ZM218.59,997.6H220.13V1017.35H218.59ZM224.14,997.6H225.67V1017.35H224.14ZM262.94,997.6H264.48V1017.35H262.94ZM275.41,997.6H276.95V1017.35H275.41ZM279.57,997.6H281.11V1017.35H279.57ZM300.36,997.6H301.89V1017.35H300.36ZM316.99,997.6H318.52V1017.35H316.99ZM361.34,997.6H362.87V1017.35H361.34ZM380.74,997.6H382.27V1017.35H380.74ZM218.59,1017.2H220.13V1027.15H218.59ZM244.93,1017.2H246.46V1027.15H244.93ZM282.34,1017.2H283.88V1027.15H282.34ZM366.88,1017.2H369.8V1027.15H366.88ZM377.97,1017.2H379.5V1027.15H377.97ZM387.67,1017.2H390.59V1027.15H387.67ZM444.49,1017.2H446.02V1027.15H444.49Z"/>
<path fill="#0e91d2" d="M197.81,528H199.34V538.15H197.81ZM200.58,528H202.11V538.15H200.58ZM286.5,528H288.04V538.15H286.5ZM301.74,528H303.28V538.15H301.74ZM330.85,528H332.38V538.15H330.85ZM333.62,528H335.15V538.15H333.62ZM341.93,528H343.47V538.15H341.93ZM192.26,538H193.8V558.45H192.26ZM196.42,538H199.34V558.45H196.42ZM213.05,538H214.59V558.45H213.05ZM217.21,538H218.74V558.45H217.21ZM232.45,538H233.99V558.45H232.45ZM243.54,538H245.08V558.45H243.54ZM256.01,538H257.55V558.45H256.01ZM267.1,538H268.63V558.45H267.1ZM296.2,538H297.74V558.45H296.2ZM350.25,538H351.78V558.45H350.25ZM371.04,538H372.57V558.45H371.04ZM164.55,558.3H166.08V578.75H164.55ZM183.95,558.3H185.48V578.75H183.95ZM190.88,558.3H192.41V578.75H190.88ZM204.74,558.3H206.27V578.75H204.74ZM247.7,558.3H249.23V578.75H247.7ZM285.11,558.3H286.65V578.75H285.11ZM289.27,558.3H290.81V578.75H289.27ZM293.43,558.3H294.96V578.75H293.43ZM301.74,558.3H304.67V578.75H301.74ZM189.49,578.6H191.03V599.45H189.49ZM204.74,578.6H206.27V599.45H204.74ZM231.07,578.6H232.6V599.45H231.07ZM260.17,578.6H261.7V599.45H260.17ZM267.1,578.6H268.63V599.45H267.1ZM269.87,578.6H271.41V599.45H269.87ZM272.64,578.6H274.18V599.45H272.64ZM294.81,578.6H296.35V599.45H294.81ZM332.23,578.6H333.77V599.45H332.23ZM135.44,599.3H136.98V615.15H135.44ZM253.24,599.3H256.16V615.15H253.24ZM269.87,599.3H271.41V615.15H269.87ZM293.43,599.3H294.96V615.15H293.43ZM297.59,599.3H299.12V615.15H297.59ZM348.86,599.3H350.4V615.15H348.86ZM357.18,599.3H358.71V615.15H357.18ZM384.89,599.3H386.43V615.15H384.89ZM172.86,615H174.4V634.65H172.86ZM175.63,615H177.17V634.65H175.63ZM196.42,615H199.34V634.65H196.42ZM240.77,615H242.3V634.65H240.77ZM258.78,615H260.32V634.65H258.78ZM275.41,615H276.95V634.65H275.41ZM300.36,615H301.89V634.65H300.36ZM328.08,615H329.61V634.65H328.08ZM332.23,615H333.77V634.65H332.23ZM359.95,615H362.87V634.65H359.95ZM365.49,615H367.03V634.65H365.49ZM372.42,615H373.96V634.65H372.42ZM168.7,634.5H171.63V653.85H168.7ZM265.71,634.5H267.25V653.85H265.71ZM274.03,634.5H275.56V653.85H274.03ZM286.5,634.5H289.42V653.85H286.5ZM353.02,634.5H354.56V653.85H353.02ZM358.56,634.5H360.1V653.85H358.56ZM365.49,634.5H367.03V653.85H365.49ZM373.81,634.5H375.34V653.85H373.81ZM404.3,634.5H407.22V653.85H404.3ZM208.89,653.7H210.43V673.05H208.89ZM251.85,653.7H253.39V673.05H251.85ZM265.71,653.7H268.63V673.05H265.71ZM274.03,653.7H275.56V673.05H274.03ZM279.57,653.7H281.11V673.05H279.57ZM333.62,653.7H337.93V673.05H333.62ZM346.09,653.7H347.63V673.05H346.09ZM351.63,653.7H353.17V673.05H351.63ZM386.28,653.7H387.82V673.05H386.28ZM250.47,672.9H252V691.45H250.47ZM253.24,672.9H254.78V691.45H253.24ZM278.19,672.9H281.11V691.45H278.19ZM293.43,672.9H294.96V691.45H293.43ZM307.29,672.9H310.21V691.45H307.29ZM328.08,672.9H329.61V691.45H328.08ZM336.39,672.9H337.93V691.45H336.39ZM394.6,672.9H396.13V691.45H394.6ZM157.62,691.3H159.15V710.65H157.62ZM182.56,691.3H184.1V710.65H182.56ZM186.72,691.3H188.26V710.65H186.72ZM246.31,691.3H247.85V710.65H246.31ZM254.63,691.3H256.16V710.65H254.63ZM262.94,691.3H264.48V710.65H262.94ZM282.34,691.3H283.88V710.65H282.34ZM285.11,691.3H286.65V710.65H285.11ZM297.59,691.3H299.12V710.65H297.59ZM319.76,691.3H321.3V710.65H319.76ZM340.55,691.3H344.86V710.65H340.55ZM359.95,691.3H361.49V710.65H359.95ZM404.3,691.3H405.83V710.65H404.3ZM124.36,710.5H125.89V730.65H124.36ZM152.07,710.5H153.61V730.65H152.07ZM254.63,710.5H256.16V730.65H254.63ZM274.03,710.5H275.56V730.65H274.03ZM305.9,710.5H307.44V730.65H305.9ZM314.22,710.5H315.75V730.65H314.22ZM325.3,710.5H328.23V730.65H325.3ZM340.55,710.5H343.47V730.65H340.55ZM346.09,710.5H347.63V730.65H346.09ZM362.72,710.5H364.26V730.65H362.72ZM142.37,730.5H143.91V750.45H142.37ZM150.69,730.5H152.22V750.45H150.69ZM181.18,730.5H182.71V750.45H181.18ZM269.87,730.5H271.41V750.45H269.87ZM280.96,730.5H282.49V750.45H280.96ZM283.73,730.5H285.26V750.45H283.73ZM286.5,730.5H288.04V750.45H286.5ZM289.27,730.5H290.81V750.45H289.27ZM308.67,730.5H310.21V750.45H308.67ZM311.45,730.5H312.98V750.45H311.45ZM318.37,730.5H321.3V750.45H318.37ZM330.85,730.5H332.38V750.45H330.85ZM333.62,730.5H335.15V750.45H333.62ZM344.71,730.5H347.63V750.45H344.71ZM361.34,730.5H362.87V750.45H361.34ZM365.49,730.5H367.03V750.45H365.49ZM382.12,730.5H383.66V750.45H382.12ZM412.61,730.5H414.15V750.45H412.61ZM146.53,750.3H148.07V769.65H146.53ZM185.33,750.3H186.87V769.65H185.33ZM260.17,750.3H261.7V769.65H260.17ZM267.1,750.3H271.41V769.65H267.1ZM289.27,750.3H292.19V769.65H289.27ZM308.67,750.3H310.21V769.65H308.67ZM315.6,750.3H317.14V769.65H315.6ZM319.76,750.3H321.3V769.65H319.76ZM329.46,750.3H331V769.65H329.46ZM347.48,750.3H349.01V769.65H347.48ZM366.88,750.3H368.41V769.65H366.88ZM146.53,769.5H148.07V787.15H146.53ZM167.32,769.5H168.85V787.15H167.32ZM172.86,769.5H174.4V787.15H172.86ZM181.18,769.5H182.71V787.15H181.18ZM229.68,769.5H231.22V787.15H229.68ZM249.08,769.5H250.62V787.15H249.08ZM262.94,769.5H264.48V787.15H262.94ZM269.87,769.5H271.41V787.15H269.87ZM294.81,769.5H296.35V787.15H294.81ZM310.06,769.5H311.6V787.15H310.06ZM319.76,769.5H322.68V787.15H319.76ZM323.92,769.5H325.45V787.15H323.92ZM339.16,769.5H340.7V787.15H339.16ZM341.93,769.5H346.24V787.15H341.93ZM389.05,769.5H390.59V787.15H389.05ZM429.24,769.5H430.78V787.15H429.24ZM128.52,787H130.05V807.95H128.52ZM139.6,787H141.14V807.95H139.6ZM214.44,787H215.97V807.95H214.44ZM262.94,787H265.86V807.95H262.94ZM293.43,787H294.96V807.95H293.43ZM312.83,787H314.37V807.95H312.83ZM325.3,787H326.84V807.95H325.3ZM139.6,807.8H141.14V827.55H139.6ZM160.39,807.8H161.93V827.55H160.39ZM163.16,807.8H164.7V827.55H163.16ZM264.33,807.8H265.86V827.55H264.33ZM271.26,807.8H272.79V827.55H271.26ZM326.69,807.8H329.61V827.55H326.69ZM339.16,807.8H340.7V827.55H339.16ZM346.09,807.8H347.63V827.55H346.09ZM355.79,807.8H357.33V827.55H355.79ZM366.88,807.8H368.41V827.55H366.88ZM122.97,827.4H124.51V844.35H122.97ZM153.46,827.4H155V844.35H153.46ZM260.17,827.4H261.7V844.35H260.17ZM269.87,827.4H271.41V844.35H269.87ZM286.5,827.4H288.04V844.35H286.5ZM292.04,827.4H294.96V844.35H292.04ZM300.36,827.4H303.28V844.35H300.36ZM310.06,827.4H311.6V844.35H310.06ZM348.86,827.4H350.4V844.35H348.86ZM355.79,827.4H357.33V844.35H355.79ZM361.34,827.4H362.87V844.35H361.34ZM371.04,827.4H372.57V844.35H371.04ZM238,844.2H239.53V863.85H238ZM250.47,844.2H252V863.85H250.47ZM254.63,844.2H256.16V863.85H254.63ZM285.11,844.2H286.65V863.85H285.11ZM298.97,844.2H301.89V863.85H298.97ZM304.52,844.2H306.05V863.85H304.52ZM362.72,844.2H365.64V863.85H362.72ZM366.88,844.2H368.41V863.85H366.88ZM125.74,863.7H127.28V883.15H125.74ZM224.14,863.7H225.67V883.15H224.14ZM231.07,863.7H232.6V883.15H231.07ZM243.54,863.7H245.08V883.15H243.54ZM251.85,863.7H253.39V883.15H251.85ZM272.64,863.7H274.18V883.15H272.64ZM278.19,863.7H279.72V883.15H278.19ZM282.34,863.7H283.88V883.15H282.34ZM304.52,863.7H306.05V883.15H304.52ZM308.67,863.7H310.21V883.15H308.67ZM330.85,863.7H332.38V883.15H330.85ZM337.78,863.7H339.31V883.15H337.78ZM354.41,863.7H355.94V883.15H354.41ZM357.18,863.7H360.1V883.15H357.18ZM361.34,863.7H362.87V883.15H361.34ZM365.49,863.7H367.03V883.15H365.49ZM222.75,883H224.29V902.15H222.75ZM232.45,883H233.99V902.15H232.45ZM239.38,883H242.3V902.15H239.38ZM272.64,883H274.18V902.15H272.64ZM296.2,883H297.74V902.15H296.2ZM303.13,883H304.67V902.15H303.13ZM312.83,883H314.37V902.15H312.83ZM346.09,883H347.63V902.15H346.09ZM369.65,883H371.19V902.15H369.65ZM448.64,883H450.18V902.15H448.64ZM232.45,902H233.99V921.35H232.45ZM238,902H239.53V921.35H238ZM264.33,902H265.86V921.35H264.33ZM274.03,902H276.95V921.35H274.03ZM278.19,902H279.72V921.35H278.19ZM282.34,902H283.88V921.35H282.34ZM293.43,902H294.96V921.35H293.43ZM303.13,902H306.05V921.35H303.13ZM308.67,902H310.21V921.35H308.67ZM315.6,902H317.14V921.35H315.6ZM339.16,902H340.7V921.35H339.16ZM350.25,902H351.78V921.35H350.25ZM365.49,902H367.03V921.35H365.49ZM369.65,902H371.19V921.35H369.65ZM150.69,921.2H152.22V940.65H150.69ZM271.26,921.2H274.18V940.65H271.26ZM278.19,921.2H281.11V940.65H278.19ZM293.43,921.2H294.96V940.65H293.43ZM318.37,921.2H319.91V940.65H318.37ZM321.15,921.2H322.68V940.65H321.15ZM340.55,921.2H342.08V940.65H340.55ZM346.09,921.2H347.63V940.65H346.09ZM214.44,940.5H218.74V959.95H214.44ZM239.38,940.5H240.92V959.95H239.38ZM268.48,940.5H270.02V959.95H268.48ZM303.13,940.5H306.05V959.95H303.13ZM315.6,940.5H317.14V959.95H315.6ZM344.71,940.5H346.24V959.95H344.71ZM351.63,940.5H353.17V959.95H351.63ZM359.95,940.5H361.49V959.95H359.95ZM368.26,940.5H369.8V959.95H368.26ZM377.97,940.5H379.5V959.95H377.97ZM174.25,959.8H175.78V978.75H174.25ZM210.28,959.8H211.82V978.75H210.28ZM213.05,959.8H214.59V978.75H213.05ZM217.21,959.8H218.74V978.75H217.21ZM226.91,959.8H228.45V978.75H226.91ZM236.61,959.8H238.15V978.75H236.61ZM300.36,959.8H301.89V978.75H300.36ZM315.6,959.8H317.14V978.75H315.6ZM321.15,959.8H322.68V978.75H321.15ZM348.86,959.8H350.4V978.75H348.86ZM357.18,959.8H358.71V978.75H357.18ZM369.65,959.8H371.19V978.75H369.65ZM372.42,959.8H373.96V978.75H372.42ZM382.12,959.8H383.66V978.75H382.12ZM411.23,959.8H412.76V978.75H411.23ZM121.59,978.6H123.12V997.75H121.59ZM218.59,978.6H220.13V997.75H218.59ZM222.75,978.6H224.29V997.75H222.75ZM226.91,978.6H228.45V997.75H226.91ZM229.68,978.6H231.22V997.75H229.68ZM289.27,978.6H290.81V997.75H289.27ZM294.81,978.6H296.35V997.75H294.81ZM314.22,978.6H315.75V997.75H314.22ZM319.76,978.6H321.3V997.75H319.76ZM328.08,978.6H329.61V997.75H328.08ZM371.04,978.6H372.57V997.75H371.04ZM375.19,978.6H376.73V997.75H375.19ZM204.74,997.6H206.27V1017.35H204.74ZM207.51,997.6H209.04V1017.35H207.51ZM210.28,997.6H213.2V1017.35H210.28ZM222.75,997.6H224.29V1017.35H222.75ZM246.31,997.6H247.85V1017.35H246.31ZM251.85,997.6H253.39V1017.35H251.85ZM318.37,997.6H319.91V1017.35H318.37ZM322.53,997.6H324.07V1017.35H322.53ZM368.26,997.6H369.8V1017.35H368.26ZM383.51,997.6H385.04V1017.35H383.51ZM391.82,997.6H393.36V1017.35H391.82ZM203.35,1017.2H204.89V1027.15H203.35ZM219.98,1017.2H221.52V1027.15H219.98ZM243.54,1017.2H245.08V1027.15H243.54ZM341.93,1017.2H343.47V1027.15H341.93Z"/>
<path fill="#079ccf" d="M214.44,528H215.97V538.15H214.44ZM217.21,528H218.74V538.15H217.21ZM268.48,528H270.02V538.15H268.48ZM289.27,528H290.81V538.15H289.27ZM319.76,528H321.3V538.15H319.76ZM346.09,528H347.63V538.15H346.09ZM371.04,528H372.57V538.15H371.04ZM269.87,538H271.41V558.45H269.87ZM286.5,538H288.04V558.45H286.5ZM333.62,538H335.15V558.45H333.62ZM340.55,538H342.08V558.45H340.55ZM372.42,538H373.96V558.45H372.42ZM265.71,558.3H267.25V578.75H265.71ZM271.26,558.3H272.79V578.75H271.26ZM298.97,558.3H301.89V578.75H298.97ZM325.3,558.3H326.84V578.75H325.3ZM330.85,558.3H332.38V578.75H330.85ZM333.62,558.3H335.15V578.75H333.62ZM343.32,558.3H344.86V578.75H343.32ZM268.48,578.6H270.02V599.45H268.48ZM285.11,578.6H286.65V599.45H285.11ZM287.89,578.6H289.42V599.45H287.89ZM290.66,578.6H292.19V599.45H290.66ZM297.59,578.6H299.12V599.45H297.59ZM300.36,578.6H301.89V599.45H300.36ZM335,578.6H336.54V599.45H335ZM337.78,578.6H339.31V599.45H337.78ZM359.95,578.6H361.49V599.45H359.95ZM178.41,599.3H181.33V615.15H178.41ZM204.74,599.3H206.27V615.15H204.74ZM260.17,599.3H261.7V615.15H260.17ZM264.33,599.3H265.86V615.15H264.33ZM272.64,599.3H274.18V615.15H272.64ZM292.04,599.3H293.58V615.15H292.04ZM296.2,599.3H297.74V615.15H296.2ZM354.41,599.3H355.94V615.15H354.41ZM359.95,599.3H361.49V615.15H359.95ZM365.49,599.3H367.03V615.15H365.49ZM192.26,615H193.8V634.65H192.26ZM204.74,615H206.27V634.65H204.74ZM229.68,615H231.22V634.65H229.68ZM256.01,615H257.55V634.65H256.01ZM264.33,615H265.86V634.65H264.33ZM279.57,615H281.11V634.65H279.57ZM285.11,615H286.65V634.65H285.11ZM303.13,615H304.67V634.65H303.13ZM307.29,615H308.82V634.65H307.29ZM350.25,615H351.78V634.65H350.25ZM354.41,615H357.33V634.65H354.41ZM368.26,615H371.19V634.65H368.26ZM249.08,634.5H250.62V653.85H249.08ZM254.63,634.5H256.16V653.85H254.63ZM268.48,634.5H270.02V653.85H268.48ZM276.8,634.5H278.33V653.85H276.8ZM289.27,634.5H290.81V653.85H289.27ZM296.2,634.5H299.12V653.85H296.2ZM303.13,634.5H304.67V653.85H303.13ZM328.08,634.5H332.38V653.85H328.08ZM335,634.5H336.54V653.85H335ZM337.78,634.5H339.31V653.85H337.78ZM341.93,634.5H343.47V653.85H341.93ZM346.09,634.5H347.63V653.85H346.09ZM350.25,634.5H353.17V653.85H350.25ZM391.82,634.5H393.36V653.85H391.82ZM167.32,653.7H168.85V673.05H167.32ZM282.34,653.7H283.88V673.05H282.34ZM287.89,653.7H289.42V673.05H287.89ZM301.74,653.7H303.28V673.05H301.74ZM307.29,653.7H308.82V673.05H307.29ZM316.99,653.7H318.52V673.05H316.99ZM326.69,653.7H328.23V673.05H326.69ZM339.16,653.7H340.7V673.05H339.16ZM350.25,653.7H351.78V673.05H350.25ZM358.56,653.7H361.49V673.05H358.56ZM393.21,653.7H394.75V673.05H393.21ZM157.62,672.9H159.15V691.45H157.62ZM163.16,672.9H164.7V691.45H163.16ZM185.33,672.9H186.87V691.45H185.33ZM267.1,672.9H268.63V691.45H267.1ZM269.87,672.9H271.41V691.45H269.87ZM276.8,672.9H278.33V691.45H276.8ZM283.73,672.9H285.26V691.45H283.73ZM289.27,672.9H290.81V691.45H289.27ZM335,672.9H336.54V691.45H335ZM346.09,672.9H349.01V691.45H346.09ZM357.18,672.9H358.71V691.45H357.18ZM361.34,672.9H362.87V691.45H361.34ZM390.44,672.9H391.97V691.45H390.44ZM161.78,691.3H163.31V710.65H161.78ZM265.71,691.3H267.25V710.65H265.71ZM268.48,691.3H270.02V710.65H268.48ZM280.96,691.3H282.49V710.65H280.96ZM286.5,691.3H289.42V710.65H286.5ZM293.43,691.3H294.96V710.65H293.43ZM296.2,691.3H297.74V710.65H296.2ZM307.29,691.3H308.82V710.65H307.29ZM316.99,691.3H318.52V710.65H316.99ZM322.53,691.3H325.45V710.65H322.53ZM330.85,691.3H332.38V710.65H330.85ZM357.18,691.3H360.1V710.65H357.18ZM402.91,691.3H404.45V710.65H402.91ZM142.37,710.5H143.91V730.65H142.37ZM153.46,710.5H155V730.65H153.46ZM175.63,710.5H177.17V730.65H175.63ZM249.08,710.5H250.62V730.65H249.08ZM268.48,710.5H270.02V730.65H268.48ZM276.8,710.5H278.33V730.65H276.8ZM279.57,710.5H281.11V730.65H279.57ZM293.43,710.5H294.96V730.65H293.43ZM335,710.5H336.54V730.65H335ZM343.32,710.5H346.24V730.65H343.32ZM357.18,710.5H358.71V730.65H357.18ZM364.11,710.5H365.64V730.65H364.11ZM140.99,730.5H142.52V750.45H140.99ZM172.86,730.5H174.4V750.45H172.86ZM271.26,730.5H272.79V750.45H271.26ZM287.89,730.5H289.42V750.45H287.89ZM312.83,730.5H315.75V750.45H312.83ZM328.08,730.5H329.61V750.45H328.08ZM350.25,730.5H351.78V750.45H350.25ZM414,730.5H415.53V750.45H414ZM145.15,750.3H146.68V769.65H145.15ZM147.92,750.3H149.45V769.65H147.92ZM150.69,750.3H152.22V769.65H150.69ZM171.48,750.3H174.4V769.65H171.48ZM175.63,750.3H177.17V769.65H175.63ZM292.04,750.3H293.58V769.65H292.04ZM316.99,750.3H319.91V769.65H316.99ZM337.78,750.3H339.31V769.65H337.78ZM354.41,750.3H355.94V769.65H354.41ZM432.01,750.3H433.55V769.65H432.01ZM147.92,769.5H149.45V787.15H147.92ZM168.7,769.5H170.24V787.15H168.7ZM228.3,769.5H229.83V787.15H228.3ZM236.61,769.5H238.15V787.15H236.61ZM254.63,769.5H256.16V787.15H254.63ZM282.34,769.5H283.88V787.15H282.34ZM336.39,769.5H337.93V787.15H336.39ZM348.86,769.5H350.4V787.15H348.86ZM135.44,787H136.98V807.95H135.44ZM160.39,787H161.93V807.95H160.39ZM164.55,787H167.47V807.95H164.55ZM274.03,787H275.56V807.95H274.03ZM282.34,787H283.88V807.95H282.34ZM292.04,787H293.58V807.95H292.04ZM301.74,787H303.28V807.95H301.74ZM318.37,787H319.91V807.95H318.37ZM330.85,787H332.38V807.95H330.85ZM350.25,787H353.17V807.95H350.25ZM365.49,787H367.03V807.95H365.49ZM135.44,807.8H136.98V827.55H135.44ZM157.62,807.8H160.54V827.55H157.62ZM260.17,807.8H261.7V827.55H260.17ZM268.48,807.8H270.02V827.55H268.48ZM298.97,807.8H300.51V827.55H298.97ZM321.15,807.8H322.68V827.55H321.15ZM362.72,807.8H364.26V827.55H362.72ZM441.71,807.8H443.25V827.55H441.71ZM143.76,827.4H145.3V844.35H143.76ZM150.69,827.4H152.22V844.35H150.69ZM238,827.4H239.53V844.35H238ZM264.33,827.4H267.25V844.35H264.33ZM296.2,827.4H297.74V844.35H296.2ZM332.23,827.4H333.77V844.35H332.23ZM353.02,827.4H354.56V844.35H353.02ZM358.56,827.4H360.1V844.35H358.56ZM419.54,827.4H421.08V844.35H419.54ZM226.91,844.2H228.45V863.85H226.91ZM253.24,844.2H254.78V863.85H253.24ZM275.41,844.2H278.33V863.85H275.41ZM312.83,844.2H315.75V863.85H312.83ZM337.78,844.2H339.31V863.85H337.78ZM343.32,844.2H346.24V863.85H343.32ZM365.49,844.2H367.03V863.85H365.49ZM249.08,863.7H250.62V883.15H249.08ZM269.87,863.7H271.41V883.15H269.87ZM290.66,863.7H292.19V883.15H290.66ZM296.2,863.7H297.74V883.15H296.2ZM300.36,863.7H301.89V883.15H300.36ZM305.9,863.7H307.44V883.15H305.9ZM328.08,863.7H329.61V883.15H328.08ZM339.16,863.7H342.08V883.15H339.16ZM347.48,863.7H349.01V883.15H347.48ZM359.95,863.7H361.49V883.15H359.95ZM368.26,863.7H369.8V883.15H368.26ZM221.37,883H222.9V902.15H221.37ZM311.45,883H312.98V902.15H311.45ZM336.39,883H337.93V902.15H336.39ZM357.18,883H358.71V902.15H357.18ZM207.51,902H209.04V921.35H207.51ZM218.59,902H221.52V921.35H218.59ZM235.22,902H236.76V921.35H235.22ZM239.38,902H240.92V921.35H239.38ZM272.64,902H274.18V921.35H272.64ZM347.48,902H349.01V921.35H347.48ZM371.04,902H372.57V921.35H371.04ZM219.98,921.2H221.52V940.65H219.98ZM226.91,921.2H228.45V940.65H226.91ZM232.45,921.2H233.99V940.65H232.45ZM239.38,921.2H240.92V940.65H239.38ZM268.48,921.2H270.02V940.65H268.48ZM341.93,921.2H343.47V940.65H341.93ZM371.04,921.2H372.57V940.65H371.04ZM221.37,940.5H222.9V959.95H221.37ZM264.33,940.5H265.86V959.95H264.33ZM318.37,940.5H319.91V959.95H318.37ZM322.53,940.5H324.07V959.95H322.53ZM373.81,940.5H375.34V959.95H373.81ZM376.58,940.5H378.12V959.95H376.58ZM380.74,940.5H382.27V959.95H380.74ZM221.37,959.8H222.9V978.75H221.37ZM225.52,959.8H227.06V978.75H225.52ZM233.84,959.8H235.37V978.75H233.84ZM256.01,959.8H260.32V978.75H256.01ZM272.64,959.8H274.18V978.75H272.64ZM310.06,959.8H311.6V978.75H310.06ZM326.69,959.8H328.23V978.75H326.69ZM359.95,959.8H362.87V978.75H359.95ZM371.04,959.8H372.57V978.75H371.04ZM376.58,959.8H378.12V978.75H376.58ZM221.37,978.6H222.9V997.75H221.37ZM224.14,978.6H225.67V997.75H224.14ZM250.47,978.6H252V997.75H250.47ZM321.15,978.6H322.68V997.75H321.15ZM332.23,978.6H333.77V997.75H332.23ZM351.63,978.6H353.17V997.75H351.63ZM354.41,978.6H355.94V997.75H354.41ZM377.97,978.6H379.5V997.75H377.97ZM382.12,978.6H383.66V997.75H382.12ZM244.93,997.6H246.46V1017.35H244.93ZM249.08,997.6H250.62V1017.35H249.08ZM253.24,997.6H254.78V1017.35H253.24ZM261.56,997.6H263.09V1017.35H261.56ZM329.46,997.6H331V1017.35H329.46ZM332.23,997.6H333.77V1017.35H332.23ZM357.18,997.6H358.71V1017.35H357.18ZM364.11,997.6H368.41V1017.35H364.11ZM379.35,997.6H380.89V1017.35H379.35ZM221.37,1017.2H222.9V1027.15H221.37ZM260.17,1017.2H261.7V1027.15H260.17ZM280.96,1017.2H282.49V1027.15H280.96ZM382.12,1017.2H383.66V1027.15H382.12Z"/>
<path fill="#06a5c9" d="M120.2,528H121.74V538.15H120.2ZM201.96,528H203.5V538.15H201.96ZM278.19,528H279.72V538.15H278.19ZM282.34,528H283.88V538.15H282.34ZM292.04,528H294.96V538.15H292.04ZM296.2,528H297.74V538.15H296.2ZM300.36,528H301.89V538.15H300.36ZM312.83,528H314.37V538.15H312.83ZM332.23,528H333.77V538.15H332.23ZM337.78,528H342.08V538.15H337.78ZM199.19,538H200.73V558.45H199.19ZM233.84,538H235.37V558.45H233.84ZM244.93,538H246.46V558.45H244.93ZM271.26,538H272.79V558.45H271.26ZM287.89,538H289.42V558.45H287.89ZM290.66,538H292.19V558.45H290.66ZM326.69,538H328.23V558.45H326.69ZM369.65,538H371.19V558.45H369.65ZM203.35,558.3H204.89V578.75H203.35ZM206.12,558.3H207.66V578.75H206.12ZM294.81,558.3H296.35V578.75H294.81ZM332.23,558.3H333.77V578.75H332.23ZM357.18,558.3H358.71V578.75H357.18ZM361.34,558.3H362.87V578.75H361.34ZM203.35,578.6H204.89V599.45H203.35ZM264.33,578.6H265.86V599.45H264.33ZM275.41,578.6H276.95V599.45H275.41ZM333.62,578.6H335.15V599.45H333.62ZM339.16,578.6H340.7V599.45H339.16ZM348.86,578.6H350.4V599.45H348.86ZM354.41,578.6H355.94V599.45H354.41ZM384.89,578.6H386.43V599.45H384.89ZM175.63,599.3H178.56V615.15H175.63ZM183.95,599.3H185.48V615.15H183.95ZM261.56,599.3H263.09V615.15H261.56ZM267.1,599.3H268.63V615.15H267.1ZM289.27,599.3H292.19V615.15H289.27ZM303.13,599.3H304.67V615.15H303.13ZM305.9,599.3H307.44V615.15H305.9ZM314.22,599.3H315.75V615.15H314.22ZM319.76,599.3H321.3V615.15H319.76ZM328.08,599.3H329.61V615.15H328.08ZM336.39,599.3H337.93V615.15H336.39ZM350.25,599.3H354.56V615.15H350.25ZM366.88,599.3H368.41V615.15H366.88ZM174.25,615H175.78V634.65H174.25ZM177.02,615H178.56V634.65H177.02ZM251.85,615H253.39V634.65H251.85ZM268.48,615H271.41V634.65H268.48ZM276.8,615H278.33V634.65H276.8ZM294.81,615H297.74V634.65H294.81ZM304.52,615H306.05V634.65H304.52ZM325.3,615H326.84V634.65H325.3ZM330.85,615H332.38V634.65H330.85ZM337.78,615H339.31V634.65H337.78ZM347.48,615H349.01V634.65H347.48ZM358.56,615H360.1V634.65H358.56ZM371.04,615H372.57V634.65H371.04ZM373.81,615H375.34V634.65H373.81ZM174.25,634.5H175.78V653.85H174.25ZM204.74,634.5H206.27V653.85H204.74ZM247.7,634.5H249.23V653.85H247.7ZM261.56,634.5H264.48V653.85H261.56ZM294.81,634.5H296.35V653.85H294.81ZM336.39,634.5H337.93V653.85H336.39ZM339.16,634.5H340.7V653.85H339.16ZM354.41,634.5H357.33V653.85H354.41ZM359.95,634.5H361.49V653.85H359.95ZM371.04,634.5H372.57V653.85H371.04ZM390.44,634.5H391.97V653.85H390.44ZM393.21,634.5H394.75V653.85H393.21ZM164.55,653.7H166.08V673.05H164.55ZM171.48,653.7H173.01V673.05H171.48ZM186.72,653.7H189.64V673.05H186.72ZM275.41,653.7H276.95V673.05H275.41ZM294.81,653.7H296.35V673.05H294.81ZM308.67,653.7H311.6V673.05H308.67ZM319.76,653.7H322.68V673.05H319.76ZM323.92,653.7H325.45V673.05H323.92ZM328.08,653.7H329.61V673.05H328.08ZM344.71,653.7H346.24V673.05H344.71ZM257.4,672.9H258.93V691.45H257.4ZM260.17,672.9H263.09V691.45H260.17ZM265.71,672.9H267.25V691.45H265.71ZM280.96,672.9H283.88V691.45H280.96ZM315.6,672.9H317.14V691.45H315.6ZM321.15,672.9H322.68V691.45H321.15ZM325.3,672.9H326.84V691.45H325.3ZM337.78,672.9H339.31V691.45H337.78ZM341.93,672.9H343.47V691.45H341.93ZM348.86,672.9H350.4V691.45H348.86ZM359.95,672.9H361.49V691.45H359.95ZM178.41,691.3H179.94V710.65H178.41ZM256.01,691.3H257.55V710.65H256.01ZM292.04,691.3H293.58V710.65H292.04ZM304.52,691.3H306.05V710.65H304.52ZM308.67,691.3H310.21V710.65H308.67ZM328.08,691.3H331V710.65H328.08ZM346.09,691.3H349.01V710.65H346.09ZM261.56,710.5H263.09V730.65H261.56ZM285.11,710.5H286.65V730.65H285.11ZM307.29,710.5H308.82V730.65H307.29ZM315.6,710.5H317.14V730.65H315.6ZM319.76,710.5H322.68V730.65H319.76ZM328.08,710.5H331V730.65H328.08ZM333.62,710.5H335.15V730.65H333.62ZM265.71,730.5H267.25V750.45H265.71ZM278.19,730.5H279.72V750.45H278.19ZM316.99,730.5H318.52V750.45H316.99ZM340.55,730.5H342.08V750.45H340.55ZM271.26,750.3H272.79V769.65H271.26ZM280.96,750.3H282.49V769.65H280.96ZM321.15,750.3H322.68V769.65H321.15ZM353.02,750.3H354.56V769.65H353.02ZM131.29,769.5H132.82V787.15H131.29ZM318.37,769.5H319.91V787.15H318.37ZM340.55,769.5H342.08V787.15H340.55ZM298.97,787H300.51V807.95H298.97ZM311.45,787H312.98V807.95H311.45ZM353.02,787H354.56V807.95H353.02ZM357.18,787H358.71V807.95H357.18ZM427.86,787H429.39V807.95H427.86ZM136.83,807.8H139.75V827.55H136.83ZM145.15,807.8H146.68V827.55H145.15ZM256.01,807.8H257.55V827.55H256.01ZM325.3,807.8H326.84V827.55H325.3ZM330.85,807.8H332.38V827.55H330.85ZM171.48,827.4H173.01V844.35H171.48ZM303.13,827.4H304.67V844.35H303.13ZM369.65,827.4H371.19V844.35H369.65ZM229.68,844.2H231.22V863.85H229.68ZM233.84,844.2H236.76V863.85H233.84ZM274.03,844.2H275.56V863.85H274.03ZM301.74,844.2H303.28V863.85H301.74ZM308.67,844.2H310.21V863.85H308.67ZM329.46,844.2H331V863.85H329.46ZM347.48,844.2H349.01V863.85H347.48ZM358.56,844.2H360.1V863.85H358.56ZM371.04,844.2H372.57V863.85H371.04ZM200.58,863.7H202.11V883.15H200.58ZM229.68,863.7H231.22V883.15H229.68ZM240.77,863.7H242.3V883.15H240.77ZM294.81,863.7H296.35V883.15H294.81ZM329.46,863.7H331V883.15H329.46ZM364.11,863.7H365.64V883.15H364.11ZM219.98,883H221.52V902.15H219.98ZM233.84,883H236.76V902.15H233.84ZM238,883H239.53V902.15H238ZM244.93,883H246.46V902.15H244.93ZM301.74,883H303.28V902.15H301.74ZM339.16,883H340.7V902.15H339.16ZM359.95,883H361.49V902.15H359.95ZM362.72,883H364.26V902.15H362.72ZM221.37,902H222.9V921.35H221.37ZM233.84,902H235.37V921.35H233.84ZM268.48,902H270.02V921.35H268.48ZM316.99,902H318.52V921.35H316.99ZM341.93,902H343.47V921.35H341.93ZM364.11,902H365.64V921.35H364.11ZM366.88,902H368.41V921.35H366.88ZM372.42,902H373.96V921.35H372.42ZM204.74,921.2H206.27V940.65H204.74ZM236.61,921.2H238.15V940.65H236.61ZM260.17,921.2H264.48V940.65H260.17ZM319.76,921.2H321.3V940.65H319.76ZM323.92,921.2H326.84V940.65H323.92ZM343.32,921.2H346.24V940.65H343.32ZM222.75,940.5H224.29V959.95H222.75ZM228.3,940.5H229.83V959.95H228.3ZM238,940.5H239.53V959.95H238ZM256.01,940.5H258.93V959.95H256.01ZM346.09,940.5H347.63V959.95H346.09ZM372.42,940.5H373.96V959.95H372.42ZM375.19,940.5H376.73V959.95H375.19ZM214.44,959.8H215.97V978.75H214.44ZM222.75,959.8H224.29V978.75H222.75ZM271.26,959.8H272.79V978.75H271.26ZM314.22,959.8H315.75V978.75H314.22ZM323.92,959.8H325.45V978.75H323.92ZM328.08,959.8H329.61V978.75H328.08ZM380.74,959.8H382.27V978.75H380.74ZM210.28,978.6H211.82V997.75H210.28ZM215.82,978.6H218.74V997.75H215.82ZM231.07,978.6H232.6V997.75H231.07ZM244.93,978.6H246.46V997.75H244.93ZM355.79,978.6H357.33V997.75H355.79ZM250.47,997.6H252V1017.35H250.47ZM387.67,997.6H389.2V1017.35H387.67ZM204.74,1017.2H206.27V1027.15H204.74ZM213.05,1017.2H214.59V1027.15H213.05ZM215.82,1017.2H217.36V1027.15H215.82ZM251.85,1017.2H253.39V1027.15H251.85ZM330.85,1017.2H332.38V1027.15H330.85ZM335,1017.2H337.93V1027.15H335ZM340.55,1017.2H342.08V1027.15H340.55ZM386.28,1017.2H387.82V1027.15H386.28ZM391.82,1017.2H393.36V1027.15H391.82Z"/>
<path fill="#09abbf" d="M275.41,528H276.95V538.15H275.41ZM280.96,528H282.49V538.15H280.96ZM285.11,528H286.65V538.15H285.11ZM326.69,528H328.23V538.15H326.69ZM344.71,528H346.24V538.15H344.71ZM353.02,528H354.56V538.15H353.02ZM272.64,538H274.18V558.45H272.64ZM293.43,538H294.96V558.45H293.43ZM297.59,538H299.12V558.45H297.59ZM353.02,538H354.56V558.45H353.02ZM193.65,558.3H195.19V578.75H193.65ZM207.51,558.3H209.04V578.75H207.51ZM224.14,558.3H225.67V578.75H224.14ZM283.73,558.3H285.26V578.75H283.73ZM296.2,558.3H297.74V578.75H296.2ZM308.67,558.3H310.21V578.75H308.67ZM322.53,558.3H324.07V578.75H322.53ZM339.16,558.3H343.47V578.75H339.16ZM354.41,558.3H355.94V578.75H354.41ZM358.56,558.3H361.49V578.75H358.56ZM373.81,558.3H375.34V578.75H373.81ZM215.82,578.6H217.36V599.45H215.82ZM276.8,578.6H278.33V599.45H276.8ZM283.73,578.6H285.26V599.45H283.73ZM286.5,578.6H288.04V599.45H286.5ZM298.97,578.6H300.51V599.45H298.97ZM308.67,578.6H310.21V599.45H308.67ZM326.69,578.6H328.23V599.45H326.69ZM350.25,578.6H351.78V599.45H350.25ZM353.02,578.6H354.56V599.45H353.02ZM362.72,578.6H364.26V599.45H362.72ZM201.96,599.3H203.5V615.15H201.96ZM271.26,599.3H272.79V615.15H271.26ZM274.03,599.3H275.56V615.15H274.03ZM285.11,599.3H286.65V615.15H285.11ZM326.69,599.3H328.23V615.15H326.69ZM337.78,599.3H339.31V615.15H337.78ZM287.89,615H289.42V634.65H287.89ZM293.43,615H294.96V634.65H293.43ZM297.59,615H299.12V634.65H297.59ZM301.74,615H303.28V634.65H301.74ZM308.67,615H310.21V634.65H308.67ZM322.53,615H325.45V634.65H322.53ZM326.69,615H328.23V634.65H326.69ZM333.62,615H335.15V634.65H333.62ZM339.16,615H340.7V634.65H339.16ZM362.72,615H364.26V634.65H362.72ZM375.19,615H376.73V634.65H375.19ZM384.89,615H386.43V634.65H384.89ZM269.87,634.5H271.41V653.85H269.87ZM333.62,634.5H335.15V653.85H333.62ZM344.71,634.5H346.24V653.85H344.71ZM348.86,634.5H350.4V653.85H348.86ZM362.72,634.5H364.26V653.85H362.72ZM271.26,653.7H272.79V673.05H271.26ZM280.96,653.7H282.49V673.05H280.96ZM283.73,653.7H285.26V673.05H283.73ZM300.36,653.7H301.89V673.05H300.36ZM314.22,653.7H317.14V673.05H314.22ZM364.11,653.7H365.64V673.05H364.11ZM161.78,672.9H163.31V691.45H161.78ZM165.93,672.9H167.47V691.45H165.93ZM183.95,672.9H185.48V691.45H183.95ZM311.45,672.9H314.37V691.45H311.45ZM316.99,672.9H318.52V691.45H316.99ZM326.69,672.9H328.23V691.45H326.69ZM351.63,672.9H353.17V691.45H351.63ZM355.79,672.9H357.33V691.45H355.79ZM179.79,691.3H181.33V710.65H179.79ZM257.4,691.3H258.93V710.65H257.4ZM275.41,691.3H276.95V710.65H275.41ZM300.36,691.3H301.89V710.65H300.36ZM325.3,691.3H326.84V710.65H325.3ZM156.23,710.5H157.77V730.65H156.23ZM262.94,710.5H264.48V730.65H262.94ZM332.23,710.5H333.77V730.65H332.23ZM171.48,730.5H173.01V750.45H171.48ZM282.34,730.5H283.88V750.45H282.34ZM290.66,730.5H292.19V750.45H290.66ZM323.92,730.5H325.45V750.45H323.92ZM152.07,750.3H153.61V769.65H152.07ZM145.15,769.5H146.68V787.15H145.15ZM149.3,769.5H152.22V787.15H149.3ZM316.99,769.5H318.52V787.15H316.99ZM136.83,787H138.37V807.95H136.83ZM142.37,787H145.3V807.95H142.37ZM163.16,787H164.7V807.95H163.16ZM251.85,787H253.39V807.95H251.85ZM269.87,787H271.41V807.95H269.87ZM278.19,787H279.72V807.95H278.19ZM296.2,787H297.74V807.95H296.2ZM316.99,787H318.52V807.95H316.99ZM429.24,787H430.78V807.95H429.24ZM140.99,807.8H142.52V827.55H140.99ZM143.76,807.8H145.3V827.55H143.76ZM272.64,807.8H274.18V827.55H272.64ZM308.67,807.8H310.21V827.55H308.67ZM353.02,807.8H354.56V827.55H353.02ZM262.94,827.4H264.48V844.35H262.94ZM282.34,827.4H283.88V844.35H282.34ZM285.11,827.4H286.65V844.35H285.11ZM330.85,827.4H332.38V844.35H330.85ZM232.45,844.2H233.99V863.85H232.45ZM251.85,844.2H253.39V863.85H251.85ZM271.26,844.2H272.79V863.85H271.26ZM278.19,844.2H279.72V863.85H278.19ZM310.06,844.2H311.6V863.85H310.06ZM332.23,844.2H333.77V863.85H332.23ZM348.86,844.2H350.4V863.85H348.86ZM354.41,844.2H355.94V863.85H354.41ZM233.84,863.7H235.37V883.15H233.84ZM271.26,863.7H272.79V883.15H271.26ZM274.03,863.7H276.95V883.15H274.03ZM307.29,863.7H308.82V883.15H307.29ZM336.39,863.7H337.93V883.15H336.39ZM444.49,863.7H446.02V883.15H444.49ZM225.52,883H227.06V902.15H225.52ZM236.61,883H238.15V902.15H236.61ZM242.15,883H243.69V902.15H242.15ZM246.31,883H247.85V902.15H246.31ZM264.33,883H265.86V902.15H264.33ZM314.22,883H315.75V902.15H314.22ZM366.88,883H368.41V902.15H366.88ZM206.12,902H207.66V921.35H206.12ZM357.18,902H358.71V921.35H357.18ZM368.26,902H369.8V921.35H368.26ZM217.21,921.2H218.74V940.65H217.21ZM222.75,921.2H224.29V940.65H222.75ZM235.22,921.2H236.76V940.65H235.22ZM257.4,921.2H258.93V940.65H257.4ZM267.1,921.2H268.63V940.65H267.1ZM372.42,921.2H373.96V940.65H372.42ZM375.19,921.2H376.73V940.65H375.19ZM224.14,940.5H225.67V959.95H224.14ZM279.57,940.5H281.11V959.95H279.57ZM319.76,940.5H321.3V959.95H319.76ZM323.92,940.5H325.45V959.95H323.92ZM219.98,959.8H221.52V978.75H219.98ZM224.14,959.8H225.67V978.75H224.14ZM253.24,959.8H254.78V978.75H253.24ZM329.46,959.8H331V978.75H329.46ZM351.63,959.8H353.17V978.75H351.63ZM375.19,959.8H376.73V978.75H375.19ZM377.97,959.8H379.5V978.75H377.97ZM448.64,959.8H450.18V978.75H448.64ZM145.15,978.6H146.68V997.75H145.15ZM228.3,978.6H229.83V997.75H228.3ZM246.31,978.6H247.85V997.75H246.31ZM330.85,978.6H332.38V997.75H330.85ZM350.25,978.6H351.78V997.75H350.25ZM215.82,997.6H217.36V1017.35H215.82ZM225.52,997.6H227.06V1017.35H225.52ZM389.05,997.6H390.59V1017.35H389.05ZM207.51,1017.2H209.04V1027.15H207.51ZM214.44,1017.2H215.97V1027.15H214.44ZM217.21,1017.2H218.74V1027.15H217.21ZM225.52,1017.2H227.06V1027.15H225.52ZM246.31,1017.2H247.85V1027.15H246.31ZM383.51,1017.2H385.04V1027.15H383.51Z"/>
<path fill="#15b1b4" d="M204.74,528H206.27V538.15H204.74ZM271.26,528H272.79V538.15H271.26ZM290.66,528H292.19V538.15H290.66ZM359.95,528H361.49V538.15H359.95ZM364.11,528H365.64V538.15H364.11ZM200.58,538H202.11V558.45H200.58ZM210.28,538H213.2V558.45H210.28ZM289.27,538H290.81V558.45H289.27ZM303.13,538H304.67V558.45H303.13ZM328.08,538H329.61V558.45H328.08ZM332.23,538H333.77V558.45H332.23ZM337.78,538H339.31V558.45H337.78ZM286.5,558.3H289.42V578.75H286.5ZM335,558.3H337.93V578.75H335ZM348.86,558.3H350.4V578.75H348.86ZM351.63,558.3H353.17V578.75H351.63ZM362.72,558.3H365.64V578.75H362.72ZM193.65,578.6H195.19V599.45H193.65ZM274.03,578.6H275.56V599.45H274.03ZM310.06,578.6H311.6V599.45H310.06ZM314.22,578.6H315.75V599.45H314.22ZM325.3,578.6H326.84V599.45H325.3ZM336.39,578.6H337.93V599.45H336.39ZM344.71,578.6H346.24V599.45H344.71ZM347.48,578.6H349.01V599.45H347.48ZM379.35,578.6H380.89V599.45H379.35ZM300.36,599.3H301.89V615.15H300.36ZM308.67,599.3H310.21V615.15H308.67ZM316.99,599.3H318.52V615.15H316.99ZM325.3,599.3H326.84V615.15H325.3ZM340.55,599.3H342.08V615.15H340.55ZM344.71,599.3H346.24V615.15H344.71ZM358.56,599.3H360.1V615.15H358.56ZM362.72,599.3H364.26V615.15H362.72ZM283.73,615H285.26V634.65H283.73ZM335,615H337.93V634.65H335ZM346.09,615H347.63V634.65H346.09ZM348.86,615H350.4V634.65H348.86ZM364.11,615H365.64V634.65H364.11ZM271.26,634.5H274.18V653.85H271.26ZM275.41,634.5H276.95V653.85H275.41ZM285.11,634.5H286.65V653.85H285.11ZM304.52,634.5H306.05V653.85H304.52ZM307.29,634.5H308.82V653.85H307.29ZM314.22,634.5H315.75V653.85H314.22ZM322.53,634.5H325.45V653.85H322.53ZM332.23,634.5H333.77V653.85H332.23ZM340.55,634.5H342.08V653.85H340.55ZM343.32,634.5H344.86V653.85H343.32ZM347.48,634.5H349.01V653.85H347.48ZM389.05,634.5H390.59V653.85H389.05ZM174.25,653.7H175.78V673.05H174.25ZM185.33,653.7H186.87V673.05H185.33ZM312.83,653.7H314.37V673.05H312.83ZM337.78,653.7H339.31V673.05H337.78ZM343.32,653.7H344.86V673.05H343.32ZM362.72,653.7H364.26V673.05H362.72ZM164.55,672.9H166.08V691.45H164.55ZM264.33,672.9H265.86V691.45H264.33ZM285.11,672.9H286.65V691.45H285.11ZM319.76,672.9H321.3V691.45H319.76ZM339.16,672.9H342.08V691.45H339.16ZM159,691.3H160.54V710.65H159ZM315.6,691.3H317.14V710.65H315.6ZM318.37,691.3H319.91V710.65H318.37ZM344.71,691.3H346.24V710.65H344.71ZM177.02,710.5H178.56V730.65H177.02ZM287.89,710.5H289.42V730.65H287.89ZM318.37,710.5H319.91V730.65H318.37ZM323.92,710.5H325.45V730.65H323.92ZM170.09,730.5H171.63V750.45H170.09ZM321.15,730.5H322.68V750.45H321.15ZM293.43,750.3H294.96V769.65H293.43ZM355.79,769.5H357.33V787.15H355.79ZM275.41,787H276.95V807.95H275.41ZM308.67,787H310.21V807.95H308.67ZM142.37,807.8H143.91V827.55H142.37ZM145.15,827.4H146.68V844.35H145.15ZM231.07,844.2H232.6V863.85H231.07ZM272.64,844.2H274.18V863.85H272.64ZM305.9,844.2H307.44V863.85H305.9ZM336.39,844.2H337.93V863.85H336.39ZM350.25,844.2H354.56V863.85H350.25ZM355.79,844.2H357.33V863.85H355.79ZM359.95,844.2H361.49V863.85H359.95ZM395.98,844.2H397.52V863.85H395.98ZM201.96,863.7H204.89V883.15H201.96ZM267.1,863.7H268.63V883.15H267.1ZM231.07,883H232.6V902.15H231.07ZM265.71,883H268.63V902.15H265.71ZM276.8,883H278.33V902.15H276.8ZM307.29,883H308.82V902.15H307.29ZM321.15,883H322.68V902.15H321.15ZM340.55,883H342.08V902.15H340.55ZM344.71,883H346.24V902.15H344.71ZM222.75,902H225.67V921.35H222.75ZM228.3,902H229.83V921.35H228.3ZM242.15,902H243.69V921.35H242.15ZM224.14,921.2H225.67V940.65H224.14ZM228.3,921.2H229.83V940.65H228.3ZM240.77,921.2H243.69V940.65H240.77ZM339.16,921.2H340.7V940.65H339.16ZM377.97,921.2H379.5V940.65H377.97ZM218.59,940.5H220.13V959.95H218.59ZM226.91,940.5H228.45V959.95H226.91ZM232.45,940.5H233.99V959.95H232.45ZM262.94,940.5H264.48V959.95H262.94ZM316.99,940.5H318.52V959.95H316.99ZM325.3,940.5H326.84V959.95H325.3ZM328.08,940.5H329.61V959.95H328.08ZM371.04,940.5H372.57V959.95H371.04ZM218.59,959.8H220.13V978.75H218.59ZM330.85,959.8H332.38V978.75H330.85ZM379.35,959.8H380.89V978.75H379.35ZM143.76,978.6H145.3V997.75H143.76ZM219.98,978.6H221.52V997.75H219.98ZM333.62,978.6H336.54V997.75H333.62ZM353.02,978.6H354.56V997.75H353.02ZM379.35,978.6H380.89V997.75H379.35ZM213.05,997.6H214.59V1017.35H213.05ZM217.21,997.6H218.74V1017.35H217.21ZM219.98,997.6H221.52V1017.35H219.98ZM330.85,997.6H332.38V1017.35H330.85ZM333.62,997.6H335.15V1017.35H333.62ZM337.78,997.6H339.31V1017.35H337.78ZM384.89,997.6H386.43V1017.35H384.89ZM128.52,1017.2H130.05V1027.15H128.52ZM208.89,1017.2H210.43V1027.15H208.89ZM250.47,1017.2H252V1027.15H250.47ZM253.24,1017.2H254.78V1027.15H253.24ZM357.18,1017.2H358.71V1027.15H357.18ZM384.89,1017.2H386.43V1027.15H384.89ZM390.44,1017.2H391.97V1027.15H390.44Z"/>
<path fill="#28b6a8" d="M269.87,528H271.41V538.15H269.87ZM274.03,528H275.56V538.15H274.03ZM287.89,528H289.42V538.15H287.89ZM298.97,528H300.51V538.15H298.97ZM303.13,528H304.67V538.15H303.13ZM310.06,528H311.6V538.15H310.06ZM314.22,528H315.75V538.15H314.22ZM325.3,528H326.84V538.15H325.3ZM336.39,528H337.93V538.15H336.39ZM362.72,528H364.26V538.15H362.72ZM215.82,538H217.36V558.45H215.82ZM294.81,538H296.35V558.45H294.81ZM298.97,538H300.51V558.45H298.97ZM301.74,538H303.28V558.45H301.74ZM329.46,538H331V558.45H329.46ZM368.26,538H369.8V558.45H368.26ZM307.29,558.3H308.82V578.75H307.29ZM315.6,558.3H317.14V578.75H315.6ZM323.92,558.3H325.45V578.75H323.92ZM329.46,558.3H331V578.75H329.46ZM350.25,558.3H351.78V578.75H350.25ZM190.88,578.6H192.41V599.45H190.88ZM201.96,578.6H203.5V599.45H201.96ZM279.57,578.6H281.11V599.45H279.57ZM301.74,578.6H303.28V599.45H301.74ZM305.9,578.6H308.82V599.45H305.9ZM328.08,578.6H329.61V599.45H328.08ZM340.55,578.6H342.08V599.45H340.55ZM343.32,578.6H344.86V599.45H343.32ZM357.18,578.6H360.1V599.45H357.18ZM361.34,578.6H362.87V599.45H361.34ZM364.11,578.6H365.64V599.45H364.11ZM286.5,599.3H288.04V615.15H286.5ZM301.74,599.3H303.28V615.15H301.74ZM322.53,599.3H324.07V615.15H322.53ZM339.16,599.3H340.7V615.15H339.16ZM346.09,599.3H349.01V615.15H346.09ZM361.34,599.3H362.87V615.15H361.34ZM383.51,599.3H385.04V615.15H383.51ZM178.41,615H179.94V634.65H178.41ZM193.65,615H196.57V634.65H193.65ZM274.03,615H275.56V634.65H274.03ZM278.19,615H279.72V634.65H278.19ZM305.9,615H307.44V634.65H305.9ZM312.83,615H314.37V634.65H312.83ZM315.6,615H317.14V634.65H315.6ZM344.71,615H346.24V634.65H344.71ZM357.18,615H358.71V634.65H357.18ZM376.58,615H378.12V634.65H376.58ZM386.28,615H387.82V634.65H386.28ZM193.65,634.5H197.96V653.85H193.65ZM305.9,634.5H307.44V653.85H305.9ZM308.67,634.5H312.98V653.85H308.67ZM375.19,634.5H376.73V653.85H375.19ZM168.7,653.7H170.24V673.05H168.7ZM276.8,653.7H279.72V673.05H276.8ZM304.52,653.7H306.05V673.05H304.52ZM311.45,653.7H312.98V673.05H311.45ZM318.37,653.7H319.91V673.05H318.37ZM371.04,653.7H372.57V673.05H371.04ZM181.18,672.9H184.1V691.45H181.18ZM314.22,672.9H315.75V691.45H314.22ZM181.18,691.3H182.71V710.65H181.18ZM289.27,691.3H290.81V710.65H289.27ZM310.06,691.3H311.6V710.65H310.06ZM312.83,691.3H314.37V710.65H312.83ZM321.15,691.3H322.68V710.65H321.15ZM154.85,710.5H156.38V730.65H154.85ZM181.18,710.5H182.71V730.65H181.18ZM286.5,710.5H288.04V730.65H286.5ZM289.27,710.5H290.81V730.65H289.27ZM311.45,710.5H312.98V730.65H311.45ZM355.79,710.5H357.33V730.65H355.79ZM177.02,730.5H178.56V750.45H177.02ZM149.3,750.3H150.84V769.65H149.3ZM330.85,750.3H332.38V769.65H330.85ZM368.26,750.3H369.8V769.65H368.26ZM165.93,769.5H167.47V787.15H165.93ZM290.66,769.5H292.19V787.15H290.66ZM311.45,769.5H312.98V787.15H311.45ZM325.3,769.5H326.84V787.15H325.3ZM161.78,787H163.31V807.95H161.78ZM297.59,787H299.12V807.95H297.59ZM322.53,807.8H324.07V827.55H322.53ZM256.01,844.2H257.55V863.85H256.01ZM315.6,844.2H317.14V863.85H315.6ZM318.37,844.2H319.91V863.85H318.37ZM341.93,844.2H343.47V863.85H341.93ZM362.72,863.7H364.26V883.15H362.72ZM226.91,883H228.45V902.15H226.91ZM243.54,883H245.08V902.15H243.54ZM247.7,883H249.23V902.15H247.7ZM305.9,883H307.44V902.15H305.9ZM308.67,883H310.21V902.15H308.67ZM341.93,883H344.86V902.15H341.93ZM361.34,883H362.87V902.15H361.34ZM364.11,883H367.03V902.15H364.11ZM243.54,902H246.46V921.35H243.54ZM265.71,902H267.25V921.35H265.71ZM319.76,902H321.3V921.35H319.76ZM244.93,921.2H246.46V940.65H244.93ZM258.78,921.2H260.32V940.65H258.78ZM322.53,921.2H324.07V940.65H322.53ZM373.81,921.2H375.34V940.65H373.81ZM235.22,940.5H236.76V959.95H235.22ZM211.67,959.8H213.2V978.75H211.67ZM235.22,959.8H236.76V978.75H235.22ZM254.63,959.8H256.16V978.75H254.63ZM332.23,959.8H333.77V978.75H332.23ZM225.52,978.6H227.06V997.75H225.52ZM233.84,978.6H235.37V997.75H233.84ZM348.86,978.6H350.4V997.75H348.86ZM357.18,978.6H358.71V997.75H357.18ZM336.39,997.6H337.93V1017.35H336.39ZM386.28,997.6H387.82V1017.35H386.28ZM249.08,1017.2H250.62V1027.15H249.08ZM358.56,1017.2H360.1V1027.15H358.56Z"/>
<path fill="#3eba9a" d="M211.67,528H214.59V538.15H211.67ZM272.64,528H274.18V538.15H272.64ZM279.57,528H281.11V538.15H279.57ZM305.9,528H307.44V538.15H305.9ZM322.53,528H324.07V538.15H322.53ZM328.08,528H331V538.15H328.08ZM347.48,528H349.01V538.15H347.48ZM354.41,528H355.94V538.15H354.41ZM361.34,528H362.87V538.15H361.34ZM322.53,538H324.07V558.45H322.53ZM335,538H337.93V558.45H335ZM339.16,538H340.7V558.45H339.16ZM351.63,538H353.17V558.45H351.63ZM354.41,538H355.94V558.45H354.41ZM358.56,538H360.1V558.45H358.56ZM275.41,558.3H276.95V578.75H275.41ZM326.69,558.3H328.23V578.75H326.69ZM337.78,558.3H339.31V578.75H337.78ZM347.48,558.3H349.01V578.75H347.48ZM375.19,558.3H376.73V578.75H375.19ZM341.93,578.6H343.47V599.45H341.93ZM346.09,578.6H347.63V599.45H346.09ZM351.63,578.6H353.17V599.45H351.63ZM355.79,578.6H357.33V599.45H355.79ZM373.81,578.6H375.34V599.45H373.81ZM185.33,599.3H186.87V615.15H185.33ZM282.34,599.3H283.88V615.15H282.34ZM307.29,599.3H308.82V615.15H307.29ZM315.6,599.3H317.14V615.15H315.6ZM321.15,599.3H322.68V615.15H321.15ZM329.46,599.3H331V615.15H329.46ZM341.93,599.3H343.47V615.15H341.93ZM364.11,599.3H365.64V615.15H364.11ZM179.79,615H181.33V634.65H179.79ZM286.5,615H288.04V634.65H286.5ZM292.04,615H293.58V634.65H292.04ZM319.76,615H322.68V634.65H319.76ZM343.32,615H344.86V634.65H343.32ZM177.02,634.5H178.56V653.85H177.02ZM321.15,634.5H322.68V653.85H321.15ZM377.97,634.5H379.5V653.85H377.97ZM170.09,653.7H171.63V673.05H170.09ZM286.5,653.7H288.04V673.05H286.5ZM329.46,653.7H331V673.05H329.46ZM340.55,653.7H342.08V673.05H340.55ZM286.5,672.9H288.04V691.45H286.5ZM323.92,672.9H325.45V691.45H323.92ZM269.87,691.3H271.41V710.65H269.87ZM174.25,710.5H175.78V730.65H174.25ZM152.07,730.5H153.61V750.45H152.07ZM322.53,730.5H324.07V750.45H322.53ZM168.7,750.3H171.63V769.65H168.7ZM164.55,769.5H166.08V787.15H164.55ZM145.15,787H146.68V807.95H145.15ZM153.46,787H155V807.95H153.46ZM156.23,807.8H157.77V827.55H156.23ZM146.53,827.4H149.45V844.35H146.53ZM261.56,827.4H263.09V844.35H261.56ZM319.76,844.2H321.3V863.85H319.76ZM326.69,844.2H328.23V863.85H326.69ZM333.62,844.2H336.54V863.85H333.62ZM339.16,844.2H342.08V863.85H339.16ZM361.34,844.2H362.87V863.85H361.34ZM323.92,863.7H325.45V883.15H323.92ZM229.68,883H231.22V902.15H229.68ZM319.76,883H321.3V902.15H319.76ZM335,883H336.54V902.15H335ZM318.37,902H319.91V921.35H318.37ZM344.71,902H346.24V921.35H344.71ZM246.31,921.2H247.85V940.65H246.31ZM336.39,921.2H339.31V940.65H336.39ZM219.98,940.5H221.52V959.95H219.98ZM240.77,940.5H242.3V959.95H240.77ZM251.85,940.5H253.39V959.95H251.85ZM326.69,940.5H328.23V959.95H326.69ZM232.45,959.8H233.99V978.75H232.45ZM239.38,959.8H240.92V978.75H239.38ZM244.93,959.8H246.46V978.75H244.93ZM282.34,959.8H283.88V978.75H282.34ZM247.7,978.6H250.62V997.75H247.7ZM355.79,997.6H357.33V1017.35H355.79ZM211.67,1017.2H213.2V1027.15H211.67ZM337.78,1017.2H340.7V1027.15H337.78Z"/>
<path fill="#59bd8c" d="M210.28,528H211.82V538.15H210.28ZM283.73,528H285.26V538.15H283.73ZM318.37,528H319.91V538.15H318.37ZM321.15,528H322.68V538.15H321.15ZM335,528H336.54V538.15H335ZM348.86,528H350.4V538.15H348.86ZM358.56,528H360.1V538.15H358.56ZM279.57,538H281.11V558.45H279.57ZM318.37,538H319.91V558.45H318.37ZM355.79,538H357.33V558.45H355.79ZM192.26,558.3H193.8V578.75H192.26ZM195.04,558.3H196.57V578.75H195.04ZM272.64,558.3H275.56V578.75H272.64ZM303.13,578.6H304.67V599.45H303.13ZM316.99,578.6H319.91V599.45H316.99ZM329.46,578.6H331V599.45H329.46ZM365.49,578.6H367.03V599.45H365.49ZM196.42,599.3H197.96V615.15H196.42ZM200.58,599.3H202.11V615.15H200.58ZM294.81,599.3H296.35V615.15H294.81ZM318.37,599.3H319.91V615.15H318.37ZM335,599.3H336.54V615.15H335ZM343.32,599.3H344.86V615.15H343.32ZM369.65,599.3H371.19V615.15H369.65ZM260.17,615H261.7V634.65H260.17ZM329.46,615H331V634.65H329.46ZM341.93,615H343.47V634.65H341.93ZM175.63,634.5H177.17V653.85H175.63ZM190.88,634.5H192.41V653.85H190.88ZM301.74,634.5H303.28V653.85H301.74ZM326.69,634.5H328.23V653.85H326.69ZM369.65,634.5H371.19V653.85H369.65ZM318.37,672.9H319.91V691.45H318.37ZM322.53,672.9H324.07V691.45H322.53ZM178.41,710.5H179.94V730.65H178.41ZM264.33,730.5H265.86V750.45H264.33ZM165.93,750.3H167.47V769.65H165.93ZM153.46,769.5H155V787.15H153.46ZM154.85,807.8H156.38V827.55H154.85ZM236.61,844.2H238.15V863.85H236.61ZM321.15,844.2H324.07V863.85H321.15ZM330.85,844.2H332.38V863.85H330.85ZM232.45,863.7H233.99V883.15H232.45ZM250.47,863.7H252V883.15H250.47ZM311.45,863.7H312.98V883.15H311.45ZM325.3,863.7H328.23V883.15H325.3ZM224.14,883H225.67V902.15H224.14ZM228.3,883H229.83V902.15H228.3ZM262.94,883H264.48V902.15H262.94ZM310.06,883H311.6V902.15H310.06ZM315.6,883H317.14V902.15H315.6ZM332.23,883H333.77V902.15H332.23ZM337.78,883H339.31V902.15H337.78ZM262.94,902H264.48V921.35H262.94ZM321.15,902H322.68V921.35H321.15ZM254.63,921.2H256.16V940.65H254.63ZM369.65,921.2H371.19V940.65H369.65ZM376.58,921.2H378.12V940.65H376.58ZM233.84,940.5H235.37V959.95H233.84ZM244.93,940.5H246.46V959.95H244.93ZM238,959.8H239.53V978.75H238ZM214.44,978.6H215.97V997.75H214.44ZM243.54,997.6H245.08V1017.35H243.54ZM335,997.6H336.54V1017.35H335ZM339.16,997.6H340.7V1017.35H339.16ZM353.02,997.6H354.56V1017.35H353.02Z"/>
<path fill="#75bf7f" d="M297.59,528H299.12V538.15H297.59ZM307.29,528H308.82V538.15H307.29ZM203.35,538H206.27V558.45H203.35ZM305.9,538H307.44V558.45H305.9ZM346.09,558.3H347.63V578.75H346.09ZM200.58,578.6H202.11V599.45H200.58ZM296.2,578.6H297.74V599.45H296.2ZM182.56,599.3H184.1V615.15H182.56ZM197.81,599.3H199.34V615.15H197.81ZM275.41,599.3H276.95V615.15H275.41ZM280.96,599.3H282.49V615.15H280.96ZM304.52,599.3H306.05V615.15H304.52ZM310.06,599.3H311.6V615.15H310.06ZM282.34,615H283.88V634.65H282.34ZM310.06,615H311.6V634.65H310.06ZM318.37,615H319.91V634.65H318.37ZM189.49,634.5H191.03V653.85H189.49ZM192.26,634.5H193.8V653.85H192.26ZM312.83,634.5H314.37V653.85H312.83ZM178.41,672.9H179.94V691.45H178.41ZM163.16,691.3H164.7V710.65H163.16ZM177.02,691.3H178.56V710.65H177.02ZM283.73,691.3H285.26V710.65H283.73ZM159,730.5H160.54V750.45H159ZM149.3,827.4H150.84V844.35H149.3ZM357.18,844.2H358.71V863.85H357.18ZM312.83,863.7H314.37V883.15H312.83ZM268.48,883H270.02V902.15H268.48ZM368.26,883H369.8V902.15H368.26ZM226.91,902H228.45V921.35H226.91ZM337.78,902H339.31V921.35H337.78ZM221.37,921.2H222.9V940.65H221.37ZM341.93,940.5H343.47V959.95H341.93ZM339.16,959.8H340.7V978.75H339.16ZM347.48,959.8H349.01V978.75H347.48ZM211.67,978.6H213.2V997.75H211.67ZM236.61,978.6H238.15V997.75H236.61ZM226.91,997.6H228.45V1017.35H226.91ZM240.77,997.6H242.3V1017.35H240.77ZM340.55,997.6H342.08V1017.35H340.55ZM354.41,997.6H355.94V1017.35H354.41ZM240.77,1017.2H242.3V1027.15H240.77ZM355.79,1017.2H357.33V1027.15H355.79Z"/>
<path fill="#8ebf74" d="M206.12,528H207.66V538.15H206.12ZM276.8,528H278.33V538.15H276.8ZM311.45,528H312.98V538.15H311.45ZM316.99,528H318.52V538.15H316.99ZM323.92,528H325.45V538.15H323.92ZM350.25,528H351.78V538.15H350.25ZM355.79,528H357.33V538.15H355.79ZM283.73,538H285.26V558.45H283.73ZM304.52,538H306.05V558.45H304.52ZM341.93,538H343.47V558.45H341.93ZM357.18,538H358.71V558.45H357.18ZM192.26,578.6H193.8V599.45H192.26ZM282.34,578.6H283.88V599.45H282.34ZM311.45,578.6H314.37V599.45H311.45ZM366.88,578.6H368.41V599.45H366.88ZM195.04,599.3H196.57V615.15H195.04ZM312.83,599.3H314.37V615.15H312.83ZM323.92,599.3H325.45V615.15H323.92ZM371.04,599.3H372.57V615.15H371.04ZM181.18,615H182.71V634.65H181.18ZM272.64,615H274.18V634.65H272.64ZM280.96,615H282.49V634.65H280.96ZM316.99,615H318.52V634.65H316.99ZM340.55,615H342.08V634.65H340.55ZM383.51,615H385.04V634.65H383.51ZM280.96,634.5H285.26V653.85H280.96ZM315.6,634.5H317.14V653.85H315.6ZM310.06,672.9H311.6V691.45H310.06ZM153.46,730.5H155V750.45H153.46ZM168.7,730.5H170.24V750.45H168.7ZM153.46,750.3H155V769.65H153.46ZM152.07,769.5H153.61V787.15H152.07ZM146.53,787H148.07V807.95H146.53ZM159,787H160.54V807.95H159ZM269.87,844.2H271.41V863.85H269.87ZM328.08,844.2H329.61V863.85H328.08ZM253.24,863.7H254.78V883.15H253.24ZM256.01,863.7H257.55V883.15H256.01ZM314.22,863.7H315.75V883.15H314.22ZM321.15,863.7H322.68V883.15H321.15ZM250.47,883H252V902.15H250.47ZM258.78,902H260.32V921.35H258.78ZM256.01,921.2H257.55V940.65H256.01ZM368.26,921.2H369.8V940.65H368.26ZM343.32,940.5H344.86V959.95H343.32ZM347.48,978.6H349.01V997.75H347.48ZM222.75,1017.2H224.29V1027.15H222.75ZM226.91,1017.2H228.45V1027.15H226.91ZM343.32,1017.2H344.86V1027.15H343.32ZM354.41,1017.2H355.94V1027.15H354.41Z"/>
<path fill="#a5be6b" d="M315.6,528H317.14V538.15H315.6ZM278.19,538H279.72V558.45H278.19ZM282.34,538H283.88V558.45H282.34ZM285.11,538H286.65V558.45H285.11ZM300.36,538H301.89V558.45H300.36ZM307.29,538H308.82V558.45H307.29ZM311.45,538H312.98V558.45H311.45ZM314.22,538H317.14V558.45H314.22ZM321.15,538H322.68V558.45H321.15ZM325.3,538H326.84V558.45H325.3ZM343.32,538H344.86V558.45H343.32ZM346.09,538H347.63V558.45H346.09ZM364.11,538H365.64V558.45H364.11ZM197.81,558.3H199.34V578.75H197.81ZM282.34,558.3H283.88V578.75H282.34ZM304.52,558.3H307.44V578.75H304.52ZM328.08,558.3H329.61V578.75H328.08ZM344.71,558.3H346.24V578.75H344.71ZM366.88,558.3H368.41V578.75H366.88ZM372.42,558.3H373.96V578.75H372.42ZM280.96,578.6H282.49V599.45H280.96ZM368.26,578.6H369.8V599.45H368.26ZM377.97,578.6H379.5V599.45H377.97ZM186.72,599.3H188.26V615.15H186.72ZM193.65,599.3H195.19V615.15H193.65ZM199.19,599.3H200.73V615.15H199.19ZM311.45,599.3H312.98V615.15H311.45ZM190.88,615H192.41V634.65H190.88ZM311.45,615H312.98V634.65H311.45ZM278.19,634.5H279.72V653.85H278.19ZM319.76,634.5H321.3V653.85H319.76ZM325.3,634.5H326.84V653.85H325.3ZM376.58,634.5H378.12V653.85H376.58ZM379.35,634.5H380.89V653.85H379.35ZM382.12,634.5H383.66V653.85H382.12ZM172.86,653.7H174.4V673.05H172.86ZM171.48,710.5H173.01V730.65H171.48ZM167.32,730.5H168.85V750.45H167.32ZM159,750.3H160.54V769.65H159ZM325.3,844.2H326.84V863.85H325.3ZM254.63,863.7H256.16V883.15H254.63ZM268.48,863.7H270.02V883.15H268.48ZM315.6,863.7H317.14V883.15H315.6ZM260.17,902H261.7V921.35H260.17ZM323.92,902H325.45V921.35H323.92ZM332.23,921.2H333.77V940.65H332.23ZM253.24,940.5H254.78V959.95H253.24ZM250.47,959.8H252V978.75H250.47ZM341.93,959.8H343.47V978.75H341.93ZM346.09,959.8H347.63V978.75H346.09ZM210.28,1017.2H211.82V1027.15H210.28ZM238,1017.2H239.53V1027.15H238Z"/>
<path fill="#babd62" d="M201.96,538H203.5V558.45H201.96ZM199.19,558.3H200.73V578.75H199.19ZM201.96,558.3H203.5V578.75H201.96ZM321.15,558.3H322.68V578.75H321.15ZM304.52,578.6H306.05V599.45H304.52ZM315.6,578.6H317.14V599.45H315.6ZM319.76,578.6H321.3V599.45H319.76ZM322.53,578.6H324.07V599.45H322.53ZM376.58,578.6H378.12V599.45H376.58ZM279.57,599.3H281.11V615.15H279.57ZM283.73,599.3H285.26V615.15H283.73ZM372.42,599.3H373.96V615.15H372.42ZM382.12,599.3H383.66V615.15H382.12ZM178.41,634.5H179.94V653.85H178.41ZM318.37,634.5H319.91V653.85H318.37ZM177.02,672.9H178.56V691.45H177.02ZM154.85,730.5H156.38V750.45H154.85ZM156.23,750.3H157.77V769.65H156.23ZM156.23,787H157.77V807.95H156.23ZM153.46,807.8H155V827.55H153.46ZM258.78,844.2H260.32V863.85H258.78ZM268.48,844.2H270.02V863.85H268.48ZM323.92,844.2H325.45V863.85H323.92ZM265.71,863.7H267.25V883.15H265.71ZM261.56,883H263.09V902.15H261.56ZM316.99,883H318.52V902.15H316.99ZM328.08,883H329.61V902.15H328.08ZM243.54,921.2H245.08V940.65H243.54ZM326.69,921.2H328.23V940.65H326.69ZM242.15,940.5H243.69V959.95H242.15ZM246.31,959.8H250.62V978.75H246.31ZM251.85,959.8H253.39V978.75H251.85ZM337.78,978.6H339.31V997.75H337.78ZM346.09,978.6H347.63V997.75H346.09ZM229.68,997.6H231.22V1017.35H229.68ZM242.15,997.6H243.69V1017.35H242.15ZM348.86,997.6H353.17V1017.35H348.86ZM224.14,1017.2H225.67V1027.15H224.14ZM242.15,1017.2H243.69V1027.15H242.15Z"/>
<path fill="#cebb5a" d="M207.51,528H209.04V538.15H207.51ZM308.67,528H310.21V538.15H308.67ZM351.63,528H353.17V538.15H351.63ZM208.89,538H210.43V558.45H208.89ZM274.03,538H275.56V558.45H274.03ZM310.06,538H311.6V558.45H310.06ZM312.83,538H314.37V558.45H312.83ZM310.06,558.3H311.6V578.75H310.06ZM319.76,558.3H321.3V578.75H319.76ZM323.92,578.6H325.45V599.45H323.92ZM369.65,578.6H371.19V599.45H369.65ZM368.26,599.3H369.8V615.15H368.26ZM186.72,615H188.26V634.65H186.72ZM279.57,634.5H281.11V653.85H279.57ZM316.99,634.5H318.52V653.85H316.99ZM164.55,691.3H167.47V710.65H164.55ZM175.63,691.3H177.17V710.65H175.63ZM159,710.5H161.93V730.65H159ZM154.85,750.3H156.38V769.65H154.85ZM167.32,750.3H168.85V769.65H167.32ZM161.78,769.5H164.7V787.15H161.78ZM264.33,844.2H265.86V863.85H264.33ZM319.76,863.7H321.3V883.15H319.76ZM260.17,883H261.7V902.15H260.17ZM323.92,883H325.45V902.15H323.92ZM322.53,902H324.07V921.35H322.53ZM325.3,902H326.84V921.35H325.3ZM340.55,940.5H342.08V959.95H340.55ZM238,978.6H239.53V997.75H238ZM243.54,978.6H245.08V997.75H243.54ZM221.37,997.6H222.9V1017.35H221.37ZM228.3,997.6H229.83V1017.35H228.3ZM231.07,997.6H232.6V1017.35H231.07ZM236.61,997.6H238.15V1017.35H236.61ZM239.38,1017.2H240.92V1027.15H239.38ZM353.02,1017.2H354.56V1027.15H353.02Z"/>
<path fill="#e1b952" d="M200.58,558.3H202.11V578.75H200.58ZM318.37,558.3H319.91V578.75H318.37ZM278.19,578.6H279.72V599.45H278.19ZM379.35,615H380.89V634.65H379.35ZM186.72,634.5H188.26V653.85H186.72ZM167.32,672.9H168.85V691.45H167.32ZM168.7,710.5H170.24V730.65H168.7ZM152.07,807.8H153.61V827.55H152.07ZM257.4,844.2H258.93V863.85H257.4ZM257.4,863.7H258.93V883.15H257.4ZM318.37,883H319.91V902.15H318.37ZM333.62,883H335.15V902.15H333.62ZM261.56,902H263.09V921.35H261.56ZM247.7,921.2H249.23V940.65H247.7ZM243.54,940.5H245.08V959.95H243.54ZM247.7,940.5H249.23V959.95H247.7ZM254.63,940.5H256.16V959.95H254.63ZM333.62,959.8H335.15V978.75H333.62ZM344.71,959.8H346.24V978.75H344.71ZM240.77,978.6H242.3V997.75H240.77ZM336.39,978.6H337.93V997.75H336.39Z"/>
<path fill="#f3ba48" d="M275.41,538H276.95V558.45H275.41ZM308.67,538H310.21V558.45H308.67ZM347.48,538H349.01V558.45H347.48ZM361.34,538H362.87V558.45H361.34ZM312.83,558.3H315.75V578.75H312.83ZM316.99,558.3H318.52V578.75H316.99ZM368.26,558.3H369.8V578.75H368.26ZM321.15,578.6H322.68V599.45H321.15ZM276.8,599.3H278.33V615.15H276.8ZM377.97,615H379.5V634.65H377.97ZM387.67,634.5H389.2V653.85H387.67ZM175.63,653.7H177.17V673.05H175.63ZM174.25,691.3H175.78V710.65H174.25ZM172.86,710.5H174.4V730.65H172.86ZM164.55,750.3H166.08V769.65H164.55ZM146.53,807.8H148.07V827.55H146.53ZM258.78,883H260.32V902.15H258.78ZM326.69,883H328.23V902.15H326.69ZM246.31,902H247.85V921.35H246.31ZM332.23,902H333.77V921.35H332.23ZM336.39,902H337.93V921.35H336.39ZM339.16,978.6H340.7V997.75H339.16ZM232.45,997.6H233.99V1017.35H232.45Z"/>
<path fill="#fec139" d="M280.96,538H282.49V558.45H280.96ZM319.76,538H321.3V558.45H319.76ZM323.92,538H325.45V558.45H323.92ZM196.42,558.3H197.96V578.75H196.42ZM192.26,599.3H193.8V615.15H192.26ZM314.22,615H315.75V634.65H314.22ZM179.79,634.5H181.33V653.85H179.79ZM380.74,634.5H382.27V653.85H380.74ZM182.56,653.7H184.1V673.05H182.56ZM179.79,672.9H181.33V691.45H179.79ZM167.32,691.3H170.24V710.65H167.32ZM163.16,710.5H164.7V730.65H163.16ZM170.09,710.5H171.63V730.65H170.09ZM157.62,730.5H159.15V750.45H157.62ZM165.93,730.5H167.47V750.45H165.93ZM149.3,787H150.84V807.95H149.3ZM152.07,787H153.61V807.95H152.07ZM150.69,807.8H152.22V827.55H150.69ZM267.1,844.2H268.63V863.85H267.1ZM264.33,863.7H265.86V883.15H264.33ZM318.37,863.7H319.91V883.15H318.37ZM247.7,902H249.23V921.35H247.7ZM333.62,902H336.54V921.35H333.62ZM340.55,902H342.08V921.35H340.55ZM329.46,921.2H331V940.65H329.46ZM335,921.2H336.54V940.65H335ZM228.3,1017.2H229.83V1027.15H228.3ZM235.22,1017.2H236.76V1027.15H235.22ZM351.63,1017.2H353.17V1027.15H351.63Z"/>
<path fill="#fcce2e" d="M208.89,528H210.43V538.15H208.89ZM316.99,538H318.52V558.45H316.99ZM369.65,558.3H371.19V578.75H369.65ZM199.19,578.6H200.73V599.45H199.19ZM189.49,599.3H191.03V615.15H189.49ZM189.49,615H191.03V634.65H189.49ZM382.12,615H383.66V634.65H382.12ZM168.7,672.9H170.24V691.45H168.7ZM147.92,787H149.45V807.95H147.92ZM157.62,787H159.15V807.95H157.62ZM260.17,844.2H263.09V863.85H260.17ZM322.53,883H324.07V902.15H322.53ZM325.3,883H326.84V902.15H325.3ZM249.08,902H250.62V921.35H249.08ZM328.08,921.2H329.61V940.65H328.08ZM337.78,940.5H339.31V959.95H337.78ZM240.77,959.8H242.3V978.75H240.77ZM235.22,978.6H236.76V997.75H235.22ZM235.22,997.6H236.76V1017.35H235.22ZM236.61,1017.2H238.15V1027.15H236.61ZM346.09,1017.2H347.63V1027.15H346.09ZM348.86,1017.2H350.4V1027.15H348.86Z"/>
<path fill="#f7da24" d="M206.12,538H209.04V558.45H206.12ZM276.8,538H278.33V558.45H276.8ZM362.72,538H364.26V558.45H362.72ZM365.49,538H367.03V558.45H365.49ZM276.8,558.3H279.72V578.75H276.8ZM371.04,558.3H372.57V578.75H371.04ZM375.19,578.6H376.73V599.45H375.19ZM188.11,599.3H189.64V615.15H188.11ZM379.35,599.3H382.27V615.15H379.35ZM182.56,615H184.1V634.65H182.56ZM383.51,634.5H385.04V653.85H383.51ZM183.95,653.7H185.48V673.05H183.95ZM157.62,750.3H159.15V769.65H157.62ZM154.85,769.5H157.77V787.15H154.85ZM265.71,844.2H267.25V863.85H265.71ZM329.46,883H331V902.15H329.46ZM257.4,902H258.93V921.35H257.4ZM329.46,940.5H331V959.95H329.46ZM335,959.8H336.54V978.75H335ZM242.15,978.6H243.69V997.75H242.15ZM239.38,997.6H240.92V1017.35H239.38ZM341.93,997.6H343.47V1017.35H341.93Z"/>
<path fill="#f5e91a" d="M357.18,528H358.71V538.15H357.18ZM280.96,558.3H282.49V578.75H280.96ZM195.04,578.6H196.57V599.45H195.04ZM371.04,578.6H372.57V599.45H371.04ZM380.74,615H382.27V634.65H380.74ZM185.33,634.5H186.87V653.85H185.33ZM175.63,672.9H177.17V691.45H175.63ZM164.55,710.5H166.08V730.65H164.55ZM161.78,750.3H163.31V769.65H161.78ZM316.99,863.7H318.52V883.15H316.99ZM249.08,883H250.62V902.15H249.08ZM257.4,883H258.93V902.15H257.4ZM332.23,940.5H333.77V959.95H332.23ZM336.39,940.5H337.93V959.95H336.39ZM239.38,978.6H240.92V997.75H239.38ZM231.07,1017.2H232.6V1027.15H231.07ZM233.84,1017.2H235.37V1027.15H233.84Z"/>
<path fill="#f9fb0e" d="M359.95,538H361.49V558.45H359.95ZM366.88,538H368.41V558.45H366.88ZM279.57,558.3H281.11V578.75H279.57ZM311.45,558.3H312.98V578.75H311.45ZM365.49,558.3H367.03V578.75H365.49ZM196.42,578.6H199.34V599.45H196.42ZM372.42,578.6H373.96V599.45H372.42ZM190.88,599.3H192.41V615.15H190.88ZM373.81,599.3H379.5V615.15H373.81ZM183.95,615H186.87V634.65H183.95ZM188.11,615H189.64V634.65H188.11ZM181.18,634.5H185.48V653.85H181.18ZM188.11,634.5H189.64V653.85H188.11ZM384.89,634.5H387.82V653.85H384.89ZM177.02,653.7H182.71V673.05H177.02ZM170.09,672.9H175.78V691.45H170.09ZM170.09,691.3H174.4V710.65H170.09ZM161.78,710.5H163.31V730.65H161.78ZM165.93,710.5H168.85V730.65H165.93ZM156.23,730.5H157.77V750.45H156.23ZM160.39,730.5H166.08V750.45H160.39ZM160.39,750.3H161.93V769.65H160.39ZM163.16,750.3H164.7V769.65H163.16ZM157.62,769.5H161.93V787.15H157.62ZM150.69,787H152.22V807.95H150.69ZM154.85,787H156.38V807.95H154.85ZM147.92,807.8H150.84V827.55H147.92ZM262.94,844.2H264.48V863.85H262.94ZM258.78,863.7H264.48V883.15H258.78ZM322.53,863.7H324.07V883.15H322.53ZM251.85,883H257.55V902.15H251.85ZM330.85,883H332.38V902.15H330.85ZM250.47,902H257.55V921.35H250.47ZM326.69,902H332.38V921.35H326.69ZM249.08,921.2H254.78V940.65H249.08ZM330.85,921.2H332.38V940.65H330.85ZM333.62,921.2H335.15V940.65H333.62ZM246.31,940.5H247.85V959.95H246.31ZM249.08,940.5H252V959.95H249.08ZM330.85,940.5H332.38V959.95H330.85ZM333.62,940.5H336.54V959.95H333.62ZM339.16,940.5H340.7V959.95H339.16ZM242.15,959.8H245.08V978.75H242.15ZM336.39,959.8H339.31V978.75H336.39ZM340.55,959.8H342.08V978.75H340.55ZM343.32,959.8H344.86V978.75H343.32ZM340.55,978.6H346.24V997.75H340.55ZM233.84,997.6H235.37V1017.35H233.84ZM238,997.6H239.53V1017.35H238ZM343.32,997.6H349.01V1017.35H343.32ZM229.68,1017.2H231.22V1027.15H229.68ZM232.45,1017.2H233.99V1027.15H232.45ZM344.71,1017.2H346.24V1027.15H344.71ZM347.48,1017.2H349.01V1027.15H347.48ZM350.25,1017.2H351.78V1027.15H350.25Z"/>
<path d="M167.2,528.0v10M167.2,1027.0v-10M262.4,528.0v10M262.4,1027.0v-10M357.6,528.0v10M357.6,1027.0v-10M120.2,652.75h10M452.8,652.75h-10M120.2,777.5h10M452.8,777.5h-10M120.2,902.25h10M452.8,902.25h-10" stroke="#262626" stroke-width="4" fill="none"/>
<line x1="124.3" y1="1028.5" x2="152.6" y2="526.0" stroke="#ff0000" stroke-width="4.4"/>
<rect x="120.2" y="528.0" width="332.6" height="499" fill="none" stroke="#262626" stroke-width="4.6"/>
<path fill="#fff" d="M220.2,547.1L233,538.5L236.1,544.1L236.3,547.9L234.4,552.3Z"/>
<text x="248.3" y="556.7" font-family="'Liberation Sans', Arial, Helvetica, sans-serif" font-size="27" fill="#fff">A</text>
<path fill="#fff" d="M207.4,591.8L220.2,583.2L223.3,588.8L223.5,592.6L221.6,597Z"/>
<text x="239.4" y="601.4" font-family="'Liberation Sans', Arial, Helvetica, sans-serif" font-size="27" fill="#fff">B</text>
<path fill="#fff" d="M196.1,641.5L208.9,632.9L212,638.5L212.2,642.3L210.3,646.7Z"/>
<text x="230.6" y="651.1" font-family="'Liberation Sans', Arial, Helvetica, sans-serif" font-size="27" fill="#fff">C</text>
<path fill="#fff" d="M189.2,685.6L202,677L205.1,682.6L205.3,686.4L203.4,690.8Z"/>
<text x="222.8" y="695.2" font-family="'Liberation Sans', Arial, Helvetica, sans-serif" font-size="27" fill="#fff">D</text>
<path fill="#fff" d="M181.6,732L194.4,723.4L197.5,729L197.7,732.8L195.8,737.2Z"/>
<text x="210.9" y="741.6" font-family="'Liberation Sans', Arial, Helvetica, sans-serif" font-size="27" fill="#fff">E</text>
<defs><linearGradient id="cb" x1="0" y1="0" x2="0" y2="1"><stop offset="0" stop-color="#352a87"/><stop offset="0.02" stop-color="#363093"/><stop offset="0.03" stop-color="#3637a0"/><stop offset="0.05" stop-color="#353dad"/><stop offset="0.06" stop-color="#3243ba"/><stop offset="0.08" stop-color="#2c4ac7"/><stop offset="0.1" stop-color="#2053d4"/><stop offset="0.11" stop-color="#0f5cdd"/><stop offset="0.13" stop-color="#0363e1"/><stop offset="0.14" stop-color="#0268e1"/><stop offset="0.16" stop-color="#046de0"/><stop offset="0.17" stop-color="#0871de"/><stop offset="0.19" stop-color="#0d75dc"/><stop offset="0.21" stop-color="#1079da"/><stop offset="0.22" stop-color="#127dd8"/><stop offset="0.24" stop-color="#1481d6"/><stop offset="0.25" stop-color="#1485d4"/><stop offset="0.27" stop-color="#1389d3"/><stop offset="0.29" stop-color="#108ed2"/><stop offset="0.3" stop-color="#0c93d2"/><stop offset="0.32" stop-color="#0998d1"/><stop offset="0.33" stop-color="#079ccf"/><stop offset="0.35" stop-color="#06a0cd"/><stop offset="0.37" stop-color="#06a4ca"/><stop offset="0.38" stop-color="#06a7c6"/><stop offset="0.4" stop-color="#07a9c2"/><stop offset="0.41" stop-color="#0aacbe"/><stop offset="0.43" stop-color="#0faeb9"/><stop offset="0.44" stop-color="#15b1b4"/><stop offset="0.46" stop-color="#1db3af"/><stop offset="0.48" stop-color="#25b5a9"/><stop offset="0.49" stop-color="#2eb7a4"/><stop offset="0.51" stop-color="#38b99e"/><stop offset="0.52" stop-color="#42bb98"/><stop offset="0.54" stop-color="#4dbc92"/><stop offset="0.56" stop-color="#59bd8c"/><stop offset="0.57" stop-color="#65be86"/><stop offset="0.59" stop-color="#71bf80"/><stop offset="0.6" stop-color="#7cbf7b"/><stop offset="0.62" stop-color="#87bf77"/><stop offset="0.63" stop-color="#92bf73"/><stop offset="0.65" stop-color="#9cbf6f"/><stop offset="0.67" stop-color="#a5be6b"/><stop offset="0.68" stop-color="#aebe67"/><stop offset="0.7" stop-color="#b7bd64"/><stop offset="0.71" stop-color="#c0bc60"/><stop offset="0.73" stop-color="#c8bc5d"/><stop offset="0.75" stop-color="#d1bb59"/><stop offset="0.76" stop-color="#d9ba56"/><stop offset="0.78" stop-color="#e1b952"/><stop offset="0.79" stop-color="#e9b94e"/><stop offset="0.81" stop-color="#f1b94a"/><stop offset="0.83" stop-color="#f8bb44"/><stop offset="0.84" stop-color="#fdbe3d"/><stop offset="0.86" stop-color="#ffc337"/><stop offset="0.87" stop-color="#fec832"/><stop offset="0.89" stop-color="#fcce2e"/><stop offset="0.9" stop-color="#fad32a"/><stop offset="0.92" stop-color="#f7d826"/><stop offset="0.94" stop-color="#f5de21"/><stop offset="0.95" stop-color="#f5e41d"/><stop offset="0.97" stop-color="#f5eb18"/><stop offset="0.98" stop-color="#f6f313"/><stop offset="1" stop-color="#f9fb0e"/></linearGradient></defs>
<rect x="500.5" y="528.0" width="33.8" height="499" fill="url(#cb)" stroke="#262626" stroke-width="4.6"/>
<path d="M534.3,611.17h-7M534.3,694.33h-7M534.3,777.5h-7M534.3,860.67h-7M534.3,943.83h-7" stroke="#262626" stroke-width="3.6" fill="none"/>
<text x="541.8" y="537.7" font-family="'Liberation Sans', Arial, Helvetica, sans-serif" font-size="27" fill="#262626" >0.96</text>
<text x="541.8" y="620.87" font-family="'Liberation Sans', Arial, Helvetica, sans-serif" font-size="27" fill="#262626" >0.95</text>
<text x="541.8" y="704.03" font-family="'Liberation Sans', Arial, Helvetica, sans-serif" font-size="27" fill="#262626" >0.94</text>
<text x="541.8" y="787.2" font-family="'Liberation Sans', Arial, Helvetica, sans-serif" font-size="27" fill="#262626" >0.93</text>
<text x="541.8" y="870.37" font-family="'Liberation Sans', Arial, Helvetica, sans-serif" font-size="27" fill="#262626" >0.92</text>
<text x="541.8" y="953.53" font-family="'Liberation Sans', Arial, Helvetica, sans-serif" font-size="27" fill="#262626" >0.91</text>
<text x="541.8" y="1036.7" font-family="'Liberation Sans', Arial, Helvetica, sans-serif" font-size="27" fill="#262626" >0.9</text>
<text x="109.6" y="538.6" font-family="'Liberation Sans', Arial, Helvetica, sans-serif" font-size="29.5" fill="#262626" text-anchor="end">-2</text>
<text x="109.6" y="663.35" font-family="'Liberation Sans', Arial, Helvetica, sans-serif" font-size="29.5" fill="#262626" text-anchor="end">-1.5</text>
<text x="109.6" y="788.1" font-family="'Liberation Sans', Arial, Helvetica, sans-serif" font-size="29.5" fill="#262626" text-anchor="end">-1</text>
<text x="109.6" y="912.85" font-family="'Liberation Sans', Arial, Helvetica, sans-serif" font-size="29.5" fill="#262626" text-anchor="end">-0.5</text>
<text x="109.6" y="1037.6" font-family="'Liberation Sans', Arial, Helvetica, sans-serif" font-size="29.5" fill="#262626" text-anchor="end">0</text>
<text x="166.4" y="1064.5" font-family="'Liberation Sans', Arial, Helvetica, sans-serif" font-size="29.5" fill="#262626" text-anchor="middle">2600</text>
<text x="261.6" y="1064.5" font-family="'Liberation Sans', Arial, Helvetica, sans-serif" font-size="29.5" fill="#262626" text-anchor="middle">2800</text>
<text x="356.8" y="1064.5" font-family="'Liberation Sans', Arial, Helvetica, sans-serif" font-size="29.5" fill="#262626" text-anchor="middle">3000</text>
<text x="452" y="1064.5" font-family="'Liberation Sans', Arial, Helvetica, sans-serif" font-size="29.5" fill="#262626" text-anchor="middle">3200</text>
<text x="30.3" y="540.8" font-family="'Liberation Sans', Arial, Helvetica, sans-serif" font-size="28.8" fill="#000" >(c)</text>
<text x="445.6" y="506.6" font-family="'Liberation Sans', Arial, Helvetica, sans-serif" font-size="28.3" fill="#000" >ODMR (a.u.)</text>
<text x="215.4" y="1101" font-family="'Liberation Sans', Arial, Helvetica, sans-serif" font-size="31.8" fill="#262626">f<tspan font-size="23" dy="14.5">mw</tspan><tspan dy="-14.5"> (MHz)</tspan></text>
<text transform="translate(34.7,832.6) rotate(-90)" font-family="'Liberation Sans', Arial, Helvetica, sans-serif" font-size="31.8" fill="#262626">B<tspan font-size="22" dy="14" dx="-1">1</tspan><tspan dy="-14"> (mT)</tspan></text>
</g>
<g id="panel-d">
<path d="M673.6,545.4H774.7V590.6H996.6V545.4H1098.7" fill="none" stroke="#70ad47" stroke-width="4.2"/>
<path d="M670.3,589.7H832L832,589.7L832.26,586.91L832.51,584.13L832.77,581.39L833.02,578.7L833.28,576.08L833.53,573.54L833.79,571.1L834.04,568.77L834.3,566.58L834.56,564.53L834.81,562.63L835.07,560.9L835.32,559.35L835.58,557.98L835.83,556.81L836.09,555.84L836.35,555.08L836.6,554.54L836.86,554.21L837.11,554.1L837.37,554.21L837.62,554.54L837.88,555.08L838.13,555.84L838.39,556.81L838.65,557.98L838.9,559.35L839.16,560.9L839.41,562.63L839.67,564.53L839.92,566.58L840.18,568.77L840.44,571.1L840.69,573.54L840.95,576.08L841.2,578.7L841.46,581.39L841.71,584.13L841.97,586.91L842.23,589.7L842.48,592.49L842.74,595.27L842.99,598.01L843.25,600.7L843.5,603.32L843.76,605.86L844.01,608.3L844.27,610.63L844.53,612.82L844.78,614.87L845.04,616.77L845.29,618.5L845.55,620.05L845.8,621.42L846.06,622.59L846.32,623.56L846.57,624.32L846.83,624.86L847.08,625.19L847.34,625.3L847.59,625.19L847.85,624.86L848.1,624.32L848.36,623.56L848.62,622.59L848.87,621.42L849.13,620.05L849.38,618.5L849.64,616.77L849.89,614.87L850.15,612.82L850.4,610.63L850.66,608.3L850.92,605.86L851.17,603.32L851.43,600.7L851.68,598.01L851.94,595.27L852.19,592.49L852.45,589.7L852.71,586.91L852.96,584.13L853.22,581.39L853.47,578.7L853.73,576.08L853.98,573.54L854.24,571.1L854.5,568.77L854.75,566.58L855.01,564.53L855.26,562.63L855.52,560.9L855.77,559.35L856.03,557.98L856.28,556.81L856.54,555.84L856.8,555.08L857.05,554.54L857.31,554.21L857.56,554.1L857.82,554.21L858.07,554.54L858.33,555.08L858.59,555.84L858.84,556.81L859.1,557.98L859.35,559.35L859.61,560.9L859.86,562.63L860.12,564.53L860.37,566.58L860.63,568.77L860.89,571.1L861.14,573.54L861.4,576.08L861.65,578.7L861.91,581.39L862.16,584.13L862.42,586.91L862.67,589.7L862.93,592.49L863.19,595.27L863.44,598.01L863.7,600.7L863.95,603.32L864.21,605.86L864.46,608.3L864.72,610.63L864.98,612.82L865.23,614.87L865.49,616.77L865.74,618.5L866,620.05L866.25,621.42L866.51,622.59L866.76,623.56L867.02,624.32L867.28,624.86L867.53,625.19L867.79,625.3L868.04,625.19L868.3,624.86L868.55,624.32L868.81,623.56L869.07,622.59L869.32,621.42L869.58,620.05L869.83,618.5L870.09,616.77L870.34,614.87L870.6,612.82L870.86,610.63L871.11,608.3L871.37,605.86L871.62,603.32L871.88,600.7L872.13,598.01L872.39,595.27L872.64,592.49L872.9,589.7L873.16,586.91L873.41,584.13L873.67,581.39L873.92,578.7L874.18,576.08L874.43,573.54L874.69,571.1L874.95,568.77L875.2,566.58L875.46,564.53L875.71,562.63L875.97,560.9L876.22,559.35L876.48,557.98L876.73,556.81L876.99,555.84L877.25,555.08L877.5,554.54L877.76,554.21L878.01,554.1L878.27,554.21L878.52,554.54L878.78,555.08L879.03,555.84L879.29,556.81L879.55,557.98L879.8,559.35L880.06,560.9L880.31,562.63L880.57,564.53L880.82,566.58L881.08,568.77L881.34,571.1L881.59,573.54L881.85,576.08L882.1,578.7L882.36,581.39L882.61,584.13L882.87,586.91L883.12,589.7L883.38,592.49L883.64,595.27L883.89,598.01L884.15,600.7L884.4,603.32L884.66,605.86L884.91,608.3L885.17,610.63L885.43,612.82L885.68,614.87L885.94,616.77L886.19,618.5L886.45,620.05L886.7,621.42L886.96,622.59L887.22,623.56L887.47,624.32L887.73,624.86L887.98,625.19L888.24,625.3L888.49,625.19L888.75,624.86L889,624.32L889.26,623.56L889.52,622.59L889.77,621.42L890.03,620.05L890.28,618.5L890.54,616.77L890.79,614.87L891.05,612.82L891.3,610.63L891.56,608.3L891.82,605.86L892.07,603.32L892.33,600.7L892.58,598.01L892.84,595.27L893.09,592.49L893.35,589.7L893.61,586.91L893.86,584.13L894.12,581.39L894.37,578.7L894.63,576.08L894.88,573.54L895.14,571.1L895.39,568.77L895.65,566.58L895.91,564.53L896.16,562.63L896.42,560.9L896.67,559.35L896.93,557.98L897.18,556.81L897.44,555.84L897.7,555.08L897.95,554.54L898.21,554.21L898.46,554.1L898.72,554.21L898.97,554.54L899.23,555.08L899.49,555.84L899.74,556.81L900,557.98L900.25,559.35L900.51,560.9L900.76,562.63L901.02,564.53L901.27,566.58L901.53,568.77L901.79,571.1L902.04,573.54L902.3,576.08L902.55,578.7L902.81,581.39L903.06,584.13L903.32,586.91L903.58,589.7L903.83,592.49L904.09,595.27L904.34,598.01L904.6,600.7L904.85,603.32L905.11,605.86L905.36,608.3L905.62,610.63L905.88,612.82L906.13,614.87L906.39,616.77L906.64,618.5L906.9,620.05L907.15,621.42L907.41,622.59L907.66,623.56L907.92,624.32L908.18,624.86L908.43,625.19L908.69,625.3L908.94,625.19L909.2,624.86L909.45,624.32L909.71,623.56L909.97,622.59L910.22,621.42L910.48,620.05L910.73,618.5L910.99,616.77L911.24,614.87L911.5,612.82L911.75,610.63L912.01,608.3L912.27,605.86L912.52,603.32L912.78,600.7L913.03,598.01L913.29,595.27L913.54,592.49L913.8,589.7L914.06,586.91L914.31,584.13L914.57,581.39L914.82,578.7L915.08,576.08L915.33,573.54L915.59,571.1L915.85,568.77L916.1,566.58L916.36,564.53L916.61,562.63L916.87,560.9L917.12,559.35L917.38,557.98L917.63,556.81L917.89,555.84L918.15,555.08L918.4,554.54L918.66,554.21L918.91,554.1L919.17,554.21L919.42,554.54L919.68,555.08L919.93,555.84L920.19,556.81L920.45,557.98L920.7,559.35L920.96,560.9L921.21,562.63L921.47,564.53L921.72,566.58L921.98,568.77L922.24,571.1L922.49,573.54L922.75,576.08L923,578.7L923.26,581.39L923.51,584.13L923.77,586.91L924.02,589.7L924.28,592.49L924.54,595.27L924.79,598.01L925.05,600.7L925.3,603.32L925.56,605.86L925.81,608.3L926.07,610.63L926.33,612.82L926.58,614.87L926.84,616.77L927.09,618.5L927.35,620.05L927.6,621.42L927.86,622.59L928.12,623.56L928.37,624.32L928.63,624.86L928.88,625.19L929.14,625.3L929.39,625.19L929.65,624.86L929.9,624.32L930.16,623.56L930.42,622.59L930.67,621.42L930.93,620.05L931.18,618.5L931.44,616.77L931.69,614.87L931.95,612.82L932.21,610.63L932.46,608.3L932.72,605.86L932.97,603.32L933.23,600.7L933.48,598.01L933.74,595.27L933.99,592.49L934.25,589.7H1103.2" fill="none" stroke="#ff0000" stroke-width="5.2" stroke-linejoin="round"/>
<path fill="#000" d="M833.8,532.3h5v5.8h84.4v-5.8h5v18.2h-5v-7.8h-84.4v7.8h-5z"/>
<text x="875" y="530.4" font-family="'Liberation Sans', Arial, Helvetica, sans-serif" font-size="28" fill="#000">t<tspan font-size="18.5" dy="5">p</tspan></text>
<text x="674" y="542.6" font-family="'Liberation Sans', Arial, Helvetica, sans-serif" font-size="28" fill="#000" textLength="101.8" lengthAdjust="spacingAndGlyphs">Polarize</text>
<text x="993.4" y="542.2" font-family="'Liberation Sans', Arial, Helvetica, sans-serif" font-size="28" fill="#000" textLength="106" lengthAdjust="spacingAndGlyphs">Readout</text>
<text x="614.6" y="542.7" font-family="'Liberation Sans', Arial, Helvetica, sans-serif" font-size="28.8" fill="#000">(d)</text>
<clipPath id="dclip"><rect x="687.8" y="641.0" width="382.7" height="383.2"/></clipPath>
<g clip-path="url(#dclip)">
<path d="M687.8,682.0H1070.5M687.8,744.8H1070.5M687.8,807.8H1070.5M687.8,870.6H1070.5M687.8,933.4H1070.5M687.8,996.5H1070.5" stroke="#ff0000" stroke-width="5.6" stroke-dasharray="20.8,18.5" fill="none"/>
</g>
<path d="M879.15,641.0v10M879.15,1024.2v-10" stroke="#262626" stroke-width="4" fill="none"/>
<rect x="687.8" y="641.0" width="382.7" height="383.2" fill="none" stroke="#262626" stroke-width="4.8"/>
<g fill="none" stroke="#1473c2" stroke-width="1.6"><circle cx="687.8" cy="647.86" r="5.4"/><circle cx="695.45" cy="644.99" r="5.4"/><circle cx="703.11" cy="659.78" r="5.4"/><circle cx="710.76" cy="651.3" r="5.4"/><circle cx="718.42" cy="653.27" r="5.4"/><circle cx="726.07" cy="658.74" r="5.4"/><circle cx="733.72" cy="665.45" r="5.4"/><circle cx="741.38" cy="663.49" r="5.4"/><circle cx="749.03" cy="679.47" r="5.4"/><circle cx="756.69" cy="678.86" r="5.4"/><circle cx="764.34" cy="675.08" r="5.4"/><circle cx="771.99" cy="682" r="5.4"/><circle cx="779.65" cy="693.5" r="5.4"/><circle cx="787.3" cy="691.76" r="5.4"/><circle cx="794.96" cy="697.27" r="5.4"/><circle cx="802.61" cy="699.09" r="5.4"/><circle cx="810.26" cy="704.15" r="5.4"/><circle cx="817.92" cy="708.5" r="5.4"/><circle cx="825.57" cy="716.6" r="5.4"/><circle cx="833.23" cy="718.44" r="5.4"/><circle cx="840.88" cy="707.36" r="5.4"/><circle cx="848.53" cy="712.09" r="5.4"/><circle cx="856.19" cy="716.19" r="5.4"/><circle cx="863.84" cy="711.19" r="5.4"/><circle cx="871.5" cy="703.18" r="5.4"/><circle cx="879.15" cy="703.74" r="5.4"/><circle cx="886.8" cy="692.24" r="5.4"/><circle cx="894.46" cy="698.83" r="5.4"/><circle cx="902.11" cy="700.68" r="5.4"/><circle cx="909.77" cy="684.61" r="5.4"/><circle cx="917.42" cy="684.47" r="5.4"/><circle cx="925.07" cy="670.16" r="5.4"/><circle cx="932.73" cy="669.73" r="5.4"/><circle cx="940.38" cy="664.4" r="5.4"/><circle cx="948.04" cy="669.88" r="5.4"/><circle cx="955.69" cy="669.96" r="5.4"/><circle cx="963.34" cy="651.44" r="5.4"/><circle cx="971" cy="649.02" r="5.4"/><circle cx="978.65" cy="650.95" r="5.4"/><circle cx="986.31" cy="652.88" r="5.4"/><circle cx="993.96" cy="651.88" r="5.4"/><circle cx="1001.61" cy="657.72" r="5.4"/><circle cx="1009.27" cy="660.83" r="5.4"/><circle cx="1016.92" cy="659.04" r="5.4"/><circle cx="1024.58" cy="659.48" r="5.4"/><circle cx="1032.23" cy="662.35" r="5.4"/><circle cx="1039.88" cy="666.61" r="5.4"/><circle cx="1047.54" cy="679.28" r="5.4"/><circle cx="1055.19" cy="676.89" r="5.4"/><circle cx="1062.85" cy="686.91" r="5.4"/><circle cx="1070.5" cy="690.06" r="5.4"/><circle cx="687.8" cy="719.43" r="5.4"/><circle cx="695.45" cy="718.58" r="5.4"/><circle cx="703.11" cy="730.98" r="5.4"/><circle cx="710.76" cy="724.87" r="5.4"/><circle cx="718.42" cy="720.69" r="5.4"/><circle cx="726.07" cy="726.09" r="5.4"/><circle cx="733.72" cy="728.92" r="5.4"/><circle cx="741.38" cy="751.85" r="5.4"/><circle cx="749.03" cy="745.64" r="5.4"/><circle cx="756.69" cy="755.91" r="5.4"/><circle cx="764.34" cy="749.53" r="5.4"/><circle cx="771.99" cy="756.5" r="5.4"/><circle cx="779.65" cy="754.09" r="5.4"/><circle cx="787.3" cy="768.98" r="5.4"/><circle cx="794.96" cy="767.32" r="5.4"/><circle cx="802.61" cy="767.92" r="5.4"/><circle cx="810.26" cy="783.14" r="5.4"/><circle cx="817.92" cy="778.35" r="5.4"/><circle cx="825.57" cy="777.49" r="5.4"/><circle cx="833.23" cy="774.84" r="5.4"/><circle cx="840.88" cy="757.95" r="5.4"/><circle cx="848.53" cy="758.71" r="5.4"/><circle cx="856.19" cy="748.95" r="5.4"/><circle cx="863.84" cy="736.42" r="5.4"/><circle cx="871.5" cy="739.44" r="5.4"/><circle cx="879.15" cy="734.88" r="5.4"/><circle cx="886.8" cy="729.44" r="5.4"/><circle cx="894.46" cy="719.54" r="5.4"/><circle cx="902.11" cy="721.48" r="5.4"/><circle cx="909.77" cy="721.11" r="5.4"/><circle cx="917.42" cy="717.5" r="5.4"/><circle cx="925.07" cy="719.33" r="5.4"/><circle cx="932.73" cy="721.1" r="5.4"/><circle cx="940.38" cy="714.39" r="5.4"/><circle cx="948.04" cy="719.1" r="5.4"/><circle cx="955.69" cy="728.95" r="5.4"/><circle cx="963.34" cy="733.4" r="5.4"/><circle cx="971" cy="725.97" r="5.4"/><circle cx="978.65" cy="740.36" r="5.4"/><circle cx="986.31" cy="747.56" r="5.4"/><circle cx="993.96" cy="755.02" r="5.4"/><circle cx="1001.61" cy="759.53" r="5.4"/><circle cx="1009.27" cy="764.33" r="5.4"/><circle cx="1016.92" cy="764.54" r="5.4"/><circle cx="1024.58" cy="778.62" r="5.4"/><circle cx="1032.23" cy="776.34" r="5.4"/><circle cx="1039.88" cy="776.67" r="5.4"/><circle cx="1047.54" cy="771.13" r="5.4"/><circle cx="1055.19" cy="774.83" r="5.4"/><circle cx="1062.85" cy="761.2" r="5.4"/><circle cx="1070.5" cy="752.63" r="5.4"/><circle cx="687.8" cy="776.63" r="5.4"/><circle cx="695.45" cy="778" r="5.4"/><circle cx="703.11" cy="794.13" r="5.4"/><circle cx="710.76" cy="781.97" r="5.4"/><circle cx="718.42" cy="798.71" r="5.4"/><circle cx="726.07" cy="801.46" r="5.4"/><circle cx="733.72" cy="819.81" r="5.4"/><circle cx="741.38" cy="813.83" r="5.4"/><circle cx="749.03" cy="822.36" r="5.4"/><circle cx="756.69" cy="838.63" r="5.4"/><circle cx="764.34" cy="833.43" r="5.4"/><circle cx="771.99" cy="833.02" r="5.4"/><circle cx="779.65" cy="836.56" r="5.4"/><circle cx="787.3" cy="822.51" r="5.4"/><circle cx="794.96" cy="826.02" r="5.4"/><circle cx="802.61" cy="813.35" r="5.4"/><circle cx="810.26" cy="811.36" r="5.4"/><circle cx="817.92" cy="791.68" r="5.4"/><circle cx="825.57" cy="791.07" r="5.4"/><circle cx="833.23" cy="780.55" r="5.4"/><circle cx="840.88" cy="778.18" r="5.4"/><circle cx="848.53" cy="781.18" r="5.4"/><circle cx="856.19" cy="783.93" r="5.4"/><circle cx="863.84" cy="789.34" r="5.4"/><circle cx="871.5" cy="793.5" r="5.4"/><circle cx="879.15" cy="799.4" r="5.4"/><circle cx="886.8" cy="811.85" r="5.4"/><circle cx="894.46" cy="812.35" r="5.4"/><circle cx="902.11" cy="819.81" r="5.4"/><circle cx="909.77" cy="823.91" r="5.4"/><circle cx="917.42" cy="834.53" r="5.4"/><circle cx="925.07" cy="842.82" r="5.4"/><circle cx="932.73" cy="837.06" r="5.4"/><circle cx="940.38" cy="836.98" r="5.4"/><circle cx="948.04" cy="824.4" r="5.4"/><circle cx="955.69" cy="817.52" r="5.4"/><circle cx="963.34" cy="813.35" r="5.4"/><circle cx="971" cy="802.89" r="5.4"/><circle cx="978.65" cy="787.98" r="5.4"/><circle cx="986.31" cy="797.38" r="5.4"/><circle cx="993.96" cy="793.96" r="5.4"/><circle cx="1001.61" cy="782.39" r="5.4"/><circle cx="1009.27" cy="790.3" r="5.4"/><circle cx="1016.92" cy="779.09" r="5.4"/><circle cx="1024.58" cy="780.19" r="5.4"/><circle cx="1032.23" cy="784.92" r="5.4"/><circle cx="1039.88" cy="794.28" r="5.4"/><circle cx="1047.54" cy="801.02" r="5.4"/><circle cx="1055.19" cy="826.24" r="5.4"/><circle cx="1062.85" cy="823.28" r="5.4"/><circle cx="1070.5" cy="831.83" r="5.4"/><circle cx="687.8" cy="828.34" r="5.4"/><circle cx="695.45" cy="854.68" r="5.4"/><circle cx="703.11" cy="844.4" r="5.4"/><circle cx="710.76" cy="854.46" r="5.4"/><circle cx="718.42" cy="853.59" r="5.4"/><circle cx="726.07" cy="861.88" r="5.4"/><circle cx="733.72" cy="867.11" r="5.4"/><circle cx="741.38" cy="875.56" r="5.4"/><circle cx="749.03" cy="886.07" r="5.4"/><circle cx="756.69" cy="882" r="5.4"/><circle cx="764.34" cy="899.03" r="5.4"/><circle cx="771.99" cy="892.54" r="5.4"/><circle cx="779.65" cy="898.08" r="5.4"/><circle cx="787.3" cy="905.21" r="5.4"/><circle cx="794.96" cy="895.82" r="5.4"/><circle cx="802.61" cy="887.84" r="5.4"/><circle cx="810.26" cy="876.23" r="5.4"/><circle cx="817.92" cy="868.4" r="5.4"/><circle cx="825.57" cy="860.34" r="5.4"/><circle cx="833.23" cy="859.64" r="5.4"/><circle cx="840.88" cy="861.07" r="5.4"/><circle cx="848.53" cy="854.89" r="5.4"/><circle cx="856.19" cy="850.85" r="5.4"/><circle cx="863.84" cy="840.03" r="5.4"/><circle cx="871.5" cy="846.6" r="5.4"/><circle cx="879.15" cy="843.79" r="5.4"/><circle cx="886.8" cy="846.17" r="5.4"/><circle cx="894.46" cy="852.17" r="5.4"/><circle cx="902.11" cy="866.18" r="5.4"/><circle cx="909.77" cy="882.92" r="5.4"/><circle cx="917.42" cy="872.1" r="5.4"/><circle cx="925.07" cy="884.68" r="5.4"/><circle cx="932.73" cy="881.62" r="5.4"/><circle cx="940.38" cy="889.63" r="5.4"/><circle cx="948.04" cy="900.3" r="5.4"/><circle cx="955.69" cy="905.56" r="5.4"/><circle cx="963.34" cy="891.77" r="5.4"/><circle cx="971" cy="901.85" r="5.4"/><circle cx="978.65" cy="895.62" r="5.4"/><circle cx="986.31" cy="887.08" r="5.4"/><circle cx="993.96" cy="876.52" r="5.4"/><circle cx="1001.61" cy="869.45" r="5.4"/><circle cx="1009.27" cy="852.74" r="5.4"/><circle cx="1016.92" cy="856.27" r="5.4"/><circle cx="1024.58" cy="851.73" r="5.4"/><circle cx="1032.23" cy="840.25" r="5.4"/><circle cx="1039.88" cy="848.24" r="5.4"/><circle cx="1047.54" cy="847.73" r="5.4"/><circle cx="1055.19" cy="840.81" r="5.4"/><circle cx="1062.85" cy="844.6" r="5.4"/><circle cx="1070.5" cy="846.4" r="5.4"/><circle cx="687.8" cy="899.43" r="5.4"/><circle cx="695.45" cy="898.07" r="5.4"/><circle cx="703.11" cy="903.34" r="5.4"/><circle cx="710.76" cy="903.43" r="5.4"/><circle cx="718.42" cy="913.71" r="5.4"/><circle cx="726.07" cy="911.57" r="5.4"/><circle cx="733.72" cy="915.18" r="5.4"/><circle cx="741.38" cy="939.01" r="5.4"/><circle cx="749.03" cy="932.31" r="5.4"/><circle cx="756.69" cy="946.9" r="5.4"/><circle cx="764.34" cy="951.92" r="5.4"/><circle cx="771.99" cy="947.3" r="5.4"/><circle cx="779.65" cy="949.47" r="5.4"/><circle cx="787.3" cy="970.59" r="5.4"/><circle cx="794.96" cy="964.96" r="5.4"/><circle cx="802.61" cy="957.37" r="5.4"/><circle cx="810.26" cy="951.58" r="5.4"/><circle cx="817.92" cy="964.48" r="5.4"/><circle cx="825.57" cy="959" r="5.4"/><circle cx="833.23" cy="948.42" r="5.4"/><circle cx="840.88" cy="948.76" r="5.4"/><circle cx="848.53" cy="934.45" r="5.4"/><circle cx="856.19" cy="931.92" r="5.4"/><circle cx="863.84" cy="921.08" r="5.4"/><circle cx="871.5" cy="920.67" r="5.4"/><circle cx="879.15" cy="916.36" r="5.4"/><circle cx="886.8" cy="909.93" r="5.4"/><circle cx="894.46" cy="902.18" r="5.4"/><circle cx="902.11" cy="904.08" r="5.4"/><circle cx="909.77" cy="894.8" r="5.4"/><circle cx="917.42" cy="904.97" r="5.4"/><circle cx="925.07" cy="899.07" r="5.4"/><circle cx="932.73" cy="901.73" r="5.4"/><circle cx="940.38" cy="914.74" r="5.4"/><circle cx="948.04" cy="930.23" r="5.4"/><circle cx="955.69" cy="922.91" r="5.4"/><circle cx="963.34" cy="931.64" r="5.4"/><circle cx="971" cy="939.18" r="5.4"/><circle cx="978.65" cy="941.13" r="5.4"/><circle cx="986.31" cy="943.73" r="5.4"/><circle cx="993.96" cy="945.96" r="5.4"/><circle cx="1001.61" cy="944.53" r="5.4"/><circle cx="1009.27" cy="948.78" r="5.4"/><circle cx="1016.92" cy="952.8" r="5.4"/><circle cx="1024.58" cy="964.9" r="5.4"/><circle cx="1032.23" cy="966.04" r="5.4"/><circle cx="1039.88" cy="963.3" r="5.4"/><circle cx="1047.54" cy="957.03" r="5.4"/><circle cx="1055.19" cy="942.67" r="5.4"/><circle cx="1062.85" cy="954.37" r="5.4"/><circle cx="1070.5" cy="935.23" r="5.4"/></g>
<path d="M687.8,653.41L690.19,653.27L692.58,653.2L694.98,653.22L697.37,653.3L699.76,653.47L702.15,653.71L704.54,654.02L706.93,654.41L709.33,654.87L711.72,655.4L714.11,656L716.5,656.67L718.89,657.41L721.29,658.21L723.68,659.07L726.07,660L728.46,660.98L730.85,662.02L733.25,663.11L735.64,664.25L738.03,665.44L740.42,666.67L742.81,667.94L745.2,669.25L747.6,670.59L749.99,671.96L752.38,673.36L754.77,674.78L757.16,676.22L759.56,677.67L761.95,679.14L764.34,680.61L766.73,682.09L769.12,683.57L771.52,685.04L773.91,686.51L776.3,687.96L778.69,689.4L781.08,690.82L783.47,692.21L785.87,693.58L788.26,694.92L790.65,696.22L793.04,697.49L795.43,698.72L797.83,699.9L800.22,701.03L802.61,702.11L805,703.15L807.39,704.12L809.79,705.04L812.18,705.89L814.57,706.69L816.96,707.42L819.35,708.08L821.75,708.67L824.14,709.19L826.53,709.64L828.92,710.02L831.31,710.33L833.7,710.56L836.1,710.71L838.49,710.79L840.88,710.79L843.27,710.72L845.66,710.57L848.06,710.35L850.45,710.05L852.84,709.68L855.23,709.23L857.62,708.71L860.01,708.13L862.41,707.47L864.8,706.75L867.19,705.96L869.58,705.1L871.97,704.19L874.37,703.22L876.76,702.19L879.15,701.11L881.54,699.98L883.93,698.81L886.33,697.58L888.72,696.32L891.11,695.02L893.5,693.68L895.89,692.32L898.28,690.92L900.68,689.51L903.07,688.07L905.46,686.62L907.85,685.15L910.24,683.68L912.64,682.2L915.03,680.73L917.42,679.25L919.81,677.78L922.2,676.33L924.6,674.89L926.99,673.46L929.38,672.06L931.77,670.69L934.16,669.35L936.55,668.03L938.95,666.76L941.34,665.53L943.73,664.34L946.12,663.19L948.51,662.1L950.91,661.06L953.3,660.07L955.69,659.14L958.08,658.27L960.47,657.47L962.87,656.72L965.26,656.05L967.65,655.44L970.04,654.91L972.43,654.44L974.83,654.05L977.22,653.73L979.61,653.48L982,653.31L984.39,653.22L986.78,653.2L989.18,653.26L991.57,653.39L993.96,653.6L996.35,653.89L998.74,654.24L1001.14,654.68L1003.53,655.18L1005.92,655.75L1008.31,656.39L1010.7,657.1L1013.1,657.88L1015.49,658.72L1017.88,659.62L1020.27,660.58L1022.66,661.6L1025.05,662.67L1027.45,663.79L1029.84,664.96L1032.23,666.17L1034.62,667.42L1037.01,668.72L1039.41,670.05L1041.8,671.41L1044.19,672.79L1046.58,674.21L1048.97,675.64L1051.37,677.09L1053.76,678.55L1056.15,680.02L1058.54,681.5L1060.93,682.98L1063.32,684.45L1065.72,685.92L1068.11,687.38L1070.5,688.83" fill="none" stroke="#ff0000" stroke-width="3.6" stroke-linejoin="round"/>
<path d="M687.8,716L690.19,716.06L692.58,716.24L694.98,716.54L697.37,716.96L699.76,717.49L702.15,718.14L704.54,718.89L706.93,719.76L709.33,720.73L711.72,721.8L714.11,722.97L716.5,724.23L718.89,725.57L721.29,726.99L723.68,728.49L726.07,730.06L728.46,731.69L730.85,733.37L733.25,735.1L735.64,736.87L738.03,738.67L740.42,740.5L742.81,742.35L745.2,744.2L747.6,746.06L749.99,747.92L752.38,749.76L754.77,751.58L757.16,753.37L759.56,755.13L761.95,756.84L764.34,758.51L766.73,760.11L769.12,761.66L771.52,763.13L773.91,764.52L776.3,765.84L778.69,767.06L781.08,768.2L783.47,769.23L785.87,770.16L788.26,770.99L790.65,771.71L793.04,772.32L795.43,772.81L797.83,773.18L800.22,773.44L802.61,773.58L805,773.59L807.39,773.49L809.79,773.27L812.18,772.92L814.57,772.47L816.96,771.89L819.35,771.2L821.75,770.41L824.14,769.5L826.53,768.5L828.92,767.39L831.31,766.19L833.7,764.9L836.1,763.53L838.49,762.08L840.88,760.55L843.27,758.96L845.66,757.32L848.06,755.61L850.45,753.87L852.84,752.09L855.23,750.27L857.62,748.44L860.01,746.58L862.41,744.73L864.8,742.87L867.19,741.02L869.58,739.18L871.97,737.37L874.37,735.59L876.76,733.85L879.15,732.15L881.54,730.51L883.93,728.92L886.33,727.41L888.72,725.96L891.11,724.59L893.5,723.31L895.89,722.12L898.28,721.02L900.68,720.02L903.07,719.13L905.46,718.34L907.85,717.66L910.24,717.09L912.64,716.64L915.03,716.31L917.42,716.1L919.81,716L922.2,716.03L924.6,716.18L926.99,716.44L929.38,716.83L931.77,717.33L934.16,717.94L936.55,718.67L938.95,719.51L941.34,720.45L943.73,721.49L946.12,722.63L948.51,723.86L950.91,725.19L953.3,726.59L955.69,728.06L958.08,729.61L960.47,731.22L962.87,732.89L965.26,734.61L967.65,736.37L970.04,738.16L972.43,739.99L974.83,741.83L977.22,743.68L979.61,745.54L982,747.4L984.39,749.25L986.78,751.07L989.18,752.87L991.57,754.64L993.96,756.37L996.35,758.05L998.74,759.67L1001.14,761.23L1003.53,762.72L1005.92,764.14L1008.31,765.48L1010.7,766.73L1013.1,767.89L1015.49,768.95L1017.88,769.91L1020.27,770.77L1022.66,771.52L1025.05,772.16L1027.45,772.68L1029.84,773.09L1032.23,773.38L1034.62,773.55L1037.01,773.6L1039.41,773.53L1041.8,773.34L1044.19,773.03L1046.58,772.61L1048.97,772.06L1051.37,771.41L1053.76,770.64L1056.15,769.77L1058.54,768.79L1060.93,767.71L1063.32,766.53L1065.72,765.27L1068.11,763.92L1070.5,762.49" fill="none" stroke="#ff0000" stroke-width="3.6" stroke-linejoin="round"/>
<path d="M687.8,779.8L690.19,779.92L692.58,780.28L694.98,780.88L697.37,781.72L699.76,782.78L702.15,784.05L704.54,785.53L706.93,787.21L709.33,789.06L711.72,791.07L714.11,793.23L716.5,795.52L718.89,797.91L721.29,800.39L723.68,802.93L726.07,805.51L728.46,808.11L730.85,810.71L733.25,813.29L735.64,815.82L738.03,818.27L740.42,820.64L742.81,822.9L745.2,825.02L747.6,827L749.99,828.81L752.38,830.44L754.77,831.87L757.16,833.1L759.56,834.1L761.95,834.88L764.34,835.43L766.73,835.73L769.12,835.79L771.52,835.61L773.91,835.19L776.3,834.54L778.69,833.65L781.08,832.54L783.47,831.21L785.87,829.68L788.26,827.96L790.65,826.07L793.04,824.02L795.43,821.83L797.83,819.52L800.22,817.1L802.61,814.61L805,812.06L807.39,809.47L809.79,806.86L812.18,804.27L814.57,801.7L816.96,799.19L819.35,796.75L821.75,794.41L824.14,792.18L826.53,790.09L828.92,788.15L831.31,786.38L833.7,784.8L836.1,783.41L838.49,782.24L840.88,781.29L843.27,780.57L845.66,780.08L848.06,779.83L850.45,779.83L852.84,780.07L855.23,780.54L857.62,781.26L860.01,782.2L862.41,783.36L864.8,784.74L867.19,786.31L869.58,788.07L871.97,790.01L874.37,792.09L876.76,794.31L879.15,796.65L881.54,799.09L883.93,801.6L886.33,804.16L888.72,806.76L891.11,809.36L893.5,811.95L895.89,814.51L898.28,817.01L900.68,819.42L903.07,821.74L905.46,823.94L907.85,825.99L910.24,827.89L912.64,829.62L915.03,831.15L917.42,832.49L919.81,833.61L922.2,834.51L924.6,835.17L926.99,835.6L929.38,835.79L931.77,835.74L934.16,835.44L936.55,834.91L938.95,834.14L941.34,833.14L943.73,831.93L946.12,830.5L948.51,828.88L950.91,827.08L953.3,825.11L955.69,822.99L958.08,820.73L960.47,818.37L962.87,815.92L965.26,813.39L967.65,810.82L970.04,808.22L972.43,805.61L974.83,803.03L977.22,800.49L979.61,798.01L982,795.61L984.39,793.32L986.78,791.16L989.18,789.14L991.57,787.28L993.96,785.6L996.35,784.11L998.74,782.82L1001.14,781.76L1003.53,780.91L1005.92,780.3L1008.31,779.93L1010.7,779.8L1013.1,779.91L1015.49,780.26L1017.88,780.86L1020.27,781.68L1022.66,782.73L1025.05,784L1027.45,785.47L1029.84,787.14L1032.23,788.98L1034.62,790.99L1037.01,793.14L1039.41,795.42L1041.8,797.81L1044.19,800.28L1046.58,802.82L1048.97,805.41L1051.37,808.01L1053.76,810.61L1056.15,813.19L1058.54,815.72L1060.93,818.18L1063.32,820.55L1065.72,822.81L1068.11,824.94L1070.5,826.92" fill="none" stroke="#ff0000" stroke-width="3.6" stroke-linejoin="round"/>
<path d="M687.8,842.8L690.19,842.9L692.58,843.19L694.98,843.68L697.37,844.35L699.76,845.21L702.15,846.25L704.54,847.46L706.93,848.83L709.33,850.36L711.72,852.03L714.11,853.82L716.5,855.74L718.89,857.76L721.29,859.88L723.68,862.06L726.07,864.31L728.46,866.6L730.85,868.92L733.25,871.25L735.64,873.58L738.03,875.89L740.42,878.16L742.81,880.37L745.2,882.52L747.6,884.58L749.99,886.55L752.38,888.4L754.77,890.13L757.16,891.72L759.56,893.16L761.95,894.44L764.34,895.55L766.73,896.49L769.12,897.25L771.52,897.82L773.91,898.2L776.3,898.38L778.69,898.37L781.08,898.16L783.47,897.76L785.87,897.17L788.26,896.39L790.65,895.43L793.04,894.29L795.43,892.99L797.83,891.53L800.22,889.92L802.61,888.18L805,886.32L807.39,884.34L809.79,882.26L812.18,880.11L814.57,877.89L816.96,875.61L819.35,873.3L821.75,870.97L824.14,868.64L826.53,866.32L828.92,864.04L831.31,861.8L833.7,859.62L836.1,857.52L838.49,855.51L840.88,853.6L843.27,851.82L845.66,850.17L848.06,848.66L850.45,847.31L852.84,846.12L855.23,845.1L857.62,844.26L860.01,843.61L862.41,843.15L864.8,842.88L867.19,842.8L869.58,842.92L871.97,843.24L874.37,843.75L876.76,844.44L879.15,845.33L881.54,846.39L883.93,847.62L886.33,849.01L888.72,850.55L891.11,852.24L893.5,854.05L895.89,855.98L898.28,858.01L900.68,860.13L903.07,862.33L905.46,864.58L907.85,866.88L910.24,869.2L912.64,871.53L915.03,873.86L917.42,876.16L919.81,878.42L922.2,880.63L924.6,882.77L926.99,884.82L929.38,886.77L931.77,888.61L934.16,890.32L936.55,891.9L938.95,893.32L941.34,894.58L943.73,895.68L946.12,896.59L948.51,897.33L950.91,897.87L953.3,898.23L955.69,898.39L958.08,898.35L960.47,898.12L962.87,897.7L965.26,897.09L967.65,896.28L970.04,895.3L972.43,894.15L974.83,892.82L977.22,891.35L979.61,889.72L982,887.96L984.39,886.08L986.78,884.09L989.18,882.01L991.57,879.84L993.96,877.61L996.35,875.34L998.74,873.02L1001.14,870.69L1003.53,868.36L1005.92,866.05L1008.31,863.77L1010.7,861.53L1013.1,859.36L1015.49,857.27L1017.88,855.27L1020.27,853.38L1022.66,851.61L1025.05,849.98L1027.45,848.49L1029.84,847.15L1032.23,845.98L1034.62,844.99L1037.01,844.17L1039.41,843.54L1041.8,843.1L1044.19,842.86L1046.58,842.81L1048.97,842.95L1051.37,843.29L1053.76,843.82L1056.15,844.54L1058.54,845.44L1060.93,846.52L1063.32,847.77L1065.72,849.18L1068.11,850.75L1070.5,852.45" fill="none" stroke="#ff0000" stroke-width="3.6" stroke-linejoin="round"/>
<path d="M687.8,905.4L690.19,905.46L692.58,905.65L694.98,905.96L697.37,906.39L699.76,906.95L702.15,907.62L704.54,908.4L706.93,909.3L709.33,910.31L711.72,911.42L714.11,912.62L716.5,913.92L718.89,915.31L721.29,916.77L723.68,918.31L726.07,919.92L728.46,921.59L730.85,923.31L733.25,925.08L735.64,926.88L738.03,928.71L740.42,930.56L742.81,932.43L745.2,934.3L747.6,936.16L749.99,938.02L752.38,939.85L754.77,941.65L757.16,943.42L759.56,945.14L761.95,946.81L764.34,948.42L766.73,949.97L769.12,951.44L771.52,952.83L773.91,954.13L776.3,955.34L778.69,956.45L781.08,957.46L783.47,958.36L785.87,959.15L788.26,959.83L790.65,960.39L793.04,960.82L795.43,961.14L797.83,961.33L800.22,961.4L802.61,961.34L805,961.16L807.39,960.85L809.79,960.43L812.18,959.88L814.57,959.21L816.96,958.43L819.35,957.54L821.75,956.53L824.14,955.43L826.53,954.23L828.92,952.93L831.31,951.55L833.7,950.09L836.1,948.55L838.49,946.94L840.88,945.28L843.27,943.56L845.66,941.8L848.06,939.99L850.45,938.16L852.84,936.31L855.23,934.45L857.62,932.58L860.01,930.71L862.41,928.86L864.8,927.02L867.19,925.22L869.58,923.45L871.97,921.73L874.37,920.05L876.76,918.44L879.15,916.89L881.54,915.42L883.93,914.03L886.33,912.72L888.72,911.51L891.11,910.39L893.5,909.38L895.89,908.47L898.28,907.68L900.68,907L903.07,906.43L905.46,905.99L907.85,905.67L910.24,905.47L912.64,905.4L915.03,905.45L917.42,905.63L919.81,905.93L922.2,906.35L924.6,906.9L926.99,907.56L929.38,908.34L931.77,909.23L934.16,910.22L936.55,911.32L938.95,912.52L941.34,913.81L943.73,915.19L946.12,916.65L948.51,918.19L950.91,919.79L953.3,921.45L955.69,923.17L958.08,924.93L960.47,926.73L962.87,928.56L965.26,930.41L967.65,932.28L970.04,934.15L972.43,936.01L974.83,937.87L977.22,939.7L979.61,941.51L982,943.28L984.39,945.01L986.78,946.68L989.18,948.3L991.57,949.85L993.96,951.32L996.35,952.72L998.74,954.03L1001.14,955.24L1003.53,956.36L1005.92,957.38L1008.31,958.29L1010.7,959.09L1013.1,959.78L1015.49,960.35L1017.88,960.79L1020.27,961.12L1022.66,961.32L1025.05,961.4L1027.45,961.35L1029.84,961.18L1032.23,960.88L1034.62,960.47L1037.01,959.93L1039.41,959.27L1041.8,958.5L1044.19,957.61L1046.58,956.62L1048.97,955.52L1051.37,954.33L1053.76,953.04L1056.15,951.66L1058.54,950.21L1060.93,948.67L1063.32,947.07L1065.72,945.41L1068.11,943.7L1070.5,941.94" fill="none" stroke="#ff0000" stroke-width="3.6" stroke-linejoin="round"/>
<path d="M687.8,968.3L690.19,968.31L692.58,968.32L694.98,968.35L697.37,968.39L699.76,968.44L702.15,968.5L704.54,968.57L706.93,968.65L709.33,968.74L711.72,968.84L714.11,968.96L716.5,969.08L718.89,969.21L721.29,969.36L723.68,969.51L726.07,969.68L728.46,969.86L730.85,970.04L733.25,970.24L735.64,970.45L738.03,970.66L740.42,970.89L742.81,971.13L745.2,971.37L747.6,971.63L749.99,971.9L752.38,972.17L754.77,972.46L757.16,972.75L759.56,973.05L761.95,973.36L764.34,973.69L766.73,974.02L769.12,974.35L771.52,974.7L773.91,975.06L776.3,975.42L778.69,975.79L781.08,976.17L783.47,976.56L785.87,976.95L788.26,977.36L790.65,977.77L793.04,978.19L795.43,978.61L797.83,979.04L800.22,979.48L802.61,979.92L805,980.38L807.39,980.83L809.79,981.3L812.18,981.77L814.57,982.24L816.96,982.72L819.35,983.21L821.75,983.7L824.14,984.19L826.53,984.69L828.92,985.2L831.31,985.71L833.7,986.22L836.1,986.74L838.49,987.26L840.88,987.79L843.27,988.31L845.66,988.85L848.06,989.38L850.45,989.92L852.84,990.46L855.23,991L857.62,991.54L860.01,992.09L862.41,992.64L864.8,993.19L867.19,993.74L869.58,994.29L871.97,994.84L874.37,995.39L876.76,995.95L879.15,996.5L881.54,997.05L883.93,997.61L886.33,998.16L888.72,998.71L891.11,999.26L893.5,999.81L895.89,1000.36L898.28,1000.91L900.68,1001.46L903.07,1002L905.46,1002.54L907.85,1003.08L910.24,1003.62L912.64,1004.15L915.03,1004.69L917.42,1005.21L919.81,1005.74L922.2,1006.26L924.6,1006.78L926.99,1007.29L929.38,1007.8L931.77,1008.31L934.16,1008.81L936.55,1009.3L938.95,1009.79L941.34,1010.28L943.73,1010.76L946.12,1011.23L948.51,1011.7L950.91,1012.17L953.3,1012.62L955.69,1013.08L958.08,1013.52L960.47,1013.96L962.87,1014.39L965.26,1014.81L967.65,1015.23L970.04,1015.64L972.43,1016.05L974.83,1016.44L977.22,1016.83L979.61,1017.21L982,1017.58L984.39,1017.94L986.78,1018.3L989.18,1018.65L991.57,1018.98L993.96,1019.31L996.35,1019.64L998.74,1019.95L1001.14,1020.25L1003.53,1020.54L1005.92,1020.83L1008.31,1021.1L1010.7,1021.37L1013.1,1021.63L1015.49,1021.87L1017.88,1022.11L1020.27,1022.34L1022.66,1022.55L1025.05,1022.76L1027.45,1022.96L1029.84,1023.14L1032.23,1023.32L1034.62,1023.49L1037.01,1023.64L1039.41,1023.79L1041.8,1023.92L1044.19,1024.04L1046.58,1024.16L1048.97,1024.26L1051.37,1024.35L1053.76,1024.43L1056.15,1024.5L1058.54,1024.56L1060.93,1024.61L1063.32,1024.65L1065.72,1024.68L1068.11,1024.69L1070.5,1024.7" fill="none" stroke="#ff0000" stroke-width="3.6" stroke-linejoin="round"/>
<text x="1082.2" y="692" font-family="'Liberation Sans', Arial, Helvetica, sans-serif" font-size="24.6" fill="#000">A</text>
<text x="1083.4" y="753.5" font-family="'Liberation Sans', Arial, Helvetica, sans-serif" font-size="24.6" fill="#000">B</text>
<text x="1083.6" y="817.6" font-family="'Liberation Sans', Arial, Helvetica, sans-serif" font-size="24.6" fill="#000">C</text>
<text x="1083.2" y="880" font-family="'Liberation Sans', Arial, Helvetica, sans-serif" font-size="24.6" fill="#000">D</text>
<text x="1083.2" y="941.5" font-family="'Liberation Sans', Arial, Helvetica, sans-serif" font-size="24.6" fill="#000">E</text>
<text x="688" y="1063.2" font-family="'Liberation Sans', Arial, Helvetica, sans-serif" font-size="29.5" fill="#262626" text-anchor="middle">0</text>
<text x="879.35" y="1063.2" font-family="'Liberation Sans', Arial, Helvetica, sans-serif" font-size="29.5" fill="#262626" text-anchor="middle">50</text>
<text x="1070.7" y="1063.2" font-family="'Liberation Sans', Arial, Helvetica, sans-serif" font-size="29.5" fill="#262626" text-anchor="middle">100</text>
<text x="836.4" y="1101.4" font-family="'Liberation Sans', Arial, Helvetica, sans-serif" font-size="32" fill="#262626">t<tspan font-size="23" dy="14.5">p</tspan><tspan dy="-14.5"> (ns)</tspan></text>
<text transform="translate(671.2,955.6) rotate(-90)" font-family="'Liberation Sans', Arial, Helvetica, sans-serif" font-size="31.5" fill="#262626" textLength="244" lengthAdjust="spacingAndGlyphs">Relative PL (a.u.)</text>
</g>
</svg></body></html>
